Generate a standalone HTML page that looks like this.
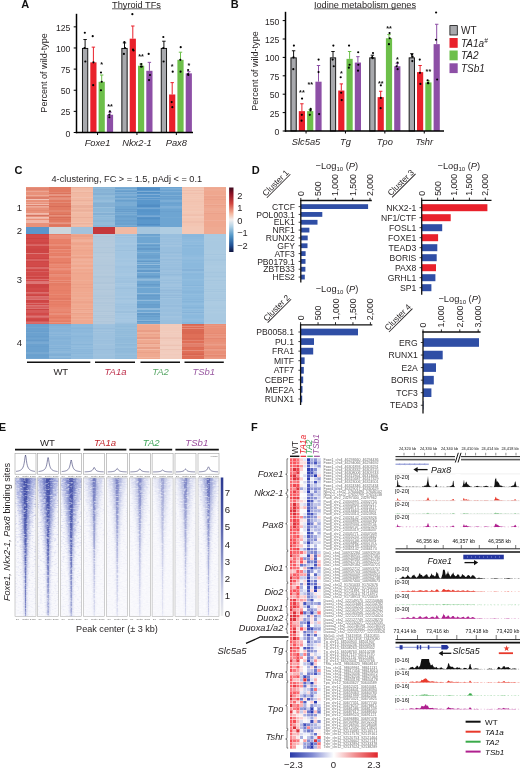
<!DOCTYPE html>
<html lang="en"><head><meta charset="utf-8"><title>Figure</title>
<style>
html,body{margin:0;padding:0;background:#fff}
svg{display:block;font-family:"Liberation Sans",Arial,Helvetica,sans-serif}
</style></head><body>
<svg width="520" height="769" viewBox="0 0 520 769">
<rect width="520" height="769" fill="#fff"/>
<text x="21.2" y="8.1" font-size="11" text-anchor="start" fill="#111" font-weight="bold">A</text>
<text x="136.5" y="7.8" font-size="9.2" text-anchor="middle" fill="#231f20">Thyroid TFs</text>
<line x1="112" y1="8.8" x2="161" y2="8.8" stroke="#231f20" stroke-width="0.7"/>
<rect x="82.45" y="48.43" width="5.3" height="84.07" fill="#a8a9ad" stroke="#111" stroke-width="0.95"/>
<line x1="85.1" y1="47.98" x2="85.1" y2="39.53" stroke="#111" stroke-width="1"/>
<line x1="83.4" y1="39.53" x2="86.8" y2="39.53" stroke="#111" stroke-width="1"/>
<circle cx="84.82" cy="32.77" r="1.08" fill="#000"/>
<circle cx="84.54" cy="47.98" r="1.08" fill="#000"/>
<circle cx="85.34" cy="61.5" r="1.08" fill="#000"/>
<rect x="90.3" y="62.35" width="6.2" height="70.15" fill="#e9212b"/>
<line x1="93.4" y1="62.35" x2="93.4" y2="47.13" stroke="#e9212b" stroke-width="1"/>
<line x1="91.7" y1="47.13" x2="95.1" y2="47.13" stroke="#e9212b" stroke-width="1"/>
<circle cx="92.72" cy="36.15" r="1.08" fill="#000"/>
<circle cx="93.46" cy="62.35" r="1.08" fill="#000"/>
<circle cx="93.19" cy="85.17" r="1.08" fill="#000"/>
<rect x="98.6" y="81.79" width="6.2" height="50.71" fill="#6dbf4a"/>
<line x1="101.7" y1="81.79" x2="101.7" y2="75.03" stroke="#6dbf4a" stroke-width="1"/>
<line x1="100" y1="75.03" x2="103.4" y2="75.03" stroke="#6dbf4a" stroke-width="1"/>
<circle cx="100.99" cy="72.49" r="1.08" fill="#000"/>
<circle cx="101.71" cy="81.79" r="1.08" fill="#000"/>
<circle cx="100.96" cy="90.24" r="1.08" fill="#000"/>
<text x="101.7" y="67.2" font-size="7.2" text-anchor="middle" fill="#111" font-weight="bold">*</text>
<rect x="106.9" y="114.75" width="6.2" height="17.75" fill="#8d4fa6"/>
<line x1="110" y1="114.75" x2="110" y2="112.22" stroke="#8d4fa6" stroke-width="1"/>
<line x1="108.3" y1="112.22" x2="111.7" y2="112.22" stroke="#8d4fa6" stroke-width="1"/>
<circle cx="109.89" cy="111.37" r="1.08" fill="#000"/>
<circle cx="109.31" cy="114.75" r="1.08" fill="#000"/>
<circle cx="109.35" cy="117.29" r="1.08" fill="#000"/>
<text x="110" y="108.7" font-size="7.2" text-anchor="middle" fill="#111" font-weight="bold">**</text>
<rect x="121.85" y="48.43" width="5.3" height="84.07" fill="#a8a9ad" stroke="#111" stroke-width="0.95"/>
<line x1="124.5" y1="47.98" x2="124.5" y2="42.91" stroke="#111" stroke-width="1"/>
<line x1="122.8" y1="42.91" x2="126.2" y2="42.91" stroke="#111" stroke-width="1"/>
<circle cx="124.38" cy="42.06" r="1.08" fill="#000"/>
<circle cx="125.02" cy="47.98" r="1.08" fill="#000"/>
<circle cx="123.9" cy="53.9" r="1.08" fill="#000"/>
<rect x="129.7" y="38.68" width="6.2" height="93.82" fill="#e9212b"/>
<line x1="132.8" y1="38.68" x2="132.8" y2="26" stroke="#e9212b" stroke-width="1"/>
<line x1="131.1" y1="26" x2="134.5" y2="26" stroke="#e9212b" stroke-width="1"/>
<circle cx="132.36" cy="14.17" r="1.08" fill="#000"/>
<circle cx="133" cy="49.67" r="1.08" fill="#000"/>
<circle cx="133.52" cy="50.52" r="1.08" fill="#000"/>
<rect x="138" y="65.73" width="6.2" height="66.77" fill="#6dbf4a"/>
<line x1="141.1" y1="65.73" x2="141.1" y2="64.04" stroke="#6dbf4a" stroke-width="1"/>
<line x1="139.4" y1="64.04" x2="142.8" y2="64.04" stroke="#6dbf4a" stroke-width="1"/>
<circle cx="141.22" cy="64.04" r="1.08" fill="#000"/>
<circle cx="140.93" cy="66.57" r="1.08" fill="#000"/>
<circle cx="141.86" cy="66.57" r="1.08" fill="#000"/>
<text x="141.1" y="58.7" font-size="7.2" text-anchor="middle" fill="#111" font-weight="bold">**</text>
<rect x="146.3" y="70.8" width="6.2" height="61.7" fill="#8d4fa6"/>
<line x1="149.4" y1="70.8" x2="149.4" y2="62.35" stroke="#8d4fa6" stroke-width="1"/>
<line x1="147.7" y1="62.35" x2="151.1" y2="62.35" stroke="#8d4fa6" stroke-width="1"/>
<circle cx="148.67" cy="53.9" r="1.08" fill="#000"/>
<circle cx="149.97" cy="75.03" r="1.08" fill="#000"/>
<circle cx="149.06" cy="80.1" r="1.08" fill="#000"/>
<rect x="161.25" y="48.43" width="5.3" height="84.07" fill="#a8a9ad" stroke="#111" stroke-width="0.95"/>
<line x1="163.9" y1="47.98" x2="163.9" y2="41.22" stroke="#111" stroke-width="1"/>
<line x1="162.2" y1="41.22" x2="165.6" y2="41.22" stroke="#111" stroke-width="1"/>
<circle cx="163.33" cy="36.99" r="1.08" fill="#000"/>
<circle cx="163.29" cy="47.98" r="1.08" fill="#000"/>
<circle cx="163.59" cy="61.5" r="1.08" fill="#000"/>
<rect x="169.1" y="94.47" width="6.2" height="38.03" fill="#e9212b"/>
<line x1="172.2" y1="94.47" x2="172.2" y2="82.63" stroke="#e9212b" stroke-width="1"/>
<line x1="170.5" y1="82.63" x2="173.9" y2="82.63" stroke="#e9212b" stroke-width="1"/>
<circle cx="172.71" cy="71.65" r="1.08" fill="#000"/>
<circle cx="171.69" cy="102.07" r="1.08" fill="#000"/>
<circle cx="172.33" cy="107.14" r="1.08" fill="#000"/>
<text x="172.2" y="69.2" font-size="7.2" text-anchor="middle" fill="#111" font-weight="bold">*</text>
<rect x="177.4" y="59.81" width="6.2" height="72.69" fill="#6dbf4a"/>
<line x1="180.5" y1="59.81" x2="180.5" y2="52.21" stroke="#6dbf4a" stroke-width="1"/>
<line x1="178.8" y1="52.21" x2="182.2" y2="52.21" stroke="#6dbf4a" stroke-width="1"/>
<circle cx="180.72" cy="47.13" r="1.08" fill="#000"/>
<circle cx="180.3" cy="59.81" r="1.08" fill="#000"/>
<circle cx="180.58" cy="71.65" r="1.08" fill="#000"/>
<rect x="185.7" y="73.34" width="6.2" height="59.16" fill="#8d4fa6"/>
<line x1="188.8" y1="73.34" x2="188.8" y2="71.65" stroke="#8d4fa6" stroke-width="1"/>
<line x1="187.1" y1="71.65" x2="190.5" y2="71.65" stroke="#8d4fa6" stroke-width="1"/>
<circle cx="188.1" cy="69.96" r="1.08" fill="#000"/>
<circle cx="188.1" cy="74.18" r="1.08" fill="#000"/>
<circle cx="188.33" cy="75.03" r="1.08" fill="#000"/>
<text x="188.8" y="67.7" font-size="7.2" text-anchor="middle" fill="#111" font-weight="bold">*</text>
<line x1="76.5" y1="13.8" x2="76.5" y2="133.2" stroke="#000" stroke-width="1.5"/>
<line x1="75.8" y1="132.5" x2="193" y2="132.5" stroke="#000" stroke-width="1.5"/>
<line x1="73.7" y1="132.5" x2="76.5" y2="132.5" stroke="#000" stroke-width="1"/>
<text x="70.4" y="136.5" font-size="8.7" text-anchor="end" fill="#231f20">0</text>
<line x1="73.7" y1="111.37" x2="76.5" y2="111.37" stroke="#000" stroke-width="1"/>
<text x="70.4" y="115.37" font-size="8.7" text-anchor="end" fill="#231f20">25</text>
<line x1="73.7" y1="90.24" x2="76.5" y2="90.24" stroke="#000" stroke-width="1"/>
<text x="70.4" y="94.24" font-size="8.7" text-anchor="end" fill="#231f20">50</text>
<line x1="73.7" y1="69.11" x2="76.5" y2="69.11" stroke="#000" stroke-width="1"/>
<text x="70.4" y="73.11" font-size="8.7" text-anchor="end" fill="#231f20">75</text>
<line x1="73.7" y1="47.98" x2="76.5" y2="47.98" stroke="#000" stroke-width="1"/>
<text x="70.4" y="51.98" font-size="8.7" text-anchor="end" fill="#231f20">100</text>
<line x1="73.7" y1="26.85" x2="76.5" y2="26.85" stroke="#000" stroke-width="1"/>
<text x="70.4" y="30.85" font-size="8.7" text-anchor="end" fill="#231f20">125</text>
<line x1="97.55" y1="132.5" x2="97.55" y2="135" stroke="#000" stroke-width="1"/>
<text x="97.55" y="145.6" font-size="9.3" text-anchor="middle" fill="#231f20" font-style="italic">Foxe1</text>
<line x1="136.95" y1="132.5" x2="136.95" y2="135" stroke="#000" stroke-width="1"/>
<text x="136.95" y="145.6" font-size="9.3" text-anchor="middle" fill="#231f20" font-style="italic">Nkx2-1</text>
<line x1="176.35" y1="132.5" x2="176.35" y2="135" stroke="#000" stroke-width="1"/>
<text x="176.35" y="145.6" font-size="9.3" text-anchor="middle" fill="#231f20" font-style="italic">Pax8</text>
<text x="47.2" y="72.9" font-size="9.05" text-anchor="middle" fill="#231f20" transform="rotate(-90 47.2 72.9)">Percent of wild-type</text>
<text x="230.8" y="8" font-size="11" text-anchor="start" fill="#111" font-weight="bold">B</text>
<text x="365" y="7.8" font-size="9.2" text-anchor="middle" fill="#231f20">Iodine metabolism genes</text>
<line x1="314" y1="8.8" x2="416" y2="8.8" stroke="#231f20" stroke-width="0.7"/>
<rect x="290.95" y="57.85" width="5.3" height="73.15" fill="#a8a9ad" stroke="#111" stroke-width="0.95"/>
<line x1="293.6" y1="57.4" x2="293.6" y2="50.78" stroke="#111" stroke-width="1"/>
<line x1="291.9" y1="50.78" x2="295.3" y2="50.78" stroke="#111" stroke-width="1"/>
<circle cx="293.89" cy="45.62" r="1.08" fill="#000"/>
<circle cx="293.48" cy="57.4" r="1.08" fill="#000"/>
<circle cx="293.3" cy="69.18" r="1.08" fill="#000"/>
<rect x="298.8" y="111.13" width="6.2" height="19.87" fill="#e9212b"/>
<line x1="301.9" y1="111.13" x2="301.9" y2="103.77" stroke="#e9212b" stroke-width="1"/>
<line x1="300.2" y1="103.77" x2="303.6" y2="103.77" stroke="#e9212b" stroke-width="1"/>
<circle cx="302.04" cy="98.62" r="1.08" fill="#000"/>
<circle cx="301.83" cy="114.81" r="1.08" fill="#000"/>
<circle cx="301.58" cy="120.7" r="1.08" fill="#000"/>
<text x="301.9" y="94.7" font-size="7.2" text-anchor="middle" fill="#111" font-weight="bold">**</text>
<rect x="307.1" y="111.13" width="6.2" height="19.87" fill="#6dbf4a"/>
<line x1="310.2" y1="111.13" x2="310.2" y2="109.66" stroke="#6dbf4a" stroke-width="1"/>
<line x1="308.5" y1="109.66" x2="311.9" y2="109.66" stroke="#6dbf4a" stroke-width="1"/>
<circle cx="310.67" cy="108.92" r="1.08" fill="#000"/>
<circle cx="310.52" cy="110.39" r="1.08" fill="#000"/>
<circle cx="309.79" cy="114.81" r="1.08" fill="#000"/>
<text x="310.2" y="87.2" font-size="7.2" text-anchor="middle" fill="#111" font-weight="bold">**</text>
<rect x="315.4" y="81.69" width="6.2" height="49.31" fill="#8d4fa6"/>
<line x1="318.5" y1="81.69" x2="318.5" y2="65.5" stroke="#8d4fa6" stroke-width="1"/>
<line x1="316.8" y1="65.5" x2="320.2" y2="65.5" stroke="#8d4fa6" stroke-width="1"/>
<circle cx="318.62" cy="59.61" r="1.08" fill="#000"/>
<circle cx="318.54" cy="72.12" r="1.08" fill="#000"/>
<circle cx="319.1" cy="114.07" r="1.08" fill="#000"/>
<rect x="330.35" y="57.85" width="5.3" height="73.15" fill="#a8a9ad" stroke="#111" stroke-width="0.95"/>
<line x1="333" y1="57.4" x2="333" y2="51.51" stroke="#111" stroke-width="1"/>
<line x1="331.3" y1="51.51" x2="334.7" y2="51.51" stroke="#111" stroke-width="1"/>
<circle cx="333.37" cy="45.62" r="1.08" fill="#000"/>
<circle cx="332.66" cy="59.61" r="1.08" fill="#000"/>
<circle cx="333.77" cy="66.23" r="1.08" fill="#000"/>
<rect x="338.2" y="90.52" width="6.2" height="40.48" fill="#e9212b"/>
<line x1="341.3" y1="90.52" x2="341.3" y2="83.9" stroke="#e9212b" stroke-width="1"/>
<line x1="339.6" y1="83.9" x2="343" y2="83.9" stroke="#e9212b" stroke-width="1"/>
<circle cx="340.69" cy="77.27" r="1.08" fill="#000"/>
<circle cx="341.17" cy="92.73" r="1.08" fill="#000"/>
<circle cx="341.71" cy="100.09" r="1.08" fill="#000"/>
<text x="341.3" y="75.7" font-size="7.2" text-anchor="middle" fill="#111" font-weight="bold">*</text>
<rect x="346.5" y="58.87" width="6.2" height="72.13" fill="#6dbf4a"/>
<line x1="349.6" y1="58.87" x2="349.6" y2="51.51" stroke="#6dbf4a" stroke-width="1"/>
<line x1="347.9" y1="51.51" x2="351.3" y2="51.51" stroke="#6dbf4a" stroke-width="1"/>
<circle cx="349.04" cy="45.62" r="1.08" fill="#000"/>
<circle cx="349.58" cy="64.76" r="1.08" fill="#000"/>
<circle cx="348.86" cy="67.7" r="1.08" fill="#000"/>
<rect x="354.8" y="62.55" width="6.2" height="68.45" fill="#8d4fa6"/>
<line x1="357.9" y1="62.55" x2="357.9" y2="56.66" stroke="#8d4fa6" stroke-width="1"/>
<line x1="356.2" y1="56.66" x2="359.6" y2="56.66" stroke="#8d4fa6" stroke-width="1"/>
<circle cx="358.17" cy="52.25" r="1.08" fill="#000"/>
<circle cx="358.32" cy="64.76" r="1.08" fill="#000"/>
<circle cx="358.02" cy="70.65" r="1.08" fill="#000"/>
<rect x="369.75" y="57.85" width="5.3" height="73.15" fill="#a8a9ad" stroke="#111" stroke-width="0.95"/>
<line x1="372.4" y1="57.4" x2="372.4" y2="55.19" stroke="#111" stroke-width="1"/>
<line x1="370.7" y1="55.19" x2="374.1" y2="55.19" stroke="#111" stroke-width="1"/>
<circle cx="373" cy="52.98" r="1.08" fill="#000"/>
<circle cx="372.1" cy="57.4" r="1.08" fill="#000"/>
<circle cx="372.71" cy="58.14" r="1.08" fill="#000"/>
<rect x="377.6" y="97.14" width="6.2" height="33.86" fill="#e9212b"/>
<line x1="380.7" y1="97.14" x2="380.7" y2="91.26" stroke="#e9212b" stroke-width="1"/>
<line x1="379" y1="91.26" x2="382.4" y2="91.26" stroke="#e9212b" stroke-width="1"/>
<circle cx="380.85" cy="85.37" r="1.08" fill="#000"/>
<circle cx="380.83" cy="97.88" r="1.08" fill="#000"/>
<circle cx="380.63" cy="108.18" r="1.08" fill="#000"/>
<text x="380.7" y="86.2" font-size="7.2" text-anchor="middle" fill="#111" font-weight="bold">**</text>
<rect x="385.9" y="38.26" width="6.2" height="92.74" fill="#6dbf4a"/>
<line x1="389" y1="38.26" x2="389" y2="34.58" stroke="#6dbf4a" stroke-width="1"/>
<line x1="387.3" y1="34.58" x2="390.7" y2="34.58" stroke="#6dbf4a" stroke-width="1"/>
<circle cx="389.54" cy="33.11" r="1.08" fill="#000"/>
<circle cx="389.71" cy="38.26" r="1.08" fill="#000"/>
<circle cx="388.96" cy="44.15" r="1.08" fill="#000"/>
<text x="389" y="31.2" font-size="7.2" text-anchor="middle" fill="#111" font-weight="bold">**</text>
<rect x="394.2" y="66.23" width="6.2" height="64.77" fill="#8d4fa6"/>
<line x1="397.3" y1="66.23" x2="397.3" y2="63.29" stroke="#8d4fa6" stroke-width="1"/>
<line x1="395.6" y1="63.29" x2="399" y2="63.29" stroke="#8d4fa6" stroke-width="1"/>
<circle cx="397.56" cy="62.55" r="1.08" fill="#000"/>
<circle cx="396.6" cy="66.23" r="1.08" fill="#000"/>
<circle cx="397.62" cy="69.18" r="1.08" fill="#000"/>
<text x="397.3" y="61.7" font-size="7.2" text-anchor="middle" fill="#111" font-weight="bold">*</text>
<rect x="409.15" y="57.85" width="5.3" height="73.15" fill="#a8a9ad" stroke="#111" stroke-width="0.95"/>
<line x1="411.8" y1="57.4" x2="411.8" y2="53.72" stroke="#111" stroke-width="1"/>
<line x1="410.1" y1="53.72" x2="413.5" y2="53.72" stroke="#111" stroke-width="1"/>
<circle cx="412.04" cy="54.46" r="1.08" fill="#000"/>
<circle cx="412.59" cy="56.66" r="1.08" fill="#000"/>
<circle cx="412.32" cy="61.08" r="1.08" fill="#000"/>
<rect x="417" y="72.12" width="6.2" height="58.88" fill="#e9212b"/>
<line x1="420.1" y1="72.12" x2="420.1" y2="65.5" stroke="#e9212b" stroke-width="1"/>
<line x1="418.4" y1="65.5" x2="421.8" y2="65.5" stroke="#e9212b" stroke-width="1"/>
<circle cx="419.76" cy="59.61" r="1.08" fill="#000"/>
<circle cx="419.92" cy="72.86" r="1.08" fill="#000"/>
<circle cx="420.37" cy="83.9" r="1.08" fill="#000"/>
<rect x="425.3" y="82.42" width="6.2" height="48.58" fill="#6dbf4a"/>
<line x1="428.4" y1="82.42" x2="428.4" y2="80.95" stroke="#6dbf4a" stroke-width="1"/>
<line x1="426.7" y1="80.95" x2="430.1" y2="80.95" stroke="#6dbf4a" stroke-width="1"/>
<circle cx="427.64" cy="80.22" r="1.08" fill="#000"/>
<circle cx="428.34" cy="83.16" r="1.08" fill="#000"/>
<circle cx="427.87" cy="83.16" r="1.08" fill="#000"/>
<text x="428.4" y="73.7" font-size="7.2" text-anchor="middle" fill="#111" font-weight="bold">**</text>
<rect x="433.6" y="44.15" width="6.2" height="86.85" fill="#8d4fa6"/>
<line x1="436.7" y1="44.15" x2="436.7" y2="24.28" stroke="#8d4fa6" stroke-width="1"/>
<line x1="435" y1="24.28" x2="438.4" y2="24.28" stroke="#8d4fa6" stroke-width="1"/>
<circle cx="436.09" cy="12.5" r="1.08" fill="#000"/>
<circle cx="435.99" cy="39.74" r="1.08" fill="#000"/>
<circle cx="437.13" cy="79.48" r="1.08" fill="#000"/>
<line x1="285.5" y1="11.8" x2="285.5" y2="131.7" stroke="#000" stroke-width="1.5"/>
<line x1="284.8" y1="131" x2="444" y2="131" stroke="#000" stroke-width="1.5"/>
<line x1="282.7" y1="131" x2="285.5" y2="131" stroke="#000" stroke-width="1"/>
<text x="279.4" y="135" font-size="8.7" text-anchor="end" fill="#231f20">0</text>
<line x1="282.7" y1="112.6" x2="285.5" y2="112.6" stroke="#000" stroke-width="1"/>
<text x="279.4" y="116.6" font-size="8.7" text-anchor="end" fill="#231f20">25</text>
<line x1="282.7" y1="94.2" x2="285.5" y2="94.2" stroke="#000" stroke-width="1"/>
<text x="279.4" y="98.2" font-size="8.7" text-anchor="end" fill="#231f20">50</text>
<line x1="282.7" y1="75.8" x2="285.5" y2="75.8" stroke="#000" stroke-width="1"/>
<text x="279.4" y="79.8" font-size="8.7" text-anchor="end" fill="#231f20">75</text>
<line x1="282.7" y1="57.4" x2="285.5" y2="57.4" stroke="#000" stroke-width="1"/>
<text x="279.4" y="61.4" font-size="8.7" text-anchor="end" fill="#231f20">100</text>
<line x1="282.7" y1="39" x2="285.5" y2="39" stroke="#000" stroke-width="1"/>
<text x="279.4" y="43" font-size="8.7" text-anchor="end" fill="#231f20">125</text>
<line x1="282.7" y1="20.6" x2="285.5" y2="20.6" stroke="#000" stroke-width="1"/>
<text x="279.4" y="24.6" font-size="8.7" text-anchor="end" fill="#231f20">150</text>
<line x1="306.05" y1="131" x2="306.05" y2="133.5" stroke="#000" stroke-width="1"/>
<text x="306.05" y="145.4" font-size="9.3" text-anchor="middle" fill="#231f20" font-style="italic">Slc5a5</text>
<line x1="345.45" y1="131" x2="345.45" y2="133.5" stroke="#000" stroke-width="1"/>
<text x="345.45" y="145.4" font-size="9.3" text-anchor="middle" fill="#231f20" font-style="italic">Tg</text>
<line x1="384.85" y1="131" x2="384.85" y2="133.5" stroke="#000" stroke-width="1"/>
<text x="384.85" y="145.4" font-size="9.3" text-anchor="middle" fill="#231f20" font-style="italic">Tpo</text>
<line x1="424.25" y1="131" x2="424.25" y2="133.5" stroke="#000" stroke-width="1"/>
<text x="424.25" y="145.4" font-size="9.3" text-anchor="middle" fill="#231f20" font-style="italic">Tshr</text>
<text x="257.8" y="71" font-size="9.05" text-anchor="middle" fill="#231f20" transform="rotate(-90 257.8 71)">Percent of wild-type</text>
<rect x="449.9" y="25.6" width="7.4" height="9.4" fill="#a8a9ad" stroke="#111" stroke-width="0.8"/>
<text x="461" y="33.8" font-size="10" text-anchor="start" fill="#231f20">WT</text>
<rect x="449.5" y="38" width="8.2" height="9.8" fill="#e9212b"/>
<text x="461" y="46.6" font-size="10" font-style="italic" fill="#231f20">TA1a<tspan font-size="6.5" dy="-3.5">#</tspan></text>
<rect x="449.5" y="50.5" width="8.2" height="9.8" fill="#6dbf4a"/>
<text x="461" y="59.1" font-size="10" text-anchor="start" fill="#231f20" font-style="italic">TA2</text>
<rect x="449.5" y="63.3" width="8.2" height="9.8" fill="#8d4fa6"/>
<text x="461" y="71.9" font-size="10" text-anchor="start" fill="#231f20" font-style="italic">TSb1</text>
<text x="14.5" y="174.2" font-size="11" text-anchor="start" fill="#111" font-weight="bold">C</text>
<text x="126.8" y="182" font-size="9.2" text-anchor="middle" fill="#231f20">4-clustering, FC &gt; = 1.5, pAdj &lt; = 0.1</text>
<g shape-rendering="crispEdges">
<rect x="26.3" y="187" width="22.25" height="39.8" fill="#e8917a"/>
<rect x="26.3" y="188.4" width="22.2" height="1.4" fill="#a01414" opacity="0.09"/>
<rect x="26.3" y="191.2" width="22.2" height="1" fill="#fff" opacity="0.18"/>
<rect x="26.3" y="195.4" width="22.2" height="0.8" fill="#fff" opacity="0.23"/>
<rect x="26.3" y="197" width="22.2" height="1" fill="#a01414" opacity="0.15"/>
<rect x="26.3" y="198" width="22.2" height="1" fill="#a01414" opacity="0.14"/>
<rect x="26.3" y="199" width="22.2" height="1" fill="#fff" opacity="0.46"/>
<rect x="26.3" y="201.8" width="22.2" height="1" fill="#fff" opacity="0.19"/>
<rect x="26.3" y="203.6" width="22.2" height="1.4" fill="#fff" opacity="0.38"/>
<rect x="26.3" y="205" width="22.2" height="1" fill="#a01414" opacity="0.14"/>
<rect x="26.3" y="206" width="22.2" height="1.4" fill="#fff" opacity="0.22"/>
<rect x="26.3" y="207.4" width="22.2" height="1" fill="#fff" opacity="0.15"/>
<rect x="26.3" y="209.8" width="22.2" height="0.8" fill="#a01414" opacity="0.06"/>
<rect x="26.3" y="213" width="22.2" height="1" fill="#fff" opacity="0.39"/>
<rect x="26.3" y="214" width="22.2" height="1" fill="#fff" opacity="0.28"/>
<rect x="26.3" y="215" width="22.2" height="1" fill="#a01414" opacity="0.24"/>
<rect x="26.3" y="217" width="22.2" height="0.8" fill="#fff" opacity="0.43"/>
<rect x="26.3" y="217.8" width="22.2" height="0.8" fill="#fff" opacity="0.3"/>
<rect x="26.3" y="220.4" width="22.2" height="1.4" fill="#fff" opacity="0.34"/>
<rect x="26.3" y="221.8" width="22.2" height="1" fill="#fff" opacity="0.36"/>
<rect x="48.5" y="187" width="22.25" height="39.8" fill="#e17a62"/>
<rect x="48.5" y="192.4" width="22.2" height="0.8" fill="#fff" opacity="0.09"/>
<rect x="48.5" y="193.2" width="22.2" height="1" fill="#a01414" opacity="0.06"/>
<rect x="48.5" y="194.2" width="22.2" height="1.4" fill="#fff" opacity="0.21"/>
<rect x="48.5" y="195.6" width="22.2" height="0.8" fill="#fff" opacity="0.2"/>
<rect x="48.5" y="196.4" width="22.2" height="0.8" fill="#a01414" opacity="0.05"/>
<rect x="48.5" y="197.2" width="22.2" height="0.8" fill="#fff" opacity="0.12"/>
<rect x="48.5" y="198" width="22.2" height="0.8" fill="#fff" opacity="0.18"/>
<rect x="48.5" y="198.8" width="22.2" height="1" fill="#fff" opacity="0.16"/>
<rect x="48.5" y="201.8" width="22.2" height="0.8" fill="#fff" opacity="0.13"/>
<rect x="48.5" y="202.6" width="22.2" height="0.8" fill="#a01414" opacity="0.08"/>
<rect x="48.5" y="203.4" width="22.2" height="1" fill="#a01414" opacity="0.04"/>
<rect x="48.5" y="206.4" width="22.2" height="1" fill="#a01414" opacity="0.12"/>
<rect x="48.5" y="210.4" width="22.2" height="1.4" fill="#fff" opacity="0.09"/>
<rect x="48.5" y="213.6" width="22.2" height="1" fill="#a01414" opacity="0.09"/>
<rect x="48.5" y="214.6" width="22.2" height="1.4" fill="#fff" opacity="0.17"/>
<rect x="48.5" y="216" width="22.2" height="0.8" fill="#fff" opacity="0.08"/>
<rect x="48.5" y="216.8" width="22.2" height="0.8" fill="#a01414" opacity="0.12"/>
<rect x="48.5" y="218.6" width="22.2" height="1" fill="#a01414" opacity="0.05"/>
<rect x="48.5" y="221.6" width="22.2" height="1.4" fill="#fff" opacity="0.15"/>
<rect x="48.5" y="223" width="22.2" height="1" fill="#fff" opacity="0.22"/>
<rect x="48.5" y="225" width="22.2" height="1.4" fill="#a01414" opacity="0.05"/>
<rect x="70.7" y="187" width="22.25" height="39.8" fill="#f1b9a3"/>
<rect x="70.7" y="187" width="22.2" height="1" fill="#a01414" opacity="0.06"/>
<rect x="70.7" y="189.8" width="22.2" height="0.8" fill="#fff" opacity="0.06"/>
<rect x="70.7" y="190.6" width="22.2" height="1.4" fill="#fff" opacity="0.1"/>
<rect x="70.7" y="192" width="22.2" height="1.4" fill="#a01414" opacity="0.03"/>
<rect x="70.7" y="197" width="22.2" height="1.4" fill="#fff" opacity="0.11"/>
<rect x="70.7" y="200.2" width="22.2" height="0.8" fill="#a01414" opacity="0.05"/>
<rect x="70.7" y="202" width="22.2" height="1" fill="#fff" opacity="0.06"/>
<rect x="70.7" y="203.8" width="22.2" height="0.8" fill="#fff" opacity="0.07"/>
<rect x="70.7" y="204.6" width="22.2" height="1" fill="#a01414" opacity="0.06"/>
<rect x="70.7" y="205.6" width="22.2" height="0.8" fill="#a01414" opacity="0.03"/>
<rect x="70.7" y="206.4" width="22.2" height="1.4" fill="#a01414" opacity="0.06"/>
<rect x="70.7" y="209.2" width="22.2" height="1" fill="#a01414" opacity="0.03"/>
<rect x="70.7" y="210.2" width="22.2" height="0.8" fill="#a01414" opacity="0.06"/>
<rect x="70.7" y="211" width="22.2" height="1" fill="#a01414" opacity="0.03"/>
<rect x="70.7" y="212" width="22.2" height="0.8" fill="#fff" opacity="0.08"/>
<rect x="70.7" y="216.6" width="22.2" height="0.8" fill="#fff" opacity="0.09"/>
<rect x="70.7" y="217.4" width="22.2" height="1" fill="#a01414" opacity="0.06"/>
<rect x="70.7" y="222" width="22.2" height="1.4" fill="#fff" opacity="0.1"/>
<rect x="70.7" y="223.4" width="22.2" height="1" fill="#a01414" opacity="0.04"/>
<rect x="70.7" y="225.4" width="22.2" height="1" fill="#fff" opacity="0.09"/>
<rect x="92.9" y="187" width="22.25" height="39.8" fill="#8bb7d8"/>
<rect x="92.9" y="188" width="22.2" height="1" fill="#fff" opacity="0.04"/>
<rect x="92.9" y="189" width="22.2" height="1.4" fill="#0d3f86" opacity="0.04"/>
<rect x="92.9" y="190.4" width="22.2" height="1.4" fill="#0d3f86" opacity="0.02"/>
<rect x="92.9" y="193.4" width="22.2" height="1.4" fill="#0d3f86" opacity="0.05"/>
<rect x="92.9" y="194.8" width="22.2" height="1" fill="#fff" opacity="0.06"/>
<rect x="92.9" y="195.8" width="22.2" height="1.4" fill="#fff" opacity="0.07"/>
<rect x="92.9" y="199" width="22.2" height="0.8" fill="#fff" opacity="0.04"/>
<rect x="92.9" y="199.8" width="22.2" height="1" fill="#fff" opacity="0.08"/>
<rect x="92.9" y="200.8" width="22.2" height="0.8" fill="#fff" opacity="0.1"/>
<rect x="92.9" y="202.6" width="22.2" height="1.4" fill="#0d3f86" opacity="0.05"/>
<rect x="92.9" y="204" width="22.2" height="1" fill="#0d3f86" opacity="0.04"/>
<rect x="92.9" y="205" width="22.2" height="1" fill="#0d3f86" opacity="0.04"/>
<rect x="92.9" y="206" width="22.2" height="1" fill="#0d3f86" opacity="0.05"/>
<rect x="92.9" y="207" width="22.2" height="1" fill="#fff" opacity="0.11"/>
<rect x="92.9" y="212" width="22.2" height="1" fill="#fff" opacity="0.11"/>
<rect x="92.9" y="213" width="22.2" height="1" fill="#0d3f86" opacity="0.05"/>
<rect x="92.9" y="214" width="22.2" height="0.8" fill="#0d3f86" opacity="0.05"/>
<rect x="92.9" y="214.8" width="22.2" height="1" fill="#fff" opacity="0.09"/>
<rect x="92.9" y="216.8" width="22.2" height="1.4" fill="#fff" opacity="0.08"/>
<rect x="92.9" y="218.2" width="22.2" height="1.4" fill="#fff" opacity="0.05"/>
<rect x="92.9" y="222.4" width="22.2" height="1.4" fill="#fff" opacity="0.07"/>
<rect x="92.9" y="223.8" width="22.2" height="1.4" fill="#fff" opacity="0.08"/>
<rect x="115.1" y="187" width="22.25" height="39.8" fill="#6fa5d1"/>
<rect x="115.1" y="187" width="22.2" height="1" fill="#fff" opacity="0.09"/>
<rect x="115.1" y="189" width="22.2" height="0.8" fill="#fff" opacity="0.15"/>
<rect x="115.1" y="191.2" width="22.2" height="1" fill="#0d3f86" opacity="0.07"/>
<rect x="115.1" y="192.2" width="22.2" height="1" fill="#fff" opacity="0.13"/>
<rect x="115.1" y="194.2" width="22.2" height="1.4" fill="#fff" opacity="0.11"/>
<rect x="115.1" y="196.6" width="22.2" height="1" fill="#0d3f86" opacity="0.02"/>
<rect x="115.1" y="197.6" width="22.2" height="1" fill="#fff" opacity="0.15"/>
<rect x="115.1" y="198.6" width="22.2" height="0.8" fill="#0d3f86" opacity="0.06"/>
<rect x="115.1" y="199.4" width="22.2" height="1" fill="#fff" opacity="0.07"/>
<rect x="115.1" y="200.4" width="22.2" height="0.8" fill="#0d3f86" opacity="0.06"/>
<rect x="115.1" y="202" width="22.2" height="0.8" fill="#fff" opacity="0.08"/>
<rect x="115.1" y="202.8" width="22.2" height="1.4" fill="#fff" opacity="0.07"/>
<rect x="115.1" y="204.2" width="22.2" height="1.4" fill="#fff" opacity="0.08"/>
<rect x="115.1" y="208.8" width="22.2" height="0.8" fill="#0d3f86" opacity="0.08"/>
<rect x="115.1" y="211" width="22.2" height="1" fill="#0d3f86" opacity="0.07"/>
<rect x="115.1" y="212" width="22.2" height="0.8" fill="#fff" opacity="0.08"/>
<rect x="115.1" y="214.2" width="22.2" height="1" fill="#fff" opacity="0.08"/>
<rect x="115.1" y="216.2" width="22.2" height="1" fill="#0d3f86" opacity="0.06"/>
<rect x="115.1" y="217.2" width="22.2" height="1" fill="#0d3f86" opacity="0.02"/>
<rect x="115.1" y="220" width="22.2" height="1" fill="#0d3f86" opacity="0.05"/>
<rect x="115.1" y="221" width="22.2" height="1.4" fill="#0d3f86" opacity="0.02"/>
<rect x="115.1" y="223.2" width="22.2" height="1.4" fill="#0d3f86" opacity="0.03"/>
<rect x="115.1" y="224.6" width="22.2" height="0.8" fill="#fff" opacity="0.06"/>
<rect x="115.1" y="225.4" width="22.2" height="0.8" fill="#fff" opacity="0.09"/>
<rect x="137.3" y="187" width="22.25" height="39.8" fill="#5a97cc"/>
<rect x="137.3" y="188.4" width="22.2" height="1.4" fill="#0d3f86" opacity="0.1"/>
<rect x="137.3" y="190.8" width="22.2" height="1" fill="#fff" opacity="0.21"/>
<rect x="137.3" y="191.8" width="22.2" height="1" fill="#0d3f86" opacity="0.09"/>
<rect x="137.3" y="193.8" width="22.2" height="1" fill="#fff" opacity="0.22"/>
<rect x="137.3" y="196.6" width="22.2" height="0.8" fill="#fff" opacity="0.17"/>
<rect x="137.3" y="197.4" width="22.2" height="0.8" fill="#fff" opacity="0.19"/>
<rect x="137.3" y="199.2" width="22.2" height="1" fill="#fff" opacity="0.12"/>
<rect x="137.3" y="203.8" width="22.2" height="1" fill="#0d3f86" opacity="0.06"/>
<rect x="137.3" y="204.8" width="22.2" height="1" fill="#0d3f86" opacity="0.11"/>
<rect x="137.3" y="205.8" width="22.2" height="1" fill="#0d3f86" opacity="0.1"/>
<rect x="137.3" y="206.8" width="22.2" height="1" fill="#fff" opacity="0.08"/>
<rect x="137.3" y="207.8" width="22.2" height="1" fill="#fff" opacity="0.16"/>
<rect x="137.3" y="210.2" width="22.2" height="1.4" fill="#0d3f86" opacity="0.03"/>
<rect x="137.3" y="214.8" width="22.2" height="1" fill="#fff" opacity="0.13"/>
<rect x="137.3" y="215.8" width="22.2" height="1" fill="#fff" opacity="0.18"/>
<rect x="137.3" y="216.8" width="22.2" height="1" fill="#0d3f86" opacity="0.05"/>
<rect x="137.3" y="217.8" width="22.2" height="1" fill="#0d3f86" opacity="0.09"/>
<rect x="137.3" y="218.8" width="22.2" height="1" fill="#0d3f86" opacity="0.03"/>
<rect x="137.3" y="224.2" width="22.2" height="1" fill="#0d3f86" opacity="0.1"/>
<rect x="137.3" y="226.2" width="22.2" height="0.6" fill="#fff" opacity="0.16"/>
<rect x="159.5" y="187" width="22.25" height="39.8" fill="#6ea5d2"/>
<rect x="159.5" y="187.8" width="22.2" height="1.4" fill="#fff" opacity="0.11"/>
<rect x="159.5" y="189.2" width="22.2" height="0.8" fill="#fff" opacity="0.05"/>
<rect x="159.5" y="190" width="22.2" height="1" fill="#0d3f86" opacity="0.02"/>
<rect x="159.5" y="191" width="22.2" height="1.4" fill="#fff" opacity="0.11"/>
<rect x="159.5" y="193.4" width="22.2" height="1.4" fill="#0d3f86" opacity="0.03"/>
<rect x="159.5" y="194.8" width="22.2" height="1" fill="#fff" opacity="0.1"/>
<rect x="159.5" y="195.8" width="22.2" height="0.8" fill="#0d3f86" opacity="0.05"/>
<rect x="159.5" y="198.2" width="22.2" height="0.8" fill="#0d3f86" opacity="0.05"/>
<rect x="159.5" y="200.4" width="22.2" height="1" fill="#fff" opacity="0.1"/>
<rect x="159.5" y="201.4" width="22.2" height="1" fill="#fff" opacity="0.09"/>
<rect x="159.5" y="203.4" width="22.2" height="0.8" fill="#0d3f86" opacity="0.03"/>
<rect x="159.5" y="206.2" width="22.2" height="1.4" fill="#fff" opacity="0.11"/>
<rect x="159.5" y="207.6" width="22.2" height="1" fill="#fff" opacity="0.06"/>
<rect x="159.5" y="211" width="22.2" height="1" fill="#0d3f86" opacity="0.04"/>
<rect x="159.5" y="216.8" width="22.2" height="0.8" fill="#fff" opacity="0.04"/>
<rect x="181.7" y="187" width="22.25" height="39.8" fill="#f3c5b2"/>
<rect x="181.7" y="187" width="22.2" height="1" fill="#a01414" opacity="0.01"/>
<rect x="181.7" y="189" width="22.2" height="1" fill="#fff" opacity="0.06"/>
<rect x="181.7" y="190" width="22.2" height="1" fill="#a01414" opacity="0.04"/>
<rect x="181.7" y="191" width="22.2" height="1" fill="#fff" opacity="0.06"/>
<rect x="181.7" y="192.8" width="22.2" height="1.4" fill="#a01414" opacity="0.03"/>
<rect x="181.7" y="194.2" width="22.2" height="1" fill="#fff" opacity="0.04"/>
<rect x="181.7" y="196" width="22.2" height="1.4" fill="#fff" opacity="0.05"/>
<rect x="181.7" y="198.4" width="22.2" height="1" fill="#fff" opacity="0.06"/>
<rect x="181.7" y="200.8" width="22.2" height="0.8" fill="#a01414" opacity="0.01"/>
<rect x="181.7" y="204.6" width="22.2" height="1.4" fill="#fff" opacity="0.05"/>
<rect x="181.7" y="207.8" width="22.2" height="1" fill="#fff" opacity="0.05"/>
<rect x="181.7" y="211.2" width="22.2" height="0.8" fill="#fff" opacity="0.07"/>
<rect x="181.7" y="212" width="22.2" height="1" fill="#fff" opacity="0.05"/>
<rect x="181.7" y="213" width="22.2" height="1" fill="#fff" opacity="0.03"/>
<rect x="181.7" y="214" width="22.2" height="0.8" fill="#a01414" opacity="0.02"/>
<rect x="181.7" y="214.8" width="22.2" height="1" fill="#a01414" opacity="0.03"/>
<rect x="181.7" y="215.8" width="22.2" height="0.8" fill="#fff" opacity="0.08"/>
<rect x="181.7" y="216.6" width="22.2" height="1.4" fill="#fff" opacity="0.08"/>
<rect x="181.7" y="221.4" width="22.2" height="1.4" fill="#a01414" opacity="0.03"/>
<rect x="181.7" y="226.2" width="22.2" height="0.6" fill="#fff" opacity="0.04"/>
<rect x="203.9" y="187" width="22.25" height="39.8" fill="#efa78f"/>
<rect x="203.9" y="187" width="22.2" height="1.4" fill="#fff" opacity="0.06"/>
<rect x="203.9" y="189.4" width="22.2" height="1" fill="#fff" opacity="0.05"/>
<rect x="203.9" y="190.4" width="22.2" height="1" fill="#fff" opacity="0.04"/>
<rect x="203.9" y="195.2" width="22.2" height="1" fill="#fff" opacity="0.08"/>
<rect x="203.9" y="196.2" width="22.2" height="1" fill="#a01414" opacity="0.02"/>
<rect x="203.9" y="197.2" width="22.2" height="0.8" fill="#a01414" opacity="0.02"/>
<rect x="203.9" y="198.8" width="22.2" height="1" fill="#a01414" opacity="0.04"/>
<rect x="203.9" y="201.6" width="22.2" height="0.8" fill="#a01414" opacity="0.02"/>
<rect x="203.9" y="204.4" width="22.2" height="0.8" fill="#fff" opacity="0.08"/>
<rect x="203.9" y="205.2" width="22.2" height="1" fill="#a01414" opacity="0.04"/>
<rect x="203.9" y="207.6" width="22.2" height="0.8" fill="#fff" opacity="0.03"/>
<rect x="203.9" y="208.4" width="22.2" height="1.4" fill="#fff" opacity="0.05"/>
<rect x="203.9" y="209.8" width="22.2" height="1" fill="#fff" opacity="0.05"/>
<rect x="203.9" y="211.6" width="22.2" height="1" fill="#fff" opacity="0.04"/>
<rect x="203.9" y="212.6" width="22.2" height="1" fill="#a01414" opacity="0.04"/>
<rect x="203.9" y="220" width="22.2" height="1" fill="#fff" opacity="0.09"/>
<rect x="26.3" y="226.8" width="22.25" height="7.5" fill="#5b96cb"/>
<rect x="48.5" y="226.8" width="22.25" height="7.5" fill="#ccd6dd"/>
<rect x="70.7" y="226.8" width="22.25" height="7.5" fill="#a3c2dc"/>
<rect x="92.9" y="226.8" width="22.25" height="7.5" fill="#c5383b"/>
<rect x="115.1" y="226.8" width="22.25" height="7.5" fill="#f1b9a3"/>
<rect x="137.3" y="226.8" width="22.25" height="7.5" fill="#a6c6de"/>
<rect x="159.5" y="226.8" width="22.25" height="7.5" fill="#b0cde2"/>
<rect x="181.7" y="226.8" width="22.25" height="7.5" fill="#f3c8b6"/>
<rect x="203.9" y="226.8" width="22.25" height="7.5" fill="#efaa92"/>
<rect x="26.3" y="234.3" width="22.25" height="89.5" fill="#d24a49"/>
<rect x="26.3" y="234.3" width="22.2" height="0.8" fill="#a01414" opacity="0.06"/>
<rect x="26.3" y="237.9" width="22.2" height="1" fill="#a01414" opacity="0.12"/>
<rect x="26.3" y="242.1" width="22.2" height="1" fill="#a01414" opacity="0.09"/>
<rect x="26.3" y="243.1" width="22.2" height="0.8" fill="#a01414" opacity="0.04"/>
<rect x="26.3" y="243.9" width="22.2" height="1.4" fill="#fff" opacity="0.13"/>
<rect x="26.3" y="245.3" width="22.2" height="1" fill="#fff" opacity="0.16"/>
<rect x="26.3" y="246.3" width="22.2" height="1.4" fill="#a01414" opacity="0.05"/>
<rect x="26.3" y="247.7" width="22.2" height="1" fill="#a01414" opacity="0.06"/>
<rect x="26.3" y="248.7" width="22.2" height="1.4" fill="#a01414" opacity="0.11"/>
<rect x="26.3" y="250.1" width="22.2" height="1" fill="#a01414" opacity="0.1"/>
<rect x="26.3" y="251.1" width="22.2" height="0.8" fill="#a01414" opacity="0.07"/>
<rect x="26.3" y="251.9" width="22.2" height="1.4" fill="#a01414" opacity="0.1"/>
<rect x="26.3" y="253.3" width="22.2" height="1" fill="#fff" opacity="0.25"/>
<rect x="26.3" y="258.1" width="22.2" height="1" fill="#a01414" opacity="0.11"/>
<rect x="26.3" y="259.1" width="22.2" height="1.4" fill="#fff" opacity="0.13"/>
<rect x="26.3" y="260.5" width="22.2" height="1" fill="#a01414" opacity="0.08"/>
<rect x="26.3" y="266.3" width="22.2" height="1" fill="#a01414" opacity="0.08"/>
<rect x="26.3" y="267.3" width="22.2" height="0.8" fill="#fff" opacity="0.17"/>
<rect x="26.3" y="268.1" width="22.2" height="0.8" fill="#fff" opacity="0.17"/>
<rect x="26.3" y="270.3" width="22.2" height="0.8" fill="#a01414" opacity="0.05"/>
<rect x="26.3" y="271.1" width="22.2" height="1" fill="#fff" opacity="0.11"/>
<rect x="26.3" y="273.9" width="22.2" height="1.4" fill="#a01414" opacity="0.04"/>
<rect x="26.3" y="276.1" width="22.2" height="1" fill="#fff" opacity="0.09"/>
<rect x="26.3" y="277.1" width="22.2" height="1" fill="#a01414" opacity="0.1"/>
<rect x="26.3" y="279.1" width="22.2" height="1" fill="#fff" opacity="0.2"/>
<rect x="26.3" y="281.1" width="22.2" height="1" fill="#fff" opacity="0.23"/>
<rect x="26.3" y="282.1" width="22.2" height="1.4" fill="#fff" opacity="0.25"/>
<rect x="26.3" y="284.3" width="22.2" height="1" fill="#a01414" opacity="0.09"/>
<rect x="26.3" y="285.3" width="22.2" height="1.4" fill="#a01414" opacity="0.11"/>
<rect x="26.3" y="286.7" width="22.2" height="0.8" fill="#a01414" opacity="0.09"/>
<rect x="26.3" y="288.5" width="22.2" height="0.8" fill="#fff" opacity="0.14"/>
<rect x="26.3" y="290.3" width="22.2" height="1.4" fill="#a01414" opacity="0.05"/>
<rect x="26.3" y="291.7" width="22.2" height="1" fill="#fff" opacity="0.2"/>
<rect x="26.3" y="292.7" width="22.2" height="1.4" fill="#fff" opacity="0.14"/>
<rect x="26.3" y="295.1" width="22.2" height="0.8" fill="#a01414" opacity="0.09"/>
<rect x="26.3" y="295.9" width="22.2" height="1" fill="#fff" opacity="0.21"/>
<rect x="26.3" y="296.9" width="22.2" height="0.8" fill="#fff" opacity="0.17"/>
<rect x="26.3" y="297.7" width="22.2" height="0.8" fill="#fff" opacity="0.15"/>
<rect x="26.3" y="299.3" width="22.2" height="1" fill="#fff" opacity="0.23"/>
<rect x="26.3" y="300.3" width="22.2" height="1.4" fill="#a01414" opacity="0.07"/>
<rect x="26.3" y="302.7" width="22.2" height="1" fill="#fff" opacity="0.19"/>
<rect x="26.3" y="304.5" width="22.2" height="1" fill="#fff" opacity="0.23"/>
<rect x="26.3" y="305.5" width="22.2" height="1.4" fill="#fff" opacity="0.15"/>
<rect x="26.3" y="306.9" width="22.2" height="1" fill="#fff" opacity="0.11"/>
<rect x="26.3" y="307.9" width="22.2" height="1" fill="#fff" opacity="0.21"/>
<rect x="26.3" y="308.9" width="22.2" height="1.4" fill="#a01414" opacity="0.1"/>
<rect x="26.3" y="310.3" width="22.2" height="1.4" fill="#fff" opacity="0.09"/>
<rect x="26.3" y="311.7" width="22.2" height="1" fill="#fff" opacity="0.08"/>
<rect x="26.3" y="315.1" width="22.2" height="1" fill="#fff" opacity="0.11"/>
<rect x="26.3" y="316.1" width="22.2" height="1" fill="#fff" opacity="0.23"/>
<rect x="26.3" y="317.1" width="22.2" height="0.8" fill="#fff" opacity="0.15"/>
<rect x="26.3" y="318.7" width="22.2" height="1.4" fill="#a01414" opacity="0.08"/>
<rect x="26.3" y="320.1" width="22.2" height="0.8" fill="#a01414" opacity="0.08"/>
<rect x="26.3" y="320.9" width="22.2" height="1" fill="#fff" opacity="0.09"/>
<rect x="26.3" y="321.9" width="22.2" height="1" fill="#fff" opacity="0.2"/>
<rect x="26.3" y="322.9" width="22.2" height="0.9" fill="#fff" opacity="0.15"/>
<rect x="48.5" y="234.3" width="22.25" height="89.5" fill="#e88069"/>
<rect x="48.5" y="235.3" width="22.2" height="1.4" fill="#fff" opacity="0.13"/>
<rect x="48.5" y="236.7" width="22.2" height="1" fill="#fff" opacity="0.11"/>
<rect x="48.5" y="237.7" width="22.2" height="1" fill="#fff" opacity="0.11"/>
<rect x="48.5" y="243.3" width="22.2" height="1" fill="#a01414" opacity="0.02"/>
<rect x="48.5" y="244.3" width="22.2" height="1.4" fill="#fff" opacity="0.09"/>
<rect x="48.5" y="245.7" width="22.2" height="1" fill="#a01414" opacity="0.03"/>
<rect x="48.5" y="246.7" width="22.2" height="1.4" fill="#a01414" opacity="0.04"/>
<rect x="48.5" y="248.1" width="22.2" height="1" fill="#a01414" opacity="0.07"/>
<rect x="48.5" y="249.1" width="22.2" height="1" fill="#fff" opacity="0.13"/>
<rect x="48.5" y="251.9" width="22.2" height="0.8" fill="#fff" opacity="0.09"/>
<rect x="48.5" y="252.7" width="22.2" height="0.8" fill="#a01414" opacity="0.03"/>
<rect x="48.5" y="254.5" width="22.2" height="0.8" fill="#fff" opacity="0.13"/>
<rect x="48.5" y="255.3" width="22.2" height="1" fill="#a01414" opacity="0.03"/>
<rect x="48.5" y="256.3" width="22.2" height="1.4" fill="#fff" opacity="0.13"/>
<rect x="48.5" y="261.7" width="22.2" height="0.8" fill="#a01414" opacity="0.07"/>
<rect x="48.5" y="263.9" width="22.2" height="1.4" fill="#fff" opacity="0.1"/>
<rect x="48.5" y="265.3" width="22.2" height="1" fill="#fff" opacity="0.05"/>
<rect x="48.5" y="266.3" width="22.2" height="1" fill="#fff" opacity="0.07"/>
<rect x="48.5" y="268.1" width="22.2" height="1.4" fill="#fff" opacity="0.13"/>
<rect x="48.5" y="270.3" width="22.2" height="1" fill="#fff" opacity="0.05"/>
<rect x="48.5" y="273.3" width="22.2" height="1" fill="#a01414" opacity="0.04"/>
<rect x="48.5" y="274.3" width="22.2" height="1" fill="#fff" opacity="0.12"/>
<rect x="48.5" y="275.3" width="22.2" height="1.4" fill="#fff" opacity="0.08"/>
<rect x="48.5" y="279.5" width="22.2" height="1" fill="#fff" opacity="0.12"/>
<rect x="48.5" y="280.5" width="22.2" height="1.4" fill="#a01414" opacity="0.04"/>
<rect x="48.5" y="281.9" width="22.2" height="1.4" fill="#fff" opacity="0.1"/>
<rect x="48.5" y="283.3" width="22.2" height="1.4" fill="#a01414" opacity="0.04"/>
<rect x="48.5" y="284.7" width="22.2" height="1" fill="#a01414" opacity="0.03"/>
<rect x="48.5" y="290.1" width="22.2" height="1" fill="#a01414" opacity="0.03"/>
<rect x="48.5" y="293.5" width="22.2" height="1" fill="#fff" opacity="0.07"/>
<rect x="48.5" y="294.5" width="22.2" height="1.4" fill="#a01414" opacity="0.03"/>
<rect x="48.5" y="297.7" width="22.2" height="1" fill="#a01414" opacity="0.07"/>
<rect x="48.5" y="298.7" width="22.2" height="0.8" fill="#a01414" opacity="0.06"/>
<rect x="48.5" y="299.5" width="22.2" height="1.4" fill="#fff" opacity="0.09"/>
<rect x="48.5" y="300.9" width="22.2" height="1" fill="#a01414" opacity="0.04"/>
<rect x="48.5" y="304.3" width="22.2" height="1" fill="#a01414" opacity="0.03"/>
<rect x="48.5" y="307.3" width="22.2" height="1.4" fill="#fff" opacity="0.05"/>
<rect x="48.5" y="308.7" width="22.2" height="1" fill="#fff" opacity="0.08"/>
<rect x="48.5" y="309.7" width="22.2" height="0.8" fill="#fff" opacity="0.07"/>
<rect x="48.5" y="310.5" width="22.2" height="0.8" fill="#fff" opacity="0.12"/>
<rect x="48.5" y="311.3" width="22.2" height="0.8" fill="#fff" opacity="0.06"/>
<rect x="48.5" y="313.1" width="22.2" height="1.4" fill="#fff" opacity="0.12"/>
<rect x="48.5" y="316.9" width="22.2" height="1" fill="#a01414" opacity="0.06"/>
<rect x="48.5" y="319.3" width="22.2" height="0.8" fill="#fff" opacity="0.06"/>
<rect x="48.5" y="320.9" width="22.2" height="1" fill="#a01414" opacity="0.03"/>
<rect x="48.5" y="321.9" width="22.2" height="1.4" fill="#fff" opacity="0.14"/>
<rect x="70.7" y="234.3" width="22.25" height="89.5" fill="#f0a88f"/>
<rect x="70.7" y="235.3" width="22.2" height="1.4" fill="#a01414" opacity="0.05"/>
<rect x="70.7" y="237.5" width="22.2" height="1.4" fill="#a01414" opacity="0.02"/>
<rect x="70.7" y="238.9" width="22.2" height="0.8" fill="#fff" opacity="0.06"/>
<rect x="70.7" y="239.7" width="22.2" height="1" fill="#fff" opacity="0.11"/>
<rect x="70.7" y="240.7" width="22.2" height="1.4" fill="#fff" opacity="0.1"/>
<rect x="70.7" y="243.1" width="22.2" height="1" fill="#a01414" opacity="0.02"/>
<rect x="70.7" y="244.1" width="22.2" height="1" fill="#a01414" opacity="0.02"/>
<rect x="70.7" y="245.1" width="22.2" height="0.8" fill="#fff" opacity="0.05"/>
<rect x="70.7" y="245.9" width="22.2" height="0.8" fill="#fff" opacity="0.07"/>
<rect x="70.7" y="247.7" width="22.2" height="1" fill="#fff" opacity="0.04"/>
<rect x="70.7" y="249.5" width="22.2" height="1" fill="#a01414" opacity="0.02"/>
<rect x="70.7" y="254.7" width="22.2" height="1" fill="#fff" opacity="0.09"/>
<rect x="70.7" y="257.1" width="22.2" height="0.8" fill="#a01414" opacity="0.05"/>
<rect x="70.7" y="257.9" width="22.2" height="1.4" fill="#fff" opacity="0.04"/>
<rect x="70.7" y="259.3" width="22.2" height="1.4" fill="#fff" opacity="0.1"/>
<rect x="70.7" y="260.7" width="22.2" height="1" fill="#fff" opacity="0.04"/>
<rect x="70.7" y="261.7" width="22.2" height="0.8" fill="#fff" opacity="0.06"/>
<rect x="70.7" y="263.3" width="22.2" height="1" fill="#fff" opacity="0.11"/>
<rect x="70.7" y="264.3" width="22.2" height="1" fill="#fff" opacity="0.08"/>
<rect x="70.7" y="267.1" width="22.2" height="1.4" fill="#fff" opacity="0.11"/>
<rect x="70.7" y="269.5" width="22.2" height="0.8" fill="#a01414" opacity="0.02"/>
<rect x="70.7" y="271.1" width="22.2" height="1" fill="#fff" opacity="0.05"/>
<rect x="70.7" y="272.9" width="22.2" height="1" fill="#a01414" opacity="0.02"/>
<rect x="70.7" y="279.5" width="22.2" height="1" fill="#fff" opacity="0.06"/>
<rect x="70.7" y="281.5" width="22.2" height="0.8" fill="#a01414" opacity="0.02"/>
<rect x="70.7" y="283.7" width="22.2" height="0.8" fill="#a01414" opacity="0.04"/>
<rect x="70.7" y="286.5" width="22.2" height="1.4" fill="#a01414" opacity="0.04"/>
<rect x="70.7" y="291.9" width="22.2" height="1.4" fill="#fff" opacity="0.05"/>
<rect x="70.7" y="294.3" width="22.2" height="1" fill="#fff" opacity="0.04"/>
<rect x="70.7" y="297.3" width="22.2" height="1.4" fill="#fff" opacity="0.06"/>
<rect x="70.7" y="299.7" width="22.2" height="1.4" fill="#fff" opacity="0.04"/>
<rect x="70.7" y="301.1" width="22.2" height="0.8" fill="#a01414" opacity="0.02"/>
<rect x="70.7" y="301.9" width="22.2" height="0.8" fill="#a01414" opacity="0.03"/>
<rect x="70.7" y="303.5" width="22.2" height="1.4" fill="#fff" opacity="0.05"/>
<rect x="70.7" y="307.7" width="22.2" height="1" fill="#fff" opacity="0.07"/>
<rect x="70.7" y="308.7" width="22.2" height="1" fill="#a01414" opacity="0.04"/>
<rect x="70.7" y="309.7" width="22.2" height="1" fill="#fff" opacity="0.08"/>
<rect x="70.7" y="310.7" width="22.2" height="1" fill="#fff" opacity="0.04"/>
<rect x="70.7" y="311.7" width="22.2" height="0.8" fill="#fff" opacity="0.1"/>
<rect x="70.7" y="313.3" width="22.2" height="0.8" fill="#a01414" opacity="0.04"/>
<rect x="70.7" y="315.9" width="22.2" height="1" fill="#fff" opacity="0.07"/>
<rect x="70.7" y="316.9" width="22.2" height="1" fill="#a01414" opacity="0.02"/>
<rect x="70.7" y="318.9" width="22.2" height="1.4" fill="#fff" opacity="0.08"/>
<rect x="92.9" y="234.3" width="22.25" height="89.5" fill="#b3c9dc"/>
<rect x="92.9" y="234.3" width="22.2" height="1" fill="#fff" opacity="0.03"/>
<rect x="92.9" y="235.3" width="22.2" height="1" fill="#fff" opacity="0.04"/>
<rect x="92.9" y="236.3" width="22.2" height="0.8" fill="#0d3f86" opacity="0.02"/>
<rect x="92.9" y="239.5" width="22.2" height="0.8" fill="#fff" opacity="0.03"/>
<rect x="92.9" y="241.3" width="22.2" height="0.8" fill="#fff" opacity="0.03"/>
<rect x="92.9" y="242.9" width="22.2" height="0.8" fill="#fff" opacity="0.02"/>
<rect x="92.9" y="243.7" width="22.2" height="1" fill="#fff" opacity="0.03"/>
<rect x="92.9" y="244.7" width="22.2" height="1" fill="#fff" opacity="0.03"/>
<rect x="92.9" y="245.7" width="22.2" height="1.4" fill="#fff" opacity="0.03"/>
<rect x="92.9" y="247.1" width="22.2" height="0.8" fill="#0d3f86" opacity="0.01"/>
<rect x="92.9" y="247.9" width="22.2" height="1" fill="#fff" opacity="0.02"/>
<rect x="92.9" y="248.9" width="22.2" height="0.8" fill="#fff" opacity="0.02"/>
<rect x="92.9" y="250.5" width="22.2" height="1.4" fill="#fff" opacity="0.02"/>
<rect x="92.9" y="251.9" width="22.2" height="0.8" fill="#0d3f86" opacity="0.02"/>
<rect x="92.9" y="252.7" width="22.2" height="0.8" fill="#fff" opacity="0.02"/>
<rect x="92.9" y="254.3" width="22.2" height="1.4" fill="#fff" opacity="0.04"/>
<rect x="92.9" y="256.7" width="22.2" height="0.8" fill="#fff" opacity="0.04"/>
<rect x="92.9" y="257.5" width="22.2" height="1" fill="#fff" opacity="0.04"/>
<rect x="92.9" y="258.5" width="22.2" height="1.4" fill="#fff" opacity="0.03"/>
<rect x="92.9" y="259.9" width="22.2" height="0.8" fill="#fff" opacity="0.02"/>
<rect x="92.9" y="260.7" width="22.2" height="1.4" fill="#fff" opacity="0.02"/>
<rect x="92.9" y="262.9" width="22.2" height="0.8" fill="#fff" opacity="0.02"/>
<rect x="92.9" y="265.1" width="22.2" height="1" fill="#0d3f86" opacity="0.01"/>
<rect x="92.9" y="270.1" width="22.2" height="0.8" fill="#fff" opacity="0.03"/>
<rect x="92.9" y="270.9" width="22.2" height="1" fill="#fff" opacity="0.02"/>
<rect x="92.9" y="274.3" width="22.2" height="1" fill="#fff" opacity="0.04"/>
<rect x="92.9" y="275.3" width="22.2" height="0.8" fill="#fff" opacity="0.02"/>
<rect x="92.9" y="276.1" width="22.2" height="0.8" fill="#0d3f86" opacity="0.02"/>
<rect x="92.9" y="276.9" width="22.2" height="1" fill="#0d3f86" opacity="0.01"/>
<rect x="92.9" y="282.3" width="22.2" height="1.4" fill="#0d3f86" opacity="0.02"/>
<rect x="92.9" y="283.7" width="22.2" height="0.8" fill="#fff" opacity="0.04"/>
<rect x="92.9" y="284.5" width="22.2" height="1" fill="#fff" opacity="0.03"/>
<rect x="92.9" y="285.5" width="22.2" height="0.8" fill="#0d3f86" opacity="0.02"/>
<rect x="92.9" y="288.9" width="22.2" height="1.4" fill="#0d3f86" opacity="0.02"/>
<rect x="92.9" y="290.3" width="22.2" height="1" fill="#fff" opacity="0.02"/>
<rect x="92.9" y="291.3" width="22.2" height="0.8" fill="#fff" opacity="0.03"/>
<rect x="92.9" y="294.5" width="22.2" height="1.4" fill="#0d3f86" opacity="0.01"/>
<rect x="92.9" y="295.9" width="22.2" height="1.4" fill="#0d3f86" opacity="0.01"/>
<rect x="92.9" y="297.3" width="22.2" height="1" fill="#fff" opacity="0.02"/>
<rect x="92.9" y="298.3" width="22.2" height="1" fill="#0d3f86" opacity="0.02"/>
<rect x="92.9" y="300.7" width="22.2" height="1.4" fill="#fff" opacity="0.03"/>
<rect x="92.9" y="302.1" width="22.2" height="1.4" fill="#0d3f86" opacity="0.01"/>
<rect x="92.9" y="303.5" width="22.2" height="1" fill="#fff" opacity="0.02"/>
<rect x="92.9" y="305.3" width="22.2" height="1" fill="#0d3f86" opacity="0.01"/>
<rect x="92.9" y="308.5" width="22.2" height="1.4" fill="#fff" opacity="0.02"/>
<rect x="92.9" y="310.7" width="22.2" height="1" fill="#0d3f86" opacity="0.02"/>
<rect x="92.9" y="311.7" width="22.2" height="1.4" fill="#fff" opacity="0.05"/>
<rect x="92.9" y="314.1" width="22.2" height="0.8" fill="#fff" opacity="0.05"/>
<rect x="92.9" y="314.9" width="22.2" height="1" fill="#0d3f86" opacity="0.02"/>
<rect x="92.9" y="316.9" width="22.2" height="1" fill="#0d3f86" opacity="0.02"/>
<rect x="92.9" y="317.9" width="22.2" height="1" fill="#fff" opacity="0.02"/>
<rect x="92.9" y="319.9" width="22.2" height="1" fill="#fff" opacity="0.03"/>
<rect x="92.9" y="320.9" width="22.2" height="1" fill="#0d3f86" opacity="0.02"/>
<rect x="115.1" y="234.3" width="22.25" height="89.5" fill="#a2c5e1"/>
<rect x="115.1" y="235.3" width="22.2" height="1" fill="#0d3f86" opacity="0.03"/>
<rect x="115.1" y="236.3" width="22.2" height="1" fill="#fff" opacity="0.05"/>
<rect x="115.1" y="237.3" width="22.2" height="1" fill="#0d3f86" opacity="0.02"/>
<rect x="115.1" y="242.9" width="22.2" height="0.8" fill="#fff" opacity="0.06"/>
<rect x="115.1" y="243.7" width="22.2" height="0.8" fill="#fff" opacity="0.04"/>
<rect x="115.1" y="244.5" width="22.2" height="1" fill="#0d3f86" opacity="0.01"/>
<rect x="115.1" y="245.5" width="22.2" height="0.8" fill="#fff" opacity="0.06"/>
<rect x="115.1" y="246.3" width="22.2" height="0.8" fill="#0d3f86" opacity="0.01"/>
<rect x="115.1" y="249.1" width="22.2" height="0.8" fill="#fff" opacity="0.02"/>
<rect x="115.1" y="249.9" width="22.2" height="1.4" fill="#0d3f86" opacity="0.03"/>
<rect x="115.1" y="251.3" width="22.2" height="0.8" fill="#fff" opacity="0.03"/>
<rect x="115.1" y="257.7" width="22.2" height="0.8" fill="#fff" opacity="0.03"/>
<rect x="115.1" y="258.5" width="22.2" height="0.8" fill="#fff" opacity="0.03"/>
<rect x="115.1" y="259.3" width="22.2" height="0.8" fill="#fff" opacity="0.05"/>
<rect x="115.1" y="261.5" width="22.2" height="1.4" fill="#fff" opacity="0.04"/>
<rect x="115.1" y="262.9" width="22.2" height="1" fill="#fff" opacity="0.04"/>
<rect x="115.1" y="263.9" width="22.2" height="1" fill="#fff" opacity="0.05"/>
<rect x="115.1" y="264.9" width="22.2" height="1.4" fill="#fff" opacity="0.03"/>
<rect x="115.1" y="266.3" width="22.2" height="1.4" fill="#0d3f86" opacity="0.01"/>
<rect x="115.1" y="269.7" width="22.2" height="0.8" fill="#fff" opacity="0.03"/>
<rect x="115.1" y="272.5" width="22.2" height="1" fill="#fff" opacity="0.05"/>
<rect x="115.1" y="273.5" width="22.2" height="1" fill="#fff" opacity="0.04"/>
<rect x="115.1" y="274.5" width="22.2" height="1" fill="#fff" opacity="0.06"/>
<rect x="115.1" y="278.3" width="22.2" height="1" fill="#0d3f86" opacity="0.02"/>
<rect x="115.1" y="280.3" width="22.2" height="0.8" fill="#0d3f86" opacity="0.01"/>
<rect x="115.1" y="281.1" width="22.2" height="1.4" fill="#0d3f86" opacity="0.02"/>
<rect x="115.1" y="282.5" width="22.2" height="1" fill="#fff" opacity="0.06"/>
<rect x="115.1" y="284.5" width="22.2" height="1" fill="#fff" opacity="0.06"/>
<rect x="115.1" y="286.5" width="22.2" height="1" fill="#0d3f86" opacity="0.01"/>
<rect x="115.1" y="287.5" width="22.2" height="1.4" fill="#0d3f86" opacity="0.03"/>
<rect x="115.1" y="291.7" width="22.2" height="0.8" fill="#fff" opacity="0.03"/>
<rect x="115.1" y="295.7" width="22.2" height="0.8" fill="#fff" opacity="0.05"/>
<rect x="115.1" y="296.5" width="22.2" height="1" fill="#fff" opacity="0.05"/>
<rect x="115.1" y="297.5" width="22.2" height="1" fill="#0d3f86" opacity="0.02"/>
<rect x="115.1" y="299.5" width="22.2" height="1.4" fill="#fff" opacity="0.06"/>
<rect x="115.1" y="300.9" width="22.2" height="0.8" fill="#fff" opacity="0.04"/>
<rect x="115.1" y="301.7" width="22.2" height="1" fill="#fff" opacity="0.05"/>
<rect x="115.1" y="303.7" width="22.2" height="0.8" fill="#0d3f86" opacity="0.02"/>
<rect x="115.1" y="304.5" width="22.2" height="0.8" fill="#fff" opacity="0.02"/>
<rect x="115.1" y="306.3" width="22.2" height="1" fill="#0d3f86" opacity="0.02"/>
<rect x="115.1" y="307.3" width="22.2" height="1.4" fill="#0d3f86" opacity="0.01"/>
<rect x="115.1" y="309.7" width="22.2" height="1.4" fill="#fff" opacity="0.03"/>
<rect x="115.1" y="311.1" width="22.2" height="1.4" fill="#0d3f86" opacity="0.03"/>
<rect x="115.1" y="312.5" width="22.2" height="1" fill="#fff" opacity="0.06"/>
<rect x="115.1" y="314.5" width="22.2" height="1" fill="#fff" opacity="0.03"/>
<rect x="115.1" y="315.5" width="22.2" height="1" fill="#fff" opacity="0.05"/>
<rect x="115.1" y="316.5" width="22.2" height="1" fill="#fff" opacity="0.05"/>
<rect x="115.1" y="318.9" width="22.2" height="1.4" fill="#fff" opacity="0.06"/>
<rect x="115.1" y="320.3" width="22.2" height="1.4" fill="#fff" opacity="0.05"/>
<rect x="115.1" y="322.5" width="22.2" height="0.8" fill="#fff" opacity="0.02"/>
<rect x="115.1" y="323.3" width="22.2" height="0.5" fill="#0d3f86" opacity="0.03"/>
<rect x="137.3" y="234.3" width="22.25" height="89.5" fill="#6fa6d2"/>
<rect x="137.3" y="234.3" width="22.2" height="1" fill="#0d3f86" opacity="0.04"/>
<rect x="137.3" y="236.3" width="22.2" height="0.8" fill="#fff" opacity="0.13"/>
<rect x="137.3" y="242.5" width="22.2" height="1" fill="#fff" opacity="0.21"/>
<rect x="137.3" y="245.1" width="22.2" height="1" fill="#0d3f86" opacity="0.1"/>
<rect x="137.3" y="248.3" width="22.2" height="1" fill="#0d3f86" opacity="0.12"/>
<rect x="137.3" y="249.3" width="22.2" height="1" fill="#0d3f86" opacity="0.11"/>
<rect x="137.3" y="252.3" width="22.2" height="0.8" fill="#fff" opacity="0.15"/>
<rect x="137.3" y="255.3" width="22.2" height="1.4" fill="#0d3f86" opacity="0.04"/>
<rect x="137.3" y="256.7" width="22.2" height="1" fill="#0d3f86" opacity="0.05"/>
<rect x="137.3" y="258.5" width="22.2" height="1.4" fill="#fff" opacity="0.11"/>
<rect x="137.3" y="260.9" width="22.2" height="0.8" fill="#0d3f86" opacity="0.12"/>
<rect x="137.3" y="261.7" width="22.2" height="1" fill="#fff" opacity="0.13"/>
<rect x="137.3" y="264.1" width="22.2" height="1" fill="#fff" opacity="0.25"/>
<rect x="137.3" y="265.1" width="22.2" height="0.8" fill="#0d3f86" opacity="0.08"/>
<rect x="137.3" y="267.3" width="22.2" height="1" fill="#0d3f86" opacity="0.07"/>
<rect x="137.3" y="268.3" width="22.2" height="1.4" fill="#fff" opacity="0.09"/>
<rect x="137.3" y="269.7" width="22.2" height="1" fill="#0d3f86" opacity="0.11"/>
<rect x="137.3" y="270.7" width="22.2" height="1.4" fill="#0d3f86" opacity="0.11"/>
<rect x="137.3" y="272.1" width="22.2" height="0.8" fill="#fff" opacity="0.2"/>
<rect x="137.3" y="275.3" width="22.2" height="0.8" fill="#0d3f86" opacity="0.04"/>
<rect x="137.3" y="276.1" width="22.2" height="1" fill="#0d3f86" opacity="0.11"/>
<rect x="137.3" y="277.1" width="22.2" height="1" fill="#0d3f86" opacity="0.04"/>
<rect x="137.3" y="278.1" width="22.2" height="0.8" fill="#fff" opacity="0.1"/>
<rect x="137.3" y="278.9" width="22.2" height="1.4" fill="#fff" opacity="0.24"/>
<rect x="137.3" y="280.3" width="22.2" height="0.8" fill="#fff" opacity="0.19"/>
<rect x="137.3" y="283.5" width="22.2" height="1" fill="#0d3f86" opacity="0.1"/>
<rect x="137.3" y="284.5" width="22.2" height="1.4" fill="#0d3f86" opacity="0.04"/>
<rect x="137.3" y="286.7" width="22.2" height="1.4" fill="#fff" opacity="0.15"/>
<rect x="137.3" y="292.9" width="22.2" height="0.8" fill="#fff" opacity="0.23"/>
<rect x="137.3" y="295.1" width="22.2" height="1" fill="#0d3f86" opacity="0.1"/>
<rect x="137.3" y="296.1" width="22.2" height="1.4" fill="#0d3f86" opacity="0.05"/>
<rect x="137.3" y="297.5" width="22.2" height="1.4" fill="#0d3f86" opacity="0.07"/>
<rect x="137.3" y="299.9" width="22.2" height="0.8" fill="#fff" opacity="0.23"/>
<rect x="137.3" y="304.3" width="22.2" height="1" fill="#0d3f86" opacity="0.09"/>
<rect x="137.3" y="305.3" width="22.2" height="1.4" fill="#0d3f86" opacity="0.05"/>
<rect x="137.3" y="306.7" width="22.2" height="0.8" fill="#0d3f86" opacity="0.06"/>
<rect x="137.3" y="307.5" width="22.2" height="1.4" fill="#fff" opacity="0.21"/>
<rect x="137.3" y="308.9" width="22.2" height="1" fill="#fff" opacity="0.23"/>
<rect x="137.3" y="311.9" width="22.2" height="1.4" fill="#fff" opacity="0.22"/>
<rect x="137.3" y="313.3" width="22.2" height="1.4" fill="#0d3f86" opacity="0.1"/>
<rect x="137.3" y="315.7" width="22.2" height="1.4" fill="#0d3f86" opacity="0.09"/>
<rect x="137.3" y="320.1" width="22.2" height="0.8" fill="#fff" opacity="0.17"/>
<rect x="137.3" y="320.9" width="22.2" height="1.4" fill="#0d3f86" opacity="0.11"/>
<rect x="159.5" y="234.3" width="22.25" height="89.5" fill="#99bfde"/>
<rect x="159.5" y="237.5" width="22.2" height="1.4" fill="#fff" opacity="0.05"/>
<rect x="159.5" y="239.7" width="22.2" height="1" fill="#fff" opacity="0.03"/>
<rect x="159.5" y="241.7" width="22.2" height="1" fill="#fff" opacity="0.04"/>
<rect x="159.5" y="242.7" width="22.2" height="0.8" fill="#fff" opacity="0.05"/>
<rect x="159.5" y="244.5" width="22.2" height="1" fill="#fff" opacity="0.08"/>
<rect x="159.5" y="246.3" width="22.2" height="1" fill="#fff" opacity="0.06"/>
<rect x="159.5" y="252.3" width="22.2" height="1" fill="#0d3f86" opacity="0.03"/>
<rect x="159.5" y="254.3" width="22.2" height="1" fill="#fff" opacity="0.06"/>
<rect x="159.5" y="257.3" width="22.2" height="1.4" fill="#fff" opacity="0.06"/>
<rect x="159.5" y="258.7" width="22.2" height="1" fill="#0d3f86" opacity="0.02"/>
<rect x="159.5" y="260.7" width="22.2" height="1" fill="#fff" opacity="0.05"/>
<rect x="159.5" y="263.3" width="22.2" height="0.8" fill="#fff" opacity="0.04"/>
<rect x="159.5" y="265.5" width="22.2" height="1.4" fill="#fff" opacity="0.03"/>
<rect x="159.5" y="268.7" width="22.2" height="1" fill="#0d3f86" opacity="0.02"/>
<rect x="159.5" y="269.7" width="22.2" height="0.8" fill="#fff" opacity="0.04"/>
<rect x="159.5" y="270.5" width="22.2" height="1" fill="#fff" opacity="0.05"/>
<rect x="159.5" y="272.9" width="22.2" height="1" fill="#fff" opacity="0.03"/>
<rect x="159.5" y="273.9" width="22.2" height="1" fill="#0d3f86" opacity="0.03"/>
<rect x="159.5" y="276.3" width="22.2" height="1" fill="#fff" opacity="0.05"/>
<rect x="159.5" y="277.3" width="22.2" height="1.4" fill="#fff" opacity="0.08"/>
<rect x="159.5" y="278.7" width="22.2" height="1" fill="#fff" opacity="0.05"/>
<rect x="159.5" y="280.5" width="22.2" height="1" fill="#fff" opacity="0.08"/>
<rect x="159.5" y="282.9" width="22.2" height="1.4" fill="#fff" opacity="0.04"/>
<rect x="159.5" y="284.3" width="22.2" height="1" fill="#fff" opacity="0.08"/>
<rect x="159.5" y="285.3" width="22.2" height="1.4" fill="#fff" opacity="0.07"/>
<rect x="159.5" y="287.7" width="22.2" height="0.8" fill="#fff" opacity="0.07"/>
<rect x="159.5" y="289.9" width="22.2" height="0.8" fill="#0d3f86" opacity="0.04"/>
<rect x="159.5" y="291.5" width="22.2" height="1" fill="#0d3f86" opacity="0.02"/>
<rect x="159.5" y="292.5" width="22.2" height="1.4" fill="#fff" opacity="0.05"/>
<rect x="159.5" y="294.9" width="22.2" height="0.8" fill="#0d3f86" opacity="0.04"/>
<rect x="159.5" y="295.7" width="22.2" height="0.8" fill="#fff" opacity="0.03"/>
<rect x="159.5" y="297.3" width="22.2" height="1" fill="#0d3f86" opacity="0.03"/>
<rect x="159.5" y="298.3" width="22.2" height="1" fill="#fff" opacity="0.07"/>
<rect x="159.5" y="303.5" width="22.2" height="1" fill="#fff" opacity="0.03"/>
<rect x="159.5" y="305.3" width="22.2" height="1" fill="#0d3f86" opacity="0.02"/>
<rect x="159.5" y="306.3" width="22.2" height="1" fill="#0d3f86" opacity="0.01"/>
<rect x="159.5" y="307.3" width="22.2" height="1" fill="#fff" opacity="0.03"/>
<rect x="159.5" y="308.3" width="22.2" height="1" fill="#fff" opacity="0.04"/>
<rect x="159.5" y="311.5" width="22.2" height="1" fill="#fff" opacity="0.05"/>
<rect x="159.5" y="312.5" width="22.2" height="1.4" fill="#fff" opacity="0.03"/>
<rect x="159.5" y="315.9" width="22.2" height="1.4" fill="#fff" opacity="0.08"/>
<rect x="159.5" y="317.3" width="22.2" height="1" fill="#fff" opacity="0.06"/>
<rect x="159.5" y="318.3" width="22.2" height="1" fill="#fff" opacity="0.03"/>
<rect x="159.5" y="319.3" width="22.2" height="0.8" fill="#fff" opacity="0.04"/>
<rect x="159.5" y="322.5" width="22.2" height="0.8" fill="#fff" opacity="0.04"/>
<rect x="181.7" y="234.3" width="22.25" height="89.5" fill="#8bb9dd"/>
<rect x="181.7" y="235.3" width="22.2" height="1.4" fill="#0d3f86" opacity="0.01"/>
<rect x="181.7" y="238.5" width="22.2" height="1" fill="#fff" opacity="0.03"/>
<rect x="181.7" y="239.5" width="22.2" height="1" fill="#fff" opacity="0.03"/>
<rect x="181.7" y="240.5" width="22.2" height="1.4" fill="#fff" opacity="0.07"/>
<rect x="181.7" y="241.9" width="22.2" height="0.8" fill="#fff" opacity="0.03"/>
<rect x="181.7" y="242.7" width="22.2" height="0.8" fill="#fff" opacity="0.03"/>
<rect x="181.7" y="243.5" width="22.2" height="1.4" fill="#fff" opacity="0.06"/>
<rect x="181.7" y="244.9" width="22.2" height="1" fill="#0d3f86" opacity="0.02"/>
<rect x="181.7" y="246.7" width="22.2" height="0.8" fill="#fff" opacity="0.04"/>
<rect x="181.7" y="255.3" width="22.2" height="1" fill="#fff" opacity="0.03"/>
<rect x="181.7" y="256.3" width="22.2" height="0.8" fill="#fff" opacity="0.04"/>
<rect x="181.7" y="257.1" width="22.2" height="1.4" fill="#fff" opacity="0.07"/>
<rect x="181.7" y="258.5" width="22.2" height="0.8" fill="#fff" opacity="0.06"/>
<rect x="181.7" y="259.3" width="22.2" height="1" fill="#fff" opacity="0.05"/>
<rect x="181.7" y="261.3" width="22.2" height="0.8" fill="#fff" opacity="0.04"/>
<rect x="181.7" y="262.1" width="22.2" height="1" fill="#fff" opacity="0.03"/>
<rect x="181.7" y="267.9" width="22.2" height="1.4" fill="#fff" opacity="0.04"/>
<rect x="181.7" y="269.3" width="22.2" height="1.4" fill="#0d3f86" opacity="0.04"/>
<rect x="181.7" y="270.7" width="22.2" height="1" fill="#fff" opacity="0.06"/>
<rect x="181.7" y="271.7" width="22.2" height="1.4" fill="#fff" opacity="0.07"/>
<rect x="181.7" y="274.1" width="22.2" height="0.8" fill="#0d3f86" opacity="0.01"/>
<rect x="181.7" y="279.1" width="22.2" height="0.8" fill="#fff" opacity="0.06"/>
<rect x="181.7" y="279.9" width="22.2" height="0.8" fill="#fff" opacity="0.03"/>
<rect x="181.7" y="284.7" width="22.2" height="1" fill="#0d3f86" opacity="0.03"/>
<rect x="181.7" y="285.7" width="22.2" height="1.4" fill="#fff" opacity="0.07"/>
<rect x="181.7" y="288.5" width="22.2" height="1" fill="#fff" opacity="0.03"/>
<rect x="181.7" y="290.5" width="22.2" height="1" fill="#0d3f86" opacity="0.02"/>
<rect x="181.7" y="291.5" width="22.2" height="1" fill="#0d3f86" opacity="0.02"/>
<rect x="181.7" y="293.9" width="22.2" height="1" fill="#fff" opacity="0.06"/>
<rect x="181.7" y="295.7" width="22.2" height="1" fill="#fff" opacity="0.03"/>
<rect x="181.7" y="299.1" width="22.2" height="1" fill="#0d3f86" opacity="0.02"/>
<rect x="181.7" y="300.1" width="22.2" height="0.8" fill="#fff" opacity="0.03"/>
<rect x="181.7" y="300.9" width="22.2" height="1" fill="#0d3f86" opacity="0.03"/>
<rect x="181.7" y="302.7" width="22.2" height="1" fill="#fff" opacity="0.06"/>
<rect x="181.7" y="303.7" width="22.2" height="0.8" fill="#fff" opacity="0.06"/>
<rect x="181.7" y="306.7" width="22.2" height="1" fill="#0d3f86" opacity="0.03"/>
<rect x="181.7" y="308.7" width="22.2" height="1" fill="#fff" opacity="0.08"/>
<rect x="181.7" y="310.7" width="22.2" height="0.8" fill="#fff" opacity="0.05"/>
<rect x="181.7" y="311.5" width="22.2" height="1" fill="#0d3f86" opacity="0.04"/>
<rect x="181.7" y="313.3" width="22.2" height="1" fill="#fff" opacity="0.08"/>
<rect x="181.7" y="314.3" width="22.2" height="1" fill="#fff" opacity="0.04"/>
<rect x="181.7" y="318.3" width="22.2" height="1" fill="#fff" opacity="0.03"/>
<rect x="181.7" y="319.3" width="22.2" height="1" fill="#fff" opacity="0.07"/>
<rect x="181.7" y="320.3" width="22.2" height="1.4" fill="#fff" opacity="0.03"/>
<rect x="181.7" y="321.7" width="22.2" height="1" fill="#0d3f86" opacity="0.03"/>
<rect x="181.7" y="322.7" width="22.2" height="1.1" fill="#0d3f86" opacity="0.02"/>
<rect x="203.9" y="234.3" width="22.25" height="89.5" fill="#a9c9e1"/>
<rect x="203.9" y="236.5" width="22.2" height="1" fill="#fff" opacity="0.02"/>
<rect x="203.9" y="239.9" width="22.2" height="0.8" fill="#fff" opacity="0.02"/>
<rect x="203.9" y="243.5" width="22.2" height="0.8" fill="#0d3f86" opacity="0.01"/>
<rect x="203.9" y="249.5" width="22.2" height="0.8" fill="#fff" opacity="0.04"/>
<rect x="203.9" y="250.3" width="22.2" height="1.4" fill="#fff" opacity="0.02"/>
<rect x="203.9" y="251.7" width="22.2" height="0.8" fill="#fff" opacity="0.03"/>
<rect x="203.9" y="252.5" width="22.2" height="1" fill="#fff" opacity="0.03"/>
<rect x="203.9" y="253.5" width="22.2" height="1" fill="#0d3f86" opacity="0.02"/>
<rect x="203.9" y="254.5" width="22.2" height="0.8" fill="#0d3f86" opacity="0.01"/>
<rect x="203.9" y="255.3" width="22.2" height="0.8" fill="#fff" opacity="0.04"/>
<rect x="203.9" y="258.9" width="22.2" height="0.8" fill="#0d3f86" opacity="0.02"/>
<rect x="203.9" y="259.7" width="22.2" height="1" fill="#0d3f86" opacity="0.02"/>
<rect x="203.9" y="260.7" width="22.2" height="1.4" fill="#fff" opacity="0.02"/>
<rect x="203.9" y="263.1" width="22.2" height="1" fill="#fff" opacity="0.02"/>
<rect x="203.9" y="265.1" width="22.2" height="1" fill="#fff" opacity="0.03"/>
<rect x="203.9" y="266.1" width="22.2" height="1.4" fill="#fff" opacity="0.04"/>
<rect x="203.9" y="267.5" width="22.2" height="0.8" fill="#0d3f86" opacity="0.02"/>
<rect x="203.9" y="268.3" width="22.2" height="1" fill="#fff" opacity="0.02"/>
<rect x="203.9" y="269.3" width="22.2" height="1.4" fill="#fff" opacity="0.03"/>
<rect x="203.9" y="271.7" width="22.2" height="1.4" fill="#0d3f86" opacity="0.02"/>
<rect x="203.9" y="275.9" width="22.2" height="1.4" fill="#0d3f86" opacity="0.02"/>
<rect x="203.9" y="278.3" width="22.2" height="1" fill="#fff" opacity="0.04"/>
<rect x="203.9" y="279.3" width="22.2" height="0.8" fill="#fff" opacity="0.03"/>
<rect x="203.9" y="280.1" width="22.2" height="1" fill="#0d3f86" opacity="0.02"/>
<rect x="203.9" y="281.1" width="22.2" height="1" fill="#fff" opacity="0.03"/>
<rect x="203.9" y="284.1" width="22.2" height="1" fill="#fff" opacity="0.03"/>
<rect x="203.9" y="288.3" width="22.2" height="0.8" fill="#fff" opacity="0.02"/>
<rect x="203.9" y="289.1" width="22.2" height="1" fill="#0d3f86" opacity="0.02"/>
<rect x="203.9" y="290.1" width="22.2" height="1" fill="#fff" opacity="0.02"/>
<rect x="203.9" y="291.1" width="22.2" height="1" fill="#0d3f86" opacity="0.02"/>
<rect x="203.9" y="292.1" width="22.2" height="1" fill="#fff" opacity="0.04"/>
<rect x="203.9" y="293.1" width="22.2" height="1" fill="#fff" opacity="0.02"/>
<rect x="203.9" y="297.7" width="22.2" height="0.8" fill="#0d3f86" opacity="0.01"/>
<rect x="203.9" y="298.5" width="22.2" height="1" fill="#fff" opacity="0.03"/>
<rect x="203.9" y="299.5" width="22.2" height="1" fill="#0d3f86" opacity="0.02"/>
<rect x="203.9" y="300.5" width="22.2" height="0.8" fill="#fff" opacity="0.02"/>
<rect x="203.9" y="301.3" width="22.2" height="1.4" fill="#fff" opacity="0.04"/>
<rect x="203.9" y="302.7" width="22.2" height="1.4" fill="#fff" opacity="0.04"/>
<rect x="203.9" y="304.1" width="22.2" height="1" fill="#fff" opacity="0.04"/>
<rect x="203.9" y="305.1" width="22.2" height="1" fill="#fff" opacity="0.03"/>
<rect x="203.9" y="306.1" width="22.2" height="1" fill="#fff" opacity="0.02"/>
<rect x="203.9" y="308.5" width="22.2" height="0.8" fill="#fff" opacity="0.02"/>
<rect x="203.9" y="309.3" width="22.2" height="1" fill="#fff" opacity="0.04"/>
<rect x="203.9" y="311.1" width="22.2" height="0.8" fill="#fff" opacity="0.03"/>
<rect x="203.9" y="311.9" width="22.2" height="0.8" fill="#fff" opacity="0.04"/>
<rect x="203.9" y="312.7" width="22.2" height="1.4" fill="#fff" opacity="0.02"/>
<rect x="203.9" y="319.5" width="22.2" height="1" fill="#0d3f86" opacity="0.01"/>
<rect x="203.9" y="320.5" width="22.2" height="1" fill="#0d3f86" opacity="0.01"/>
<rect x="203.9" y="322.5" width="22.2" height="1.3" fill="#fff" opacity="0.04"/>
<rect x="26.3" y="323.8" width="22.25" height="35.5" fill="#6ba1cf"/>
<rect x="26.3" y="327" width="22.2" height="0.8" fill="#fff" opacity="0.05"/>
<rect x="26.3" y="330.8" width="22.2" height="1" fill="#0d3f86" opacity="0.02"/>
<rect x="26.3" y="331.8" width="22.2" height="1" fill="#fff" opacity="0.06"/>
<rect x="26.3" y="335.6" width="22.2" height="1" fill="#0d3f86" opacity="0.03"/>
<rect x="26.3" y="337.6" width="22.2" height="1" fill="#fff" opacity="0.04"/>
<rect x="26.3" y="340.4" width="22.2" height="0.8" fill="#0d3f86" opacity="0.04"/>
<rect x="26.3" y="341.2" width="22.2" height="1" fill="#fff" opacity="0.05"/>
<rect x="26.3" y="342.2" width="22.2" height="1.4" fill="#fff" opacity="0.09"/>
<rect x="26.3" y="345.6" width="22.2" height="1" fill="#0d3f86" opacity="0.02"/>
<rect x="26.3" y="351.6" width="22.2" height="0.8" fill="#fff" opacity="0.08"/>
<rect x="26.3" y="352.4" width="22.2" height="1.4" fill="#fff" opacity="0.08"/>
<rect x="26.3" y="354.8" width="22.2" height="1.4" fill="#0d3f86" opacity="0.01"/>
<rect x="26.3" y="357.6" width="22.2" height="1.4" fill="#fff" opacity="0.06"/>
<rect x="48.5" y="323.8" width="22.25" height="35.5" fill="#85b3d9"/>
<rect x="48.5" y="323.8" width="22.2" height="0.8" fill="#0d3f86" opacity="0.04"/>
<rect x="48.5" y="324.6" width="22.2" height="1" fill="#0d3f86" opacity="0.03"/>
<rect x="48.5" y="328.4" width="22.2" height="1" fill="#fff" opacity="0.03"/>
<rect x="48.5" y="332.4" width="22.2" height="1.4" fill="#fff" opacity="0.06"/>
<rect x="48.5" y="334.8" width="22.2" height="1" fill="#fff" opacity="0.07"/>
<rect x="48.5" y="338.2" width="22.2" height="1" fill="#0d3f86" opacity="0.02"/>
<rect x="48.5" y="340" width="22.2" height="1" fill="#fff" opacity="0.04"/>
<rect x="48.5" y="344.8" width="22.2" height="1.4" fill="#fff" opacity="0.06"/>
<rect x="48.5" y="347.2" width="22.2" height="1" fill="#fff" opacity="0.04"/>
<rect x="48.5" y="348.2" width="22.2" height="1" fill="#0d3f86" opacity="0.03"/>
<rect x="48.5" y="349.2" width="22.2" height="1" fill="#fff" opacity="0.04"/>
<rect x="48.5" y="351.2" width="22.2" height="1.4" fill="#fff" opacity="0.07"/>
<rect x="48.5" y="354.4" width="22.2" height="1.4" fill="#0d3f86" opacity="0.03"/>
<rect x="48.5" y="355.8" width="22.2" height="1" fill="#fff" opacity="0.07"/>
<rect x="48.5" y="356.8" width="22.2" height="0.8" fill="#fff" opacity="0.04"/>
<rect x="48.5" y="357.6" width="22.2" height="1.4" fill="#0d3f86" opacity="0.04"/>
<rect x="70.7" y="323.8" width="22.25" height="35.5" fill="#8db9dc"/>
<rect x="70.7" y="325.8" width="22.2" height="1" fill="#fff" opacity="0.02"/>
<rect x="70.7" y="326.8" width="22.2" height="0.8" fill="#0d3f86" opacity="0.01"/>
<rect x="70.7" y="328.4" width="22.2" height="1" fill="#0d3f86" opacity="0.03"/>
<rect x="70.7" y="330.8" width="22.2" height="1.4" fill="#0d3f86" opacity="0.01"/>
<rect x="70.7" y="333" width="22.2" height="0.8" fill="#fff" opacity="0.04"/>
<rect x="70.7" y="333.8" width="22.2" height="1" fill="#fff" opacity="0.03"/>
<rect x="70.7" y="335.8" width="22.2" height="1" fill="#0d3f86" opacity="0.02"/>
<rect x="70.7" y="338.6" width="22.2" height="1.4" fill="#fff" opacity="0.02"/>
<rect x="70.7" y="341" width="22.2" height="1" fill="#fff" opacity="0.02"/>
<rect x="70.7" y="342" width="22.2" height="0.8" fill="#fff" opacity="0.04"/>
<rect x="70.7" y="342.8" width="22.2" height="1" fill="#fff" opacity="0.04"/>
<rect x="70.7" y="343.8" width="22.2" height="1.4" fill="#0d3f86" opacity="0.03"/>
<rect x="70.7" y="345.2" width="22.2" height="0.8" fill="#fff" opacity="0.03"/>
<rect x="70.7" y="346" width="22.2" height="1" fill="#fff" opacity="0.06"/>
<rect x="70.7" y="347.8" width="22.2" height="1.4" fill="#fff" opacity="0.06"/>
<rect x="70.7" y="349.2" width="22.2" height="0.8" fill="#0d3f86" opacity="0.01"/>
<rect x="70.7" y="351" width="22.2" height="1" fill="#0d3f86" opacity="0.01"/>
<rect x="70.7" y="352" width="22.2" height="1" fill="#fff" opacity="0.02"/>
<rect x="70.7" y="353" width="22.2" height="1.4" fill="#0d3f86" opacity="0.02"/>
<rect x="70.7" y="354.4" width="22.2" height="0.8" fill="#fff" opacity="0.05"/>
<rect x="70.7" y="355.2" width="22.2" height="0.8" fill="#fff" opacity="0.03"/>
<rect x="70.7" y="357.4" width="22.2" height="1.4" fill="#fff" opacity="0.04"/>
<rect x="70.7" y="358.8" width="22.2" height="0.5" fill="#0d3f86" opacity="0.02"/>
<rect x="92.9" y="323.8" width="22.25" height="35.5" fill="#9dc1de"/>
<rect x="92.9" y="323.8" width="22.2" height="1" fill="#fff" opacity="0.03"/>
<rect x="92.9" y="327.6" width="22.2" height="1" fill="#0d3f86" opacity="0.03"/>
<rect x="92.9" y="329.6" width="22.2" height="1" fill="#fff" opacity="0.06"/>
<rect x="92.9" y="330.6" width="22.2" height="1.4" fill="#0d3f86" opacity="0.01"/>
<rect x="92.9" y="332" width="22.2" height="1" fill="#fff" opacity="0.05"/>
<rect x="92.9" y="334" width="22.2" height="1.4" fill="#fff" opacity="0.02"/>
<rect x="92.9" y="338.8" width="22.2" height="1" fill="#fff" opacity="0.04"/>
<rect x="92.9" y="339.8" width="22.2" height="1.4" fill="#0d3f86" opacity="0.01"/>
<rect x="92.9" y="343.6" width="22.2" height="1" fill="#fff" opacity="0.06"/>
<rect x="92.9" y="345.6" width="22.2" height="0.8" fill="#0d3f86" opacity="0.03"/>
<rect x="92.9" y="348.6" width="22.2" height="1.4" fill="#0d3f86" opacity="0.03"/>
<rect x="92.9" y="353.6" width="22.2" height="1" fill="#fff" opacity="0.04"/>
<rect x="92.9" y="354.6" width="22.2" height="1" fill="#fff" opacity="0.02"/>
<rect x="92.9" y="358" width="22.2" height="0.8" fill="#fff" opacity="0.02"/>
<rect x="115.1" y="323.8" width="22.25" height="35.5" fill="#91bbdb"/>
<rect x="115.1" y="323.8" width="22.2" height="1" fill="#fff" opacity="0.04"/>
<rect x="115.1" y="324.8" width="22.2" height="1" fill="#fff" opacity="0.04"/>
<rect x="115.1" y="326.6" width="22.2" height="1.4" fill="#fff" opacity="0.05"/>
<rect x="115.1" y="328" width="22.2" height="1" fill="#fff" opacity="0.06"/>
<rect x="115.1" y="330" width="22.2" height="1" fill="#fff" opacity="0.05"/>
<rect x="115.1" y="332" width="22.2" height="1" fill="#fff" opacity="0.02"/>
<rect x="115.1" y="333" width="22.2" height="0.8" fill="#fff" opacity="0.02"/>
<rect x="115.1" y="333.8" width="22.2" height="1" fill="#fff" opacity="0.05"/>
<rect x="115.1" y="335.8" width="22.2" height="1.4" fill="#fff" opacity="0.06"/>
<rect x="115.1" y="339.2" width="22.2" height="1" fill="#0d3f86" opacity="0.01"/>
<rect x="115.1" y="342.6" width="22.2" height="1" fill="#fff" opacity="0.06"/>
<rect x="115.1" y="343.6" width="22.2" height="1" fill="#0d3f86" opacity="0.02"/>
<rect x="115.1" y="345.6" width="22.2" height="1" fill="#fff" opacity="0.03"/>
<rect x="115.1" y="347.4" width="22.2" height="1" fill="#fff" opacity="0.06"/>
<rect x="115.1" y="348.4" width="22.2" height="1.4" fill="#0d3f86" opacity="0.01"/>
<rect x="115.1" y="350.8" width="22.2" height="1" fill="#0d3f86" opacity="0.01"/>
<rect x="115.1" y="352.8" width="22.2" height="1.4" fill="#fff" opacity="0.04"/>
<rect x="115.1" y="354.2" width="22.2" height="1" fill="#fff" opacity="0.06"/>
<rect x="115.1" y="356.2" width="22.2" height="1" fill="#fff" opacity="0.04"/>
<rect x="115.1" y="357.2" width="22.2" height="1" fill="#fff" opacity="0.04"/>
<rect x="137.3" y="323.8" width="22.25" height="35.5" fill="#efa990"/>
<rect x="137.3" y="323.8" width="22.2" height="1.4" fill="#fff" opacity="0.1"/>
<rect x="137.3" y="330" width="22.2" height="1" fill="#a01414" opacity="0.07"/>
<rect x="137.3" y="331" width="22.2" height="1.4" fill="#a01414" opacity="0.08"/>
<rect x="137.3" y="332.4" width="22.2" height="1.4" fill="#fff" opacity="0.08"/>
<rect x="137.3" y="333.8" width="22.2" height="1" fill="#a01414" opacity="0.04"/>
<rect x="137.3" y="336.6" width="22.2" height="1.4" fill="#a01414" opacity="0.09"/>
<rect x="137.3" y="338" width="22.2" height="1.4" fill="#a01414" opacity="0.09"/>
<rect x="137.3" y="339.4" width="22.2" height="1" fill="#fff" opacity="0.16"/>
<rect x="137.3" y="342.6" width="22.2" height="1.4" fill="#a01414" opacity="0.07"/>
<rect x="137.3" y="344" width="22.2" height="1" fill="#fff" opacity="0.14"/>
<rect x="137.3" y="345" width="22.2" height="1" fill="#fff" opacity="0.08"/>
<rect x="137.3" y="346" width="22.2" height="1" fill="#fff" opacity="0.11"/>
<rect x="137.3" y="347" width="22.2" height="1" fill="#a01414" opacity="0.07"/>
<rect x="137.3" y="348" width="22.2" height="1" fill="#a01414" opacity="0.06"/>
<rect x="137.3" y="349" width="22.2" height="1" fill="#fff" opacity="0.19"/>
<rect x="137.3" y="352.4" width="22.2" height="1" fill="#a01414" opacity="0.05"/>
<rect x="137.3" y="357.2" width="22.2" height="0.8" fill="#fff" opacity="0.13"/>
<rect x="159.5" y="323.8" width="22.25" height="35.5" fill="#f1cabb"/>
<rect x="159.5" y="326.4" width="22.2" height="1" fill="#fff" opacity="0.04"/>
<rect x="159.5" y="330.6" width="22.2" height="1" fill="#fff" opacity="0.06"/>
<rect x="159.5" y="333" width="22.2" height="1.4" fill="#fff" opacity="0.07"/>
<rect x="159.5" y="334.4" width="22.2" height="1.4" fill="#fff" opacity="0.03"/>
<rect x="159.5" y="335.8" width="22.2" height="1" fill="#fff" opacity="0.05"/>
<rect x="159.5" y="336.8" width="22.2" height="0.8" fill="#a01414" opacity="0.03"/>
<rect x="159.5" y="337.6" width="22.2" height="0.8" fill="#a01414" opacity="0.02"/>
<rect x="159.5" y="338.4" width="22.2" height="1" fill="#a01414" opacity="0.04"/>
<rect x="159.5" y="339.4" width="22.2" height="0.8" fill="#fff" opacity="0.03"/>
<rect x="159.5" y="341.2" width="22.2" height="1.4" fill="#fff" opacity="0.07"/>
<rect x="159.5" y="342.6" width="22.2" height="1" fill="#fff" opacity="0.06"/>
<rect x="159.5" y="345" width="22.2" height="1" fill="#a01414" opacity="0.04"/>
<rect x="159.5" y="346" width="22.2" height="0.8" fill="#fff" opacity="0.06"/>
<rect x="159.5" y="346.8" width="22.2" height="1" fill="#fff" opacity="0.08"/>
<rect x="159.5" y="347.8" width="22.2" height="1.4" fill="#fff" opacity="0.08"/>
<rect x="159.5" y="349.2" width="22.2" height="1" fill="#a01414" opacity="0.04"/>
<rect x="159.5" y="350.2" width="22.2" height="1.4" fill="#fff" opacity="0.04"/>
<rect x="159.5" y="351.6" width="22.2" height="1.4" fill="#fff" opacity="0.07"/>
<rect x="159.5" y="353" width="22.2" height="1" fill="#fff" opacity="0.07"/>
<rect x="159.5" y="355" width="22.2" height="0.8" fill="#fff" opacity="0.05"/>
<rect x="159.5" y="355.8" width="22.2" height="1.4" fill="#fff" opacity="0.06"/>
<rect x="159.5" y="357.2" width="22.2" height="1.4" fill="#fff" opacity="0.04"/>
<rect x="159.5" y="358.6" width="22.2" height="0.7" fill="#fff" opacity="0.06"/>
<rect x="181.7" y="323.8" width="22.25" height="35.5" fill="#df6f58"/>
<rect x="181.7" y="323.8" width="22.2" height="0.8" fill="#a01414" opacity="0.09"/>
<rect x="181.7" y="325.6" width="22.2" height="1" fill="#fff" opacity="0.18"/>
<rect x="181.7" y="326.6" width="22.2" height="1" fill="#a01414" opacity="0.03"/>
<rect x="181.7" y="327.6" width="22.2" height="1" fill="#fff" opacity="0.19"/>
<rect x="181.7" y="328.6" width="22.2" height="1.4" fill="#a01414" opacity="0.08"/>
<rect x="181.7" y="330" width="22.2" height="1" fill="#a01414" opacity="0.05"/>
<rect x="181.7" y="331" width="22.2" height="1.4" fill="#a01414" opacity="0.08"/>
<rect x="181.7" y="332.4" width="22.2" height="1.4" fill="#a01414" opacity="0.07"/>
<rect x="181.7" y="337.6" width="22.2" height="1" fill="#a01414" opacity="0.06"/>
<rect x="181.7" y="338.6" width="22.2" height="1" fill="#a01414" opacity="0.03"/>
<rect x="181.7" y="339.6" width="22.2" height="1" fill="#fff" opacity="0.14"/>
<rect x="181.7" y="342.8" width="22.2" height="1.4" fill="#fff" opacity="0.17"/>
<rect x="181.7" y="344.2" width="22.2" height="1" fill="#fff" opacity="0.11"/>
<rect x="181.7" y="345.2" width="22.2" height="1.4" fill="#fff" opacity="0.11"/>
<rect x="181.7" y="346.6" width="22.2" height="1.4" fill="#a01414" opacity="0.03"/>
<rect x="181.7" y="349.8" width="22.2" height="1" fill="#fff" opacity="0.21"/>
<rect x="181.7" y="352.6" width="22.2" height="1" fill="#a01414" opacity="0.05"/>
<rect x="181.7" y="353.6" width="22.2" height="1" fill="#a01414" opacity="0.11"/>
<rect x="181.7" y="354.6" width="22.2" height="1.4" fill="#fff" opacity="0.08"/>
<rect x="181.7" y="356" width="22.2" height="1" fill="#a01414" opacity="0.03"/>
<rect x="181.7" y="358.8" width="22.2" height="0.5" fill="#fff" opacity="0.19"/>
<rect x="203.9" y="323.8" width="22.25" height="35.5" fill="#e98f77"/>
<rect x="203.9" y="324.8" width="22.2" height="1" fill="#fff" opacity="0.08"/>
<rect x="203.9" y="326.8" width="22.2" height="1.4" fill="#fff" opacity="0.05"/>
<rect x="203.9" y="332.8" width="22.2" height="1" fill="#a01414" opacity="0.03"/>
<rect x="203.9" y="333.8" width="22.2" height="1" fill="#fff" opacity="0.08"/>
<rect x="203.9" y="335.6" width="22.2" height="1" fill="#fff" opacity="0.06"/>
<rect x="203.9" y="336.6" width="22.2" height="1" fill="#fff" opacity="0.08"/>
<rect x="203.9" y="337.6" width="22.2" height="0.8" fill="#a01414" opacity="0.03"/>
<rect x="203.9" y="338.4" width="22.2" height="1" fill="#a01414" opacity="0.06"/>
<rect x="203.9" y="342.2" width="22.2" height="1.4" fill="#fff" opacity="0.04"/>
<rect x="203.9" y="343.6" width="22.2" height="1" fill="#fff" opacity="0.13"/>
<rect x="203.9" y="344.6" width="22.2" height="1.4" fill="#fff" opacity="0.08"/>
<rect x="203.9" y="347.8" width="22.2" height="1" fill="#a01414" opacity="0.04"/>
<rect x="203.9" y="348.8" width="22.2" height="1.4" fill="#fff" opacity="0.12"/>
<rect x="203.9" y="350.2" width="22.2" height="1" fill="#fff" opacity="0.09"/>
<rect x="203.9" y="354.2" width="22.2" height="1" fill="#fff" opacity="0.08"/>
<rect x="203.9" y="355.2" width="22.2" height="0.8" fill="#a01414" opacity="0.05"/>
<rect x="203.9" y="357" width="22.2" height="1.4" fill="#fff" opacity="0.08"/>
<rect x="203.9" y="358.4" width="22.2" height="0.9" fill="#fff" opacity="0.1"/>
</g>
<text x="19.5" y="210.9" font-size="9.5" text-anchor="middle" fill="#231f20">1</text>
<text x="19.5" y="234.4" font-size="9.5" text-anchor="middle" fill="#231f20">2</text>
<text x="19.5" y="282.9" font-size="9.5" text-anchor="middle" fill="#231f20">3</text>
<text x="19.5" y="345.9" font-size="9.5" text-anchor="middle" fill="#231f20">4</text>
<defs><linearGradient id="cbC" x1="0" y1="0" x2="0" y2="1"><stop offset="0" stop-color="#3d0a1e"/><stop offset="0.1" stop-color="#8e1226"/><stop offset="0.25" stop-color="#d1463f"/><stop offset="0.4" stop-color="#f4b49a"/><stop offset="0.5" stop-color="#f3efee"/><stop offset="0.6" stop-color="#b5d3e6"/><stop offset="0.75" stop-color="#4f95c7"/><stop offset="0.9" stop-color="#1f4f93"/><stop offset="1" stop-color="#10143f"/></linearGradient></defs>
<rect x="229.1" y="187.5" width="4.4" height="64.5" fill="url(#cbC)"/>
<text x="237.2" y="198.8" font-size="9.3" text-anchor="start" fill="#231f20">2</text>
<text x="237.2" y="211" font-size="9.3" text-anchor="start" fill="#231f20">1</text>
<text x="237.2" y="223.7" font-size="9.3" text-anchor="start" fill="#231f20">0</text>
<text x="237.2" y="236.4" font-size="9.3" text-anchor="start" fill="#231f20">−1</text>
<text x="237.2" y="248.6" font-size="9.3" text-anchor="start" fill="#231f20">−2</text>
<line x1="27" y1="362.2" x2="90.3" y2="362.2" stroke="#111" stroke-width="1.6"/>
<line x1="95" y1="362.2" x2="135" y2="362.2" stroke="#111" stroke-width="1.6"/>
<line x1="140.5" y1="362.2" x2="180" y2="362.2" stroke="#111" stroke-width="1.6"/>
<line x1="184.5" y1="362.2" x2="223.8" y2="362.2" stroke="#111" stroke-width="1.6"/>
<text x="60.8" y="375.2" font-size="9.5" text-anchor="middle" fill="#231f20">WT</text>
<text x="115.5" y="375.2" font-size="9.5" text-anchor="middle" fill="#be2f4b" font-style="italic">TA1a</text>
<text x="160.5" y="375.2" font-size="9.5" text-anchor="middle" fill="#5aa868" font-style="italic">TA2</text>
<text x="203.8" y="375.2" font-size="9.5" text-anchor="middle" fill="#9a5aa2" font-style="italic">TSb1</text>
<text x="251.8" y="174" font-size="11" text-anchor="start" fill="#111" font-weight="bold">D</text>
<rect x="300.8" y="204.2" width="67.3" height="4.8" fill="#2f4ea5"/>
<line x1="298.6" y1="206.6" x2="300.8" y2="206.6" stroke="#111" stroke-width="0.8"/>
<text x="294.9" y="209.8" font-size="8.6" text-anchor="end" fill="#231f20">CTCF</text>
<rect x="300.8" y="212.03" width="21.5" height="4.8" fill="#2f4ea5"/>
<line x1="298.6" y1="214.43" x2="300.8" y2="214.43" stroke="#111" stroke-width="0.8"/>
<text x="294.9" y="217.63" font-size="8.6" text-anchor="end" fill="#231f20">POL003.1</text>
<rect x="300.8" y="219.86" width="16.7" height="4.8" fill="#2f4ea5"/>
<line x1="298.6" y1="222.26" x2="300.8" y2="222.26" stroke="#111" stroke-width="0.8"/>
<text x="294.9" y="225.46" font-size="8.6" text-anchor="end" fill="#231f20">ELK1</text>
<rect x="300.8" y="227.69" width="8.6" height="4.8" fill="#2f4ea5"/>
<line x1="298.6" y1="230.09" x2="300.8" y2="230.09" stroke="#111" stroke-width="0.8"/>
<text x="294.9" y="233.29" font-size="8.6" text-anchor="end" fill="#231f20">NRF1</text>
<rect x="300.8" y="235.52" width="6.9" height="4.8" fill="#2f4ea5"/>
<line x1="298.6" y1="237.92" x2="300.8" y2="237.92" stroke="#111" stroke-width="0.8"/>
<text x="294.9" y="241.12" font-size="8.6" text-anchor="end" fill="#231f20">RUNX2</text>
<rect x="300.8" y="243.35" width="6.7" height="4.8" fill="#2f4ea5"/>
<line x1="298.6" y1="245.75" x2="300.8" y2="245.75" stroke="#111" stroke-width="0.8"/>
<text x="294.9" y="248.95" font-size="8.6" text-anchor="end" fill="#231f20">GFY</text>
<rect x="300.8" y="251.18" width="4.8" height="4.8" fill="#2f4ea5"/>
<line x1="298.6" y1="253.58" x2="300.8" y2="253.58" stroke="#111" stroke-width="0.8"/>
<text x="294.9" y="256.78" font-size="8.6" text-anchor="end" fill="#231f20">ATF3</text>
<rect x="300.8" y="259.01" width="4.7" height="4.8" fill="#2f4ea5"/>
<line x1="298.6" y1="261.41" x2="300.8" y2="261.41" stroke="#111" stroke-width="0.8"/>
<text x="294.9" y="264.61" font-size="8.6" text-anchor="end" fill="#231f20">PB0179.1</text>
<rect x="300.8" y="266.84" width="4.6" height="4.8" fill="#2f4ea5"/>
<line x1="298.6" y1="269.24" x2="300.8" y2="269.24" stroke="#111" stroke-width="0.8"/>
<text x="294.9" y="272.44" font-size="8.6" text-anchor="end" fill="#231f20">ZBTB33</text>
<rect x="300.8" y="274.67" width="4" height="4.8" fill="#2f4ea5"/>
<line x1="298.6" y1="277.07" x2="300.8" y2="277.07" stroke="#111" stroke-width="0.8"/>
<text x="294.9" y="280.27" font-size="8.6" text-anchor="end" fill="#231f20">HES2</text>
<line x1="300.8" y1="199.9" x2="300.8" y2="282.5" stroke="#111" stroke-width="1.3"/>
<line x1="300.2" y1="200.5" x2="371.8" y2="200.5" stroke="#111" stroke-width="1.3"/>
<line x1="300.8" y1="197.9" x2="300.8" y2="200.5" stroke="#111" stroke-width="0.9"/>
<text x="303.9" y="195.9" font-size="8.7" text-anchor="start" fill="#231f20" transform="rotate(-90 303.9 195.9)">0</text>
<line x1="318.1" y1="197.9" x2="318.1" y2="200.5" stroke="#111" stroke-width="0.9"/>
<text x="321.2" y="195.9" font-size="8.7" text-anchor="start" fill="#231f20" transform="rotate(-90 321.2 195.9)">500</text>
<line x1="335.4" y1="197.9" x2="335.4" y2="200.5" stroke="#111" stroke-width="0.9"/>
<text x="338.5" y="195.9" font-size="8.7" text-anchor="start" fill="#231f20" transform="rotate(-90 338.5 195.9)">1,000</text>
<line x1="352.7" y1="197.9" x2="352.7" y2="200.5" stroke="#111" stroke-width="0.9"/>
<text x="355.8" y="195.9" font-size="8.7" text-anchor="start" fill="#231f20" transform="rotate(-90 355.8 195.9)">1,500</text>
<line x1="370" y1="197.9" x2="370" y2="200.5" stroke="#111" stroke-width="0.9"/>
<text x="373.1" y="195.9" font-size="8.7" text-anchor="start" fill="#231f20" transform="rotate(-90 373.1 195.9)">2,000</text>
<text x="336.8" y="169.2" font-size="9.3" text-anchor="middle" fill="#231f20">−Log<tspan font-size="6" dy="2">10</tspan><tspan dy="-2"> (</tspan><tspan font-style="italic">P</tspan>)</text>
<text x="275.5" y="185.9" font-size="8.3" text-anchor="middle" fill="#231f20" text-decoration="underline" transform="rotate(-45 275.5 182.9)">Cluster 1</text>
<rect x="421.7" y="204.2" width="65.7" height="7" fill="#e9212b"/>
<line x1="419.5" y1="207.7" x2="421.7" y2="207.7" stroke="#111" stroke-width="0.8"/>
<text x="416.3" y="210.9" font-size="8.6" text-anchor="end" fill="#231f20">NKX2-1</text>
<rect x="421.7" y="214.2" width="29" height="7" fill="#e9212b"/>
<line x1="419.5" y1="217.7" x2="421.7" y2="217.7" stroke="#111" stroke-width="0.8"/>
<text x="416.3" y="220.9" font-size="8.6" text-anchor="end" fill="#231f20">NF1/CTF</text>
<rect x="421.7" y="224.2" width="20.5" height="7" fill="#2f4ea5"/>
<line x1="419.5" y1="227.7" x2="421.7" y2="227.7" stroke="#111" stroke-width="0.8"/>
<text x="416.3" y="230.9" font-size="8.6" text-anchor="end" fill="#231f20">FOSL1</text>
<rect x="421.7" y="234.2" width="16.4" height="7" fill="#e9212b"/>
<line x1="419.5" y1="237.7" x2="421.7" y2="237.7" stroke="#111" stroke-width="0.8"/>
<text x="416.3" y="240.9" font-size="8.6" text-anchor="end" fill="#231f20">FOXE1</text>
<rect x="421.7" y="244.2" width="15.6" height="7" fill="#2f4ea5"/>
<line x1="419.5" y1="247.7" x2="421.7" y2="247.7" stroke="#111" stroke-width="0.8"/>
<text x="416.3" y="250.9" font-size="8.6" text-anchor="end" fill="#231f20">TEAD3</text>
<rect x="421.7" y="254.2" width="15" height="7" fill="#2f4ea5"/>
<line x1="419.5" y1="257.7" x2="421.7" y2="257.7" stroke="#111" stroke-width="0.8"/>
<text x="416.3" y="260.9" font-size="8.6" text-anchor="end" fill="#231f20">BORIS</text>
<rect x="421.7" y="264.2" width="14.3" height="7" fill="#e9212b"/>
<line x1="419.5" y1="267.7" x2="421.7" y2="267.7" stroke="#111" stroke-width="0.8"/>
<text x="416.3" y="270.9" font-size="8.6" text-anchor="end" fill="#231f20">PAX8</text>
<rect x="421.7" y="274.2" width="13.7" height="7" fill="#2f4ea5"/>
<line x1="419.5" y1="277.7" x2="421.7" y2="277.7" stroke="#111" stroke-width="0.8"/>
<text x="416.3" y="280.9" font-size="8.6" text-anchor="end" fill="#231f20">GRHL1</text>
<rect x="421.7" y="284.2" width="9.7" height="7" fill="#2f4ea5"/>
<line x1="419.5" y1="287.7" x2="421.7" y2="287.7" stroke="#111" stroke-width="0.8"/>
<text x="416.3" y="290.9" font-size="8.6" text-anchor="end" fill="#231f20">SP1</text>
<line x1="421.7" y1="199.7" x2="421.7" y2="294.8" stroke="#111" stroke-width="1.3"/>
<line x1="421.1" y1="200.3" x2="491.5" y2="200.3" stroke="#111" stroke-width="1.3"/>
<line x1="421.7" y1="197.7" x2="421.7" y2="200.3" stroke="#111" stroke-width="0.9"/>
<text x="424.8" y="195.7" font-size="8.7" text-anchor="start" fill="#231f20" transform="rotate(-90 424.8 195.7)">0</text>
<line x1="437.6" y1="197.7" x2="437.6" y2="200.3" stroke="#111" stroke-width="0.9"/>
<text x="440.7" y="195.7" font-size="8.7" text-anchor="start" fill="#231f20" transform="rotate(-90 440.7 195.7)">500</text>
<line x1="453.5" y1="197.7" x2="453.5" y2="200.3" stroke="#111" stroke-width="0.9"/>
<text x="456.6" y="195.7" font-size="8.7" text-anchor="start" fill="#231f20" transform="rotate(-90 456.6 195.7)">1,000</text>
<line x1="469.4" y1="197.7" x2="469.4" y2="200.3" stroke="#111" stroke-width="0.9"/>
<text x="472.5" y="195.7" font-size="8.7" text-anchor="start" fill="#231f20" transform="rotate(-90 472.5 195.7)">1,500</text>
<line x1="485.3" y1="197.7" x2="485.3" y2="200.3" stroke="#111" stroke-width="0.9"/>
<text x="488.4" y="195.7" font-size="8.7" text-anchor="start" fill="#231f20" transform="rotate(-90 488.4 195.7)">2,000</text>
<text x="458.8" y="168.6" font-size="9.3" text-anchor="middle" fill="#231f20">−Log<tspan font-size="6" dy="2">10</tspan><tspan dy="-2"> (</tspan><tspan font-style="italic">P</tspan>)</text>
<text x="400.7" y="185.5" font-size="8.3" text-anchor="middle" fill="#231f20" text-decoration="underline" transform="rotate(-45 400.7 182.5)">Cluster 3</text>
<rect x="300.6" y="328.65" width="57.4" height="6.7" fill="#2f4ea5"/>
<line x1="298.4" y1="332" x2="300.6" y2="332" stroke="#111" stroke-width="0.8"/>
<text x="294" y="335.2" font-size="8.6" text-anchor="end" fill="#231f20">PB0058.1</text>
<rect x="300.6" y="338.22" width="13.4" height="6.7" fill="#2f4ea5"/>
<line x1="298.4" y1="341.57" x2="300.6" y2="341.57" stroke="#111" stroke-width="0.8"/>
<text x="294" y="344.77" font-size="8.6" text-anchor="end" fill="#231f20">PU.1</text>
<rect x="300.6" y="347.79" width="12.6" height="6.7" fill="#2f4ea5"/>
<line x1="298.4" y1="351.14" x2="300.6" y2="351.14" stroke="#111" stroke-width="0.8"/>
<text x="294" y="354.34" font-size="8.6" text-anchor="end" fill="#231f20">FRA1</text>
<rect x="300.6" y="357.36" width="4" height="6.7" fill="#2f4ea5"/>
<line x1="298.4" y1="360.71" x2="300.6" y2="360.71" stroke="#111" stroke-width="0.8"/>
<text x="294" y="363.91" font-size="8.6" text-anchor="end" fill="#231f20">MITF</text>
<rect x="300.6" y="366.93" width="3.2" height="6.7" fill="#2f4ea5"/>
<line x1="298.4" y1="370.28" x2="300.6" y2="370.28" stroke="#111" stroke-width="0.8"/>
<text x="294" y="373.48" font-size="8.6" text-anchor="end" fill="#231f20">ATF7</text>
<rect x="300.6" y="376.5" width="2.6" height="6.7" fill="#2f4ea5"/>
<line x1="298.4" y1="379.85" x2="300.6" y2="379.85" stroke="#111" stroke-width="0.8"/>
<text x="294" y="383.05" font-size="8.6" text-anchor="end" fill="#231f20">CEBPE</text>
<rect x="300.6" y="386.07" width="1.9" height="6.7" fill="#2f4ea5"/>
<line x1="298.4" y1="389.42" x2="300.6" y2="389.42" stroke="#111" stroke-width="0.8"/>
<text x="294" y="392.62" font-size="8.6" text-anchor="end" fill="#231f20">MEF2A</text>
<rect x="300.6" y="395.64" width="1.6" height="6.7" fill="#2f4ea5"/>
<line x1="298.4" y1="398.99" x2="300.6" y2="398.99" stroke="#111" stroke-width="0.8"/>
<text x="294" y="402.19" font-size="8.6" text-anchor="end" fill="#231f20">RUNX1</text>
<line x1="300.6" y1="324.2" x2="300.6" y2="405" stroke="#111" stroke-width="1.3"/>
<line x1="300" y1="324.8" x2="372.3" y2="324.8" stroke="#111" stroke-width="1.3"/>
<line x1="300.6" y1="322.2" x2="300.6" y2="324.8" stroke="#111" stroke-width="0.9"/>
<text x="303.7" y="320.2" font-size="8.7" text-anchor="start" fill="#231f20" transform="rotate(-90 303.7 320.2)">0</text>
<line x1="318.05" y1="322.2" x2="318.05" y2="324.8" stroke="#111" stroke-width="0.9"/>
<text x="321.15" y="320.2" font-size="8.7" text-anchor="start" fill="#231f20" transform="rotate(-90 321.15 320.2)">500</text>
<line x1="335.5" y1="322.2" x2="335.5" y2="324.8" stroke="#111" stroke-width="0.9"/>
<text x="338.6" y="320.2" font-size="8.7" text-anchor="start" fill="#231f20" transform="rotate(-90 338.6 320.2)">1,000</text>
<line x1="352.95" y1="322.2" x2="352.95" y2="324.8" stroke="#111" stroke-width="0.9"/>
<text x="356.05" y="320.2" font-size="8.7" text-anchor="start" fill="#231f20" transform="rotate(-90 356.05 320.2)">1,500</text>
<line x1="370.4" y1="322.2" x2="370.4" y2="324.8" stroke="#111" stroke-width="0.9"/>
<text x="373.5" y="320.2" font-size="8.7" text-anchor="start" fill="#231f20" transform="rotate(-90 373.5 320.2)">2,000</text>
<text x="337" y="292.1" font-size="9.3" text-anchor="middle" fill="#231f20">−Log<tspan font-size="6" dy="2">10</tspan><tspan dy="-2"> (</tspan><tspan font-style="italic">P</tspan>)</text>
<text x="276.3" y="310.8" font-size="8.3" text-anchor="middle" fill="#231f20" text-decoration="underline" transform="rotate(-45 276.3 307.8)">Cluster 2</text>
<rect x="423" y="338.2" width="56" height="8.6" fill="#2f4ea5"/>
<line x1="420.8" y1="342.5" x2="423" y2="342.5" stroke="#111" stroke-width="0.8"/>
<text x="417.7" y="345.7" font-size="8.6" text-anchor="end" fill="#231f20">ERG</text>
<rect x="423" y="350.75" width="19.7" height="8.6" fill="#2f4ea5"/>
<line x1="420.8" y1="355.05" x2="423" y2="355.05" stroke="#111" stroke-width="0.8"/>
<text x="417.7" y="358.25" font-size="8.6" text-anchor="end" fill="#231f20">RUNX1</text>
<rect x="423" y="363.3" width="13" height="8.6" fill="#2f4ea5"/>
<line x1="420.8" y1="367.6" x2="423" y2="367.6" stroke="#111" stroke-width="0.8"/>
<text x="417.7" y="370.8" font-size="8.6" text-anchor="end" fill="#231f20">E2A</text>
<rect x="423" y="375.85" width="10.8" height="8.6" fill="#2f4ea5"/>
<line x1="420.8" y1="380.15" x2="423" y2="380.15" stroke="#111" stroke-width="0.8"/>
<text x="417.7" y="383.35" font-size="8.6" text-anchor="end" fill="#231f20">BORIS</text>
<rect x="423" y="388.4" width="8.4" height="8.6" fill="#2f4ea5"/>
<line x1="420.8" y1="392.7" x2="423" y2="392.7" stroke="#111" stroke-width="0.8"/>
<text x="417.7" y="395.9" font-size="8.6" text-anchor="end" fill="#231f20">TCF3</text>
<rect x="423" y="400.95" width="0.5" height="8.6" fill="#2f4ea5"/>
<line x1="420.8" y1="405.25" x2="423" y2="405.25" stroke="#111" stroke-width="0.8"/>
<text x="417.7" y="408.45" font-size="8.6" text-anchor="end" fill="#231f20">TEAD3</text>
<line x1="423" y1="331.4" x2="423" y2="413.5" stroke="#111" stroke-width="1.3"/>
<line x1="422.4" y1="332" x2="480.6" y2="332" stroke="#111" stroke-width="1.3"/>
<line x1="423" y1="329.4" x2="423" y2="332" stroke="#111" stroke-width="0.9"/>
<text x="426.1" y="327.4" font-size="8.7" text-anchor="start" fill="#231f20" transform="rotate(-90 426.1 327.4)">0</text>
<line x1="441.4" y1="329.4" x2="441.4" y2="332" stroke="#111" stroke-width="0.9"/>
<text x="444.5" y="327.4" font-size="8.7" text-anchor="start" fill="#231f20" transform="rotate(-90 444.5 327.4)">1,000</text>
<line x1="459.8" y1="329.4" x2="459.8" y2="332" stroke="#111" stroke-width="0.9"/>
<text x="462.9" y="327.4" font-size="8.7" text-anchor="start" fill="#231f20" transform="rotate(-90 462.9 327.4)">2,000</text>
<line x1="478.2" y1="329.4" x2="478.2" y2="332" stroke="#111" stroke-width="0.9"/>
<text x="481.3" y="327.4" font-size="8.7" text-anchor="start" fill="#231f20" transform="rotate(-90 481.3 327.4)">3,000</text>
<text x="459.7" y="301.5" font-size="9.3" text-anchor="middle" fill="#231f20">−Log<tspan font-size="6" dy="2">10</tspan><tspan dy="-2"> (</tspan><tspan font-style="italic">P</tspan>)</text>
<text x="397.6" y="320.2" font-size="8.3" text-anchor="middle" fill="#231f20" text-decoration="underline" transform="rotate(-45 397.6 317.2)">Cluster 4</text>
<text x="-1.3" y="430.8" font-size="11" text-anchor="start" fill="#111" font-weight="bold">E</text>
<line x1="15" y1="449.6" x2="80.3" y2="449.6" stroke="#111" stroke-width="1.7"/>
<line x1="83.7" y1="449.6" x2="126.4" y2="449.6" stroke="#111" stroke-width="1.7"/>
<line x1="129.3" y1="449.6" x2="172.2" y2="449.6" stroke="#111" stroke-width="1.7"/>
<line x1="175.4" y1="449.6" x2="218.8" y2="449.6" stroke="#111" stroke-width="1.7"/>
<text x="47.5" y="446.4" font-size="9.6" text-anchor="middle" fill="#231f20">WT</text>
<text x="105" y="446.4" font-size="9.6" text-anchor="middle" fill="#c1272d" font-style="italic">TA1a</text>
<text x="151.2" y="446.4" font-size="9.6" text-anchor="middle" fill="#3fa55a" font-style="italic">TA2</text>
<text x="196.8" y="446.4" font-size="9.6" text-anchor="middle" fill="#9b4f9e" font-style="italic">TSb1</text>
<defs><filter id="bl1" x="-30%" y="-5%" width="160%" height="110%"><feGaussianBlur stdDeviation="1.8 3"/></filter><filter id="bl2" x="-30%" y="-5%" width="160%" height="110%"><feGaussianBlur stdDeviation="1.0 2.5"/></filter><filter id="bl3" x="-60%" y="-5%" width="220%" height="110%"><feGaussianBlur stdDeviation="0.55 2"/></filter><filter id="nz" x="0" y="0" width="100%" height="100%"><feTurbulence type="fractalNoise" baseFrequency="0.35 0.9" numOctaves="2" seed="5" result="t"/><feColorMatrix in="t" type="matrix" values="0 0 0 0 0.33  0 0 0 0 0.36  0 0 0 0 0.70  0 0 0 2.8 -1.38"/></filter><filter id="nw" x="0" y="0" width="100%" height="100%"><feTurbulence type="fractalNoise" baseFrequency="0.3 0.85" numOctaves="2" seed="23" result="t"/><feColorMatrix in="t" type="matrix" values="0 0 0 0 1  0 0 0 0 1  0 0 0 0 1  0 0 0 3.2 -1.55"/></filter><linearGradient id="fadeE" x1="0" y1="0" x2="0" y2="1"><stop offset="0" stop-color="#fff" stop-opacity="1"/><stop offset="0.25" stop-color="#fff" stop-opacity="0.75"/><stop offset="0.6" stop-color="#fff" stop-opacity="0.4"/><stop offset="1" stop-color="#fff" stop-opacity="0.18"/></linearGradient><mask id="mE" maskContentUnits="objectBoundingBox"><rect width="1" height="1" fill="url(#fadeE)"/></mask><linearGradient id="gH" x1="0" y1="0" x2="0" y2="1"><stop offset="0" stop-color="#7f8bd0" stop-opacity="0.95"/><stop offset="0.3" stop-color="#8a95d4" stop-opacity="0.7"/><stop offset="0.7" stop-color="#97a0d8" stop-opacity="0.45"/><stop offset="1" stop-color="#a0a8dc" stop-opacity="0.3"/></linearGradient><linearGradient id="gM" x1="0" y1="0" x2="0" y2="1"><stop offset="0" stop-color="#4c59b0" stop-opacity="0.95"/><stop offset="0.4" stop-color="#5663b6" stop-opacity="0.8"/><stop offset="1" stop-color="#6a76c0" stop-opacity="0.55"/></linearGradient><linearGradient id="gC" x1="0" y1="0" x2="0" y2="1"><stop offset="0" stop-color="#404ca4" stop-opacity="0.95"/><stop offset="0.5" stop-color="#4a56ac" stop-opacity="0.88"/><stop offset="1" stop-color="#5b66b6" stop-opacity="0.72"/></linearGradient><linearGradient id="gH2" x1="0" y1="0" x2="0" y2="1"><stop offset="0" stop-color="#8f9ad6" stop-opacity="0.8"/><stop offset="0.25" stop-color="#97a1d9" stop-opacity="0.45"/><stop offset="0.6" stop-color="#a0a8dc" stop-opacity="0.15"/><stop offset="1" stop-color="#a0a8dc" stop-opacity="0.05"/></linearGradient><linearGradient id="gM2" x1="0" y1="0" x2="0" y2="1"><stop offset="0" stop-color="#5a67b8" stop-opacity="0.9"/><stop offset="0.35" stop-color="#6571bd" stop-opacity="0.55"/><stop offset="1" stop-color="#7a85c8" stop-opacity="0.18"/></linearGradient><linearGradient id="gC2" x1="0" y1="0" x2="0" y2="1"><stop offset="0" stop-color="#4853aa" stop-opacity="0.95"/><stop offset="0.4" stop-color="#5560b2" stop-opacity="0.7"/><stop offset="1" stop-color="#6a74bf" stop-opacity="0.4"/></linearGradient></defs>
<rect x="15" y="453.6" width="21" height="20.6" fill="#fff" stroke="#999" stroke-width="0.55"/>
<polyline points="16,471.4 16.48,471.34 16.95,471.27 17.43,471.19 17.9,471.1 18.38,470.99 18.85,470.86 19.32,470.71 19.8,470.52 20.27,470.3 20.75,470.02 21.23,469.68 21.7,469.25 22.18,468.7 22.65,467.98 23.12,467.01 23.6,465.66 24.07,463.69 24.55,460.79 25.02,457.1 25.5,455 25.98,457.1 26.45,460.79 26.92,463.69 27.4,465.66 27.88,467.01 28.35,467.98 28.83,468.7 29.3,469.25 29.77,469.68 30.25,470.02 30.73,470.3 31.2,470.52 31.67,470.71 32.15,470.86 32.62,470.99 33.1,471.1 33.58,471.19 34.05,471.27 34.52,471.34 35,471.4" fill="none" stroke="#35386e" stroke-width="0.6"/>
<text x="15.2" y="476.6" font-size="2.2" text-anchor="start" fill="#555">-3.0</text>
<text x="25.5" y="476.6" font-size="2.2" text-anchor="middle" fill="#555">Center</text>
<text x="35.8" y="476.6" font-size="2.2" text-anchor="end" fill="#555">3.0Kb</text>
<text x="15.2" y="619.6" font-size="2.2" text-anchor="start" fill="#555">-3.0</text>
<text x="25.5" y="619.6" font-size="2.2" text-anchor="middle" fill="#555">Center</text>
<text x="35.8" y="619.6" font-size="2.2" text-anchor="end" fill="#555">3.0Kb</text>
<clipPath id="cE0"><rect x="15" y="477.9" width="21" height="138.4"/></clipPath>
<g clip-path="url(#cE0)">
<rect x="15" y="477.9" width="21" height="138.4" fill="#f8f8fc"/>
<rect x="15" y="477.9" width="21" height="138.4" filter="url(#nz)" opacity="0.8" mask="url(#mE)"/>
<polygon points="14,473.9 15.48,484.07 16.85,494.24 18.09,504.41 19.22,514.59 20.23,524.76 21.12,534.93 21.9,545.1 22.56,555.27 23.11,565.44 23.56,575.61 23.89,585.79 24.13,595.96 24.26,606.13 24.3,616.3 26.7,616.3 26.74,606.13 26.87,595.96 27.11,585.79 27.44,575.61 27.89,565.44 28.44,555.27 29.1,545.1 29.88,534.93 30.77,524.76 31.78,514.59 32.91,504.41 34.15,494.24 35.52,484.07 37,473.9" fill="url(#gH)" opacity="0.72" filter="url(#bl1)"/>
<polygon points="19.9,473.9 20.68,484.07 21.38,494.24 22.01,504.41 22.56,514.59 23.04,524.76 23.45,534.93 23.79,545.1 24.07,555.27 24.29,565.44 24.46,575.61 24.58,585.79 24.66,595.96 24.69,606.13 24.7,616.3 26.3,616.3 26.31,606.13 26.34,595.96 26.42,585.79 26.54,575.61 26.71,565.44 26.93,555.27 27.21,545.1 27.55,534.93 27.96,524.76 28.44,514.59 28.99,504.41 29.62,494.24 30.32,484.07 31.1,473.9" fill="url(#gM)" opacity="0.75" filter="url(#bl2)"/>
<polygon points="23.3,473.9 23.53,484.07 23.75,494.24 23.95,504.41 24.13,514.59 24.3,524.76 24.44,534.93 24.57,545.1 24.69,555.27 24.78,565.44 24.86,575.61 24.92,585.79 24.97,595.96 24.99,606.13 25,616.3 26,616.3 26.01,606.13 26.03,595.96 26.08,585.79 26.14,575.61 26.22,565.44 26.31,555.27 26.43,545.1 26.56,534.93 26.7,524.76 26.87,514.59 27.05,504.41 27.25,494.24 27.47,484.07 27.7,473.9" fill="url(#gC)" opacity="0.95" filter="url(#bl3)"/>
<rect x="15" y="477.9" width="21" height="138.4" filter="url(#nw)" opacity="0.55"/>
</g>
<rect x="15" y="477.9" width="21" height="138.4" fill="none" stroke="#a0a0a0" stroke-width="0.5"/>
<rect x="37.6" y="453.6" width="21" height="20.6" fill="#fff" stroke="#999" stroke-width="0.55"/>
<polyline points="38.6,471.49 39.08,471.44 39.55,471.38 40.02,471.31 40.5,471.23 40.98,471.14 41.45,471.03 41.93,470.9 42.4,470.74 42.88,470.55 43.35,470.31 43.83,470.02 44.3,469.66 44.77,469.18 45.25,468.57 45.73,467.74 46.2,466.59 46.67,464.91 47.15,462.44 47.62,459.29 48.1,457.5 48.58,459.29 49.05,462.44 49.52,464.91 50,466.59 50.48,467.74 50.95,468.57 51.43,469.18 51.9,469.66 52.38,470.02 52.85,470.31 53.33,470.55 53.8,470.74 54.27,470.9 54.75,471.03 55.23,471.14 55.7,471.23 56.17,471.31 56.65,471.38 57.12,471.44 57.6,471.49" fill="none" stroke="#35386e" stroke-width="0.6"/>
<text x="37.8" y="476.6" font-size="2.2" text-anchor="start" fill="#555">-3.0</text>
<text x="48.1" y="476.6" font-size="2.2" text-anchor="middle" fill="#555">Center</text>
<text x="58.4" y="476.6" font-size="2.2" text-anchor="end" fill="#555">3.0Kb</text>
<text x="37.8" y="619.6" font-size="2.2" text-anchor="start" fill="#555">-3.0</text>
<text x="48.1" y="619.6" font-size="2.2" text-anchor="middle" fill="#555">Center</text>
<text x="58.4" y="619.6" font-size="2.2" text-anchor="end" fill="#555">3.0Kb</text>
<clipPath id="cE1"><rect x="37.6" y="477.9" width="21" height="138.4"/></clipPath>
<g clip-path="url(#cE1)">
<rect x="37.6" y="477.9" width="21" height="138.4" fill="#f8f8fc"/>
<rect x="37.6" y="477.9" width="21" height="138.4" filter="url(#nz)" opacity="0.76" mask="url(#mE)"/>
<polygon points="36.6,473.9 38.08,484.07 39.45,494.24 40.69,504.41 41.82,514.59 42.83,524.76 43.72,534.93 44.5,545.1 45.16,555.27 45.71,565.44 46.16,575.61 46.49,585.79 46.73,595.96 46.86,606.13 46.9,616.3 49.3,616.3 49.34,606.13 49.47,595.96 49.71,585.79 50.04,575.61 50.49,565.44 51.04,555.27 51.7,545.1 52.48,534.93 53.37,524.76 54.38,514.59 55.51,504.41 56.75,494.24 58.12,484.07 59.6,473.9" fill="url(#gH)" opacity="0.68" filter="url(#bl1)"/>
<polygon points="42.5,473.9 43.28,484.07 43.98,494.24 44.61,504.41 45.16,514.59 45.64,524.76 46.05,534.93 46.39,545.1 46.67,555.27 46.89,565.44 47.06,575.61 47.18,585.79 47.26,595.96 47.29,606.13 47.3,616.3 48.9,616.3 48.91,606.13 48.94,595.96 49.02,585.79 49.14,575.61 49.31,565.44 49.53,555.27 49.81,545.1 50.15,534.93 50.56,524.76 51.04,514.59 51.59,504.41 52.22,494.24 52.92,484.07 53.7,473.9" fill="url(#gM)" opacity="0.71" filter="url(#bl2)"/>
<polygon points="45.9,473.9 46.13,484.07 46.35,494.24 46.55,504.41 46.73,514.59 46.9,524.76 47.04,534.93 47.18,545.1 47.29,555.27 47.38,565.44 47.46,575.61 47.52,585.79 47.57,595.96 47.59,606.13 47.6,616.3 48.6,616.3 48.61,606.13 48.63,595.96 48.68,585.79 48.74,575.61 48.82,565.44 48.91,555.27 49.02,545.1 49.16,534.93 49.3,524.76 49.47,514.59 49.65,504.41 49.85,494.24 50.07,484.07 50.3,473.9" fill="url(#gC)" opacity="0.9" filter="url(#bl3)"/>
<rect x="37.6" y="477.9" width="21" height="138.4" filter="url(#nw)" opacity="0.55"/>
</g>
<rect x="37.6" y="477.9" width="21" height="138.4" fill="none" stroke="#a0a0a0" stroke-width="0.5"/>
<rect x="60.7" y="453.6" width="21" height="20.6" fill="#fff" stroke="#999" stroke-width="0.55"/>
<polyline points="61.7,471.58 62.18,471.53 62.65,471.48 63.12,471.43 63.6,471.36 64.08,471.29 64.55,471.2 65.03,471.09 65.5,470.96 65.98,470.8 66.45,470.61 66.92,470.36 67.4,470.06 67.88,469.67 68.35,469.16 68.83,468.48 69.3,467.52 69.78,466.14 70.25,464.09 70.73,461.48 71.2,460 71.67,461.48 72.15,464.09 72.62,466.14 73.1,467.52 73.58,468.48 74.05,469.16 74.53,469.67 75,470.06 75.48,470.36 75.95,470.61 76.42,470.8 76.9,470.96 77.38,471.09 77.85,471.2 78.33,471.29 78.8,471.36 79.28,471.43 79.75,471.48 80.22,471.53 80.7,471.58" fill="none" stroke="#35386e" stroke-width="0.6"/>
<text x="60.9" y="476.6" font-size="2.2" text-anchor="start" fill="#555">-3.0</text>
<text x="71.2" y="476.6" font-size="2.2" text-anchor="middle" fill="#555">Center</text>
<text x="81.5" y="476.6" font-size="2.2" text-anchor="end" fill="#555">3.0Kb</text>
<text x="60.9" y="619.6" font-size="2.2" text-anchor="start" fill="#555">-3.0</text>
<text x="71.2" y="619.6" font-size="2.2" text-anchor="middle" fill="#555">Center</text>
<text x="81.5" y="619.6" font-size="2.2" text-anchor="end" fill="#555">3.0Kb</text>
<clipPath id="cE2"><rect x="60.7" y="477.9" width="21" height="138.4"/></clipPath>
<g clip-path="url(#cE2)">
<rect x="60.7" y="477.9" width="21" height="138.4" fill="#f8f8fc"/>
<rect x="60.7" y="477.9" width="21" height="138.4" filter="url(#nz)" opacity="0.7" mask="url(#mE)"/>
<polygon points="59.7,473.9 61.18,484.07 62.55,494.24 63.79,504.41 64.92,514.59 65.93,524.76 66.82,534.93 67.6,545.1 68.26,555.27 68.81,565.44 69.26,575.61 69.59,585.79 69.83,595.96 69.96,606.13 70,616.3 72.4,616.3 72.44,606.13 72.57,595.96 72.81,585.79 73.14,575.61 73.59,565.44 74.14,555.27 74.8,545.1 75.58,534.93 76.47,524.76 77.48,514.59 78.61,504.41 79.85,494.24 81.22,484.07 82.7,473.9" fill="url(#gH)" opacity="0.63" filter="url(#bl1)"/>
<polygon points="65.6,473.9 66.38,484.07 67.08,494.24 67.71,504.41 68.26,514.59 68.74,524.76 69.15,534.93 69.49,545.1 69.77,555.27 69.99,565.44 70.16,575.61 70.28,585.79 70.36,595.96 70.39,606.13 70.4,616.3 72,616.3 72.01,606.13 72.04,595.96 72.12,585.79 72.24,575.61 72.41,565.44 72.63,555.27 72.91,545.1 73.25,534.93 73.66,524.76 74.14,514.59 74.69,504.41 75.32,494.24 76.02,484.07 76.8,473.9" fill="url(#gM)" opacity="0.66" filter="url(#bl2)"/>
<polygon points="69,473.9 69.23,484.07 69.45,494.24 69.65,504.41 69.83,514.59 70,524.76 70.14,534.93 70.28,545.1 70.39,555.27 70.48,565.44 70.56,575.61 70.62,585.79 70.67,595.96 70.69,606.13 70.7,616.3 71.7,616.3 71.71,606.13 71.73,595.96 71.78,585.79 71.84,575.61 71.92,565.44 72.01,555.27 72.12,545.1 72.26,534.93 72.4,524.76 72.57,514.59 72.75,504.41 72.95,494.24 73.17,484.07 73.4,473.9" fill="url(#gC)" opacity="0.84" filter="url(#bl3)"/>
<rect x="60.7" y="477.9" width="21" height="138.4" filter="url(#nw)" opacity="0.55"/>
</g>
<rect x="60.7" y="477.9" width="21" height="138.4" fill="none" stroke="#a0a0a0" stroke-width="0.5"/>
<rect x="83.7" y="453.6" width="21" height="20.6" fill="#fff" stroke="#999" stroke-width="0.55"/>
<polyline points="84.7,471.84 85.17,471.82 85.65,471.8 86.12,471.78 86.6,471.76 87.08,471.73 87.55,471.69 88.03,471.65 88.5,471.6 88.98,471.54 89.45,471.47 89.92,471.37 90.4,471.26 90.88,471.11 91.35,470.91 91.83,470.65 92.3,470.28 92.78,469.75 93.25,468.97 93.73,467.97 94.2,467.4 94.67,467.97 95.15,468.97 95.62,469.75 96.1,470.28 96.58,470.65 97.05,470.91 97.53,471.11 98,471.26 98.48,471.37 98.95,471.47 99.42,471.54 99.9,471.6 100.38,471.65 100.85,471.69 101.33,471.73 101.8,471.76 102.28,471.78 102.75,471.8 103.22,471.82 103.7,471.84" fill="none" stroke="#35386e" stroke-width="0.6"/>
<text x="83.9" y="476.6" font-size="2.2" text-anchor="start" fill="#555">-3.0</text>
<text x="94.2" y="476.6" font-size="2.2" text-anchor="middle" fill="#555">Center</text>
<text x="104.5" y="476.6" font-size="2.2" text-anchor="end" fill="#555">3.0Kb</text>
<text x="83.9" y="619.6" font-size="2.2" text-anchor="start" fill="#555">-3.0</text>
<text x="94.2" y="619.6" font-size="2.2" text-anchor="middle" fill="#555">Center</text>
<text x="104.5" y="619.6" font-size="2.2" text-anchor="end" fill="#555">3.0Kb</text>
<clipPath id="cE3"><rect x="83.7" y="477.9" width="21" height="138.4"/></clipPath>
<g clip-path="url(#cE3)">
<rect x="83.7" y="477.9" width="21" height="138.4" fill="#f8f8fc"/>
<rect x="83.7" y="477.9" width="21" height="138.4" filter="url(#nz)" opacity="0.28" mask="url(#mE)"/>
<polygon points="84.7,473.9 85.9,484.07 87,494.24 88,504.41 88.91,514.59 89.72,524.76 90.44,534.93 91.06,545.1 91.6,555.27 92.04,565.44 92.4,575.61 92.67,585.79 92.86,595.96 92.97,606.13 93,616.3 95.4,616.3 95.43,606.13 95.54,595.96 95.73,585.79 96,575.61 96.36,565.44 96.8,555.27 97.34,545.1 97.96,534.93 98.68,524.76 99.49,514.59 100.4,504.41 101.4,494.24 102.5,484.07 103.7,473.9" fill="url(#gH2)" opacity="0.45" filter="url(#bl1)"/>
<polygon points="89.6,473.9 90.22,484.07 90.78,494.24 91.27,504.41 91.71,514.59 92.08,524.76 92.41,534.93 92.68,545.1 92.9,555.27 93.08,565.44 93.21,575.61 93.31,585.79 93.36,595.96 93.39,606.13 93.4,616.3 95,616.3 95.01,606.13 95.04,595.96 95.09,585.79 95.19,575.61 95.32,565.44 95.5,555.27 95.72,545.1 95.99,534.93 96.32,524.76 96.69,514.59 97.13,504.41 97.62,494.24 98.18,484.07 98.8,473.9" fill="url(#gM2)" opacity="0.46" filter="url(#bl2)"/>
<polygon points="92.5,473.9 92.67,484.07 92.82,494.24 92.96,504.41 93.09,514.59 93.2,524.76 93.31,534.93 93.4,545.1 93.48,555.27 93.55,565.44 93.6,575.61 93.64,585.79 93.68,595.96 93.69,606.13 93.7,616.3 94.7,616.3 94.71,606.13 94.72,595.96 94.76,585.79 94.8,575.61 94.85,565.44 94.92,555.27 95,545.1 95.09,534.93 95.2,524.76 95.31,514.59 95.44,504.41 95.58,494.24 95.73,484.07 95.9,473.9" fill="url(#gC2)" opacity="0.59" filter="url(#bl3)"/>
<rect x="83.7" y="477.9" width="21" height="138.4" filter="url(#nw)" opacity="0.55"/>
</g>
<rect x="83.7" y="477.9" width="21" height="138.4" fill="none" stroke="#a0a0a0" stroke-width="0.5"/>
<rect x="106.7" y="453.6" width="21" height="20.6" fill="#fff" stroke="#999" stroke-width="0.55"/>
<polyline points="107.7,471.87 108.17,471.86 108.65,471.85 109.12,471.83 109.6,471.81 110.08,471.79 110.55,471.76 111.03,471.73 111.5,471.69 111.98,471.64 112.45,471.58 112.92,471.51 113.4,471.42 113.88,471.3 114.35,471.15 114.83,470.94 115.3,470.66 115.78,470.24 116.25,469.63 116.73,468.84 117.2,468.4 117.67,468.84 118.15,469.63 118.62,470.24 119.1,470.66 119.58,470.94 120.05,471.15 120.53,471.3 121,471.42 121.48,471.51 121.95,471.58 122.42,471.64 122.9,471.69 123.38,471.73 123.85,471.76 124.33,471.79 124.8,471.81 125.28,471.83 125.75,471.85 126.22,471.86 126.7,471.87" fill="none" stroke="#35386e" stroke-width="0.6"/>
<text x="106.9" y="476.6" font-size="2.2" text-anchor="start" fill="#555">-3.0</text>
<text x="117.2" y="476.6" font-size="2.2" text-anchor="middle" fill="#555">Center</text>
<text x="127.5" y="476.6" font-size="2.2" text-anchor="end" fill="#555">3.0Kb</text>
<text x="106.9" y="619.6" font-size="2.2" text-anchor="start" fill="#555">-3.0</text>
<text x="117.2" y="619.6" font-size="2.2" text-anchor="middle" fill="#555">Center</text>
<text x="127.5" y="619.6" font-size="2.2" text-anchor="end" fill="#555">3.0Kb</text>
<clipPath id="cE4"><rect x="106.7" y="477.9" width="21" height="138.4"/></clipPath>
<g clip-path="url(#cE4)">
<rect x="106.7" y="477.9" width="21" height="138.4" fill="#f8f8fc"/>
<rect x="106.7" y="477.9" width="21" height="138.4" filter="url(#nz)" opacity="0.25" mask="url(#mE)"/>
<polygon points="107.7,473.9 108.9,484.07 110,494.24 111,504.41 111.91,514.59 112.72,524.76 113.44,534.93 114.06,545.1 114.6,555.27 115.04,565.44 115.4,575.61 115.67,585.79 115.86,595.96 115.97,606.13 116,616.3 118.4,616.3 118.43,606.13 118.54,595.96 118.73,585.79 119,575.61 119.36,565.44 119.8,555.27 120.34,545.1 120.96,534.93 121.68,524.76 122.49,514.59 123.4,504.41 124.4,494.24 125.5,484.07 126.7,473.9" fill="url(#gH2)" opacity="0.4" filter="url(#bl1)"/>
<polygon points="112.6,473.9 113.22,484.07 113.78,494.24 114.27,504.41 114.71,514.59 115.08,524.76 115.41,534.93 115.68,545.1 115.9,555.27 116.08,565.44 116.21,575.61 116.31,585.79 116.36,595.96 116.39,606.13 116.4,616.3 118,616.3 118.01,606.13 118.04,595.96 118.09,585.79 118.19,575.61 118.32,565.44 118.5,555.27 118.72,545.1 118.99,534.93 119.32,524.76 119.69,514.59 120.13,504.41 120.62,494.24 121.18,484.07 121.8,473.9" fill="url(#gM2)" opacity="0.41" filter="url(#bl2)"/>
<polygon points="115.5,473.9 115.67,484.07 115.82,494.24 115.96,504.41 116.09,514.59 116.2,524.76 116.31,534.93 116.4,545.1 116.48,555.27 116.55,565.44 116.6,575.61 116.64,585.79 116.68,595.96 116.69,606.13 116.7,616.3 117.7,616.3 117.71,606.13 117.72,595.96 117.76,585.79 117.8,575.61 117.85,565.44 117.92,555.27 118,545.1 118.09,534.93 118.2,524.76 118.31,514.59 118.44,504.41 118.58,494.24 118.73,484.07 118.9,473.9" fill="url(#gC2)" opacity="0.52" filter="url(#bl3)"/>
<rect x="106.7" y="477.9" width="21" height="138.4" filter="url(#nw)" opacity="0.55"/>
</g>
<rect x="106.7" y="477.9" width="21" height="138.4" fill="none" stroke="#a0a0a0" stroke-width="0.5"/>
<rect x="129.3" y="453.6" width="21" height="20.6" fill="#fff" stroke="#999" stroke-width="0.55"/>
<polyline points="130.3,471.89 130.78,471.88 131.25,471.86 131.73,471.85 132.2,471.83 132.68,471.81 133.15,471.79 133.62,471.76 134.1,471.72 134.58,471.68 135.05,471.63 135.53,471.56 136,471.48 136.48,471.38 136.95,471.24 137.43,471.06 137.9,470.81 138.38,470.44 138.85,469.89 139.33,469.19 139.8,468.8 140.28,469.19 140.75,469.89 141.23,470.44 141.7,470.81 142.18,471.06 142.65,471.24 143.12,471.38 143.6,471.48 144.08,471.56 144.55,471.63 145.03,471.68 145.5,471.72 145.98,471.76 146.45,471.79 146.93,471.81 147.4,471.83 147.88,471.85 148.35,471.86 148.83,471.88 149.3,471.89" fill="none" stroke="#35386e" stroke-width="0.6"/>
<text x="129.5" y="476.6" font-size="2.2" text-anchor="start" fill="#555">-3.0</text>
<text x="139.8" y="476.6" font-size="2.2" text-anchor="middle" fill="#555">Center</text>
<text x="150.1" y="476.6" font-size="2.2" text-anchor="end" fill="#555">3.0Kb</text>
<text x="129.5" y="619.6" font-size="2.2" text-anchor="start" fill="#555">-3.0</text>
<text x="139.8" y="619.6" font-size="2.2" text-anchor="middle" fill="#555">Center</text>
<text x="150.1" y="619.6" font-size="2.2" text-anchor="end" fill="#555">3.0Kb</text>
<clipPath id="cE5"><rect x="129.3" y="477.9" width="21" height="138.4"/></clipPath>
<g clip-path="url(#cE5)">
<rect x="129.3" y="477.9" width="21" height="138.4" fill="#f8f8fc"/>
<rect x="129.3" y="477.9" width="21" height="138.4" filter="url(#nz)" opacity="0.23" mask="url(#mE)"/>
<polygon points="130.3,473.9 131.5,484.07 132.6,494.24 133.6,504.41 134.51,514.59 135.32,524.76 136.04,534.93 136.66,545.1 137.2,555.27 137.64,565.44 138,575.61 138.27,585.79 138.46,595.96 138.57,606.13 138.6,616.3 141,616.3 141.03,606.13 141.14,595.96 141.33,585.79 141.6,575.61 141.96,565.44 142.4,555.27 142.94,545.1 143.56,534.93 144.28,524.76 145.09,514.59 146,504.41 147,494.24 148.1,484.07 149.3,473.9" fill="url(#gH2)" opacity="0.36" filter="url(#bl1)"/>
<polygon points="135.2,473.9 135.82,484.07 136.38,494.24 136.87,504.41 137.31,514.59 137.68,524.76 138.01,534.93 138.28,545.1 138.5,555.27 138.68,565.44 138.81,575.61 138.91,585.79 138.96,595.96 138.99,606.13 139,616.3 140.6,616.3 140.61,606.13 140.64,595.96 140.69,585.79 140.79,575.61 140.92,565.44 141.1,555.27 141.32,545.1 141.59,534.93 141.92,524.76 142.29,514.59 142.73,504.41 143.22,494.24 143.78,484.07 144.4,473.9" fill="url(#gM2)" opacity="0.38" filter="url(#bl2)"/>
<polygon points="138.1,473.9 138.27,484.07 138.42,494.24 138.56,504.41 138.69,514.59 138.8,524.76 138.91,534.93 139,545.1 139.08,555.27 139.15,565.44 139.2,575.61 139.24,585.79 139.28,595.96 139.29,606.13 139.3,616.3 140.3,616.3 140.31,606.13 140.32,595.96 140.36,585.79 140.4,575.61 140.45,565.44 140.52,555.27 140.6,545.1 140.69,534.93 140.8,524.76 140.91,514.59 141.04,504.41 141.18,494.24 141.33,484.07 141.5,473.9" fill="url(#gC2)" opacity="0.47" filter="url(#bl3)"/>
<rect x="129.3" y="477.9" width="21" height="138.4" filter="url(#nw)" opacity="0.55"/>
</g>
<rect x="129.3" y="477.9" width="21" height="138.4" fill="none" stroke="#a0a0a0" stroke-width="0.5"/>
<rect x="152.1" y="453.6" width="21" height="20.6" fill="#fff" stroke="#999" stroke-width="0.55"/>
<polyline points="153.1,471.93 153.57,471.92 154.05,471.91 154.53,471.9 155,471.89 155.47,471.88 155.95,471.87 156.42,471.85 156.9,471.83 157.38,471.8 157.85,471.77 158.32,471.73 158.8,471.68 159.28,471.61 159.75,471.53 160.22,471.41 160.7,471.25 161.17,471.02 161.65,470.68 162.12,470.25 162.6,470 163.07,470.25 163.55,470.68 164.03,471.02 164.5,471.25 164.97,471.41 165.45,471.53 165.92,471.61 166.4,471.68 166.88,471.73 167.35,471.77 167.82,471.8 168.3,471.83 168.78,471.85 169.25,471.87 169.72,471.88 170.2,471.89 170.67,471.9 171.15,471.91 171.62,471.92 172.1,471.93" fill="none" stroke="#35386e" stroke-width="0.6"/>
<text x="152.3" y="476.6" font-size="2.2" text-anchor="start" fill="#555">-3.0</text>
<text x="162.6" y="476.6" font-size="2.2" text-anchor="middle" fill="#555">Center</text>
<text x="172.9" y="476.6" font-size="2.2" text-anchor="end" fill="#555">3.0Kb</text>
<text x="152.3" y="619.6" font-size="2.2" text-anchor="start" fill="#555">-3.0</text>
<text x="162.6" y="619.6" font-size="2.2" text-anchor="middle" fill="#555">Center</text>
<text x="172.9" y="619.6" font-size="2.2" text-anchor="end" fill="#555">3.0Kb</text>
<clipPath id="cE6"><rect x="152.1" y="477.9" width="21" height="138.4"/></clipPath>
<g clip-path="url(#cE6)">
<rect x="152.1" y="477.9" width="21" height="138.4" fill="#f8f8fc"/>
<rect x="152.1" y="477.9" width="21" height="138.4" filter="url(#nz)" opacity="0.15" mask="url(#mE)"/>
<polygon points="153.1,473.9 154.3,484.07 155.4,494.24 156.4,504.41 157.31,514.59 158.12,524.76 158.84,534.93 159.46,545.1 160,555.27 160.44,565.44 160.8,575.61 161.07,585.79 161.26,595.96 161.37,606.13 161.4,616.3 163.8,616.3 163.83,606.13 163.94,595.96 164.13,585.79 164.4,575.61 164.76,565.44 165.2,555.27 165.74,545.1 166.36,534.93 167.08,524.76 167.89,514.59 168.8,504.41 169.8,494.24 170.9,484.07 172.1,473.9" fill="url(#gH2)" opacity="0.24" filter="url(#bl1)"/>
<polygon points="158,473.9 158.62,484.07 159.18,494.24 159.67,504.41 160.11,514.59 160.48,524.76 160.81,534.93 161.08,545.1 161.3,555.27 161.48,565.44 161.61,575.61 161.71,585.79 161.76,595.96 161.79,606.13 161.8,616.3 163.4,616.3 163.41,606.13 163.44,595.96 163.49,585.79 163.59,575.61 163.72,565.44 163.9,555.27 164.12,545.1 164.39,534.93 164.72,524.76 165.09,514.59 165.53,504.41 166.02,494.24 166.58,484.07 167.2,473.9" fill="url(#gM2)" opacity="0.26" filter="url(#bl2)"/>
<polygon points="160.9,473.9 161.07,484.07 161.22,494.24 161.36,504.41 161.49,514.59 161.6,524.76 161.71,534.93 161.8,545.1 161.88,555.27 161.95,565.44 162,575.61 162.04,585.79 162.08,595.96 162.09,606.13 162.1,616.3 163.1,616.3 163.11,606.13 163.12,595.96 163.16,585.79 163.2,575.61 163.25,565.44 163.32,555.27 163.4,545.1 163.49,534.93 163.6,524.76 163.71,514.59 163.84,504.41 163.98,494.24 164.13,484.07 164.3,473.9" fill="url(#gC2)" opacity="0.32" filter="url(#bl3)"/>
<rect x="152.1" y="477.9" width="21" height="138.4" filter="url(#nw)" opacity="0.55"/>
</g>
<rect x="152.1" y="477.9" width="21" height="138.4" fill="none" stroke="#a0a0a0" stroke-width="0.5"/>
<rect x="175" y="453.6" width="21" height="20.6" fill="#fff" stroke="#999" stroke-width="0.55"/>
<polyline points="176,471.89 176.47,471.88 176.95,471.87 177.43,471.86 177.9,471.84 178.38,471.82 178.85,471.8 179.32,471.77 179.8,471.74 180.28,471.7 180.75,471.65 181.22,471.59 181.7,471.51 182.18,471.42 182.65,471.29 183.12,471.12 183.6,470.88 184.07,470.53 184.55,470.02 185.03,469.37 185.5,469 185.97,469.37 186.45,470.02 186.93,470.53 187.4,470.88 187.88,471.12 188.35,471.29 188.82,471.42 189.3,471.51 189.78,471.59 190.25,471.65 190.72,471.7 191.2,471.74 191.68,471.77 192.15,471.8 192.62,471.82 193.1,471.84 193.57,471.86 194.05,471.87 194.53,471.88 195,471.89" fill="none" stroke="#35386e" stroke-width="0.6"/>
<text x="175.2" y="476.6" font-size="2.2" text-anchor="start" fill="#555">-3.0</text>
<text x="185.5" y="476.6" font-size="2.2" text-anchor="middle" fill="#555">Center</text>
<text x="195.8" y="476.6" font-size="2.2" text-anchor="end" fill="#555">3.0Kb</text>
<text x="175.2" y="619.6" font-size="2.2" text-anchor="start" fill="#555">-3.0</text>
<text x="185.5" y="619.6" font-size="2.2" text-anchor="middle" fill="#555">Center</text>
<text x="195.8" y="619.6" font-size="2.2" text-anchor="end" fill="#555">3.0Kb</text>
<clipPath id="cE7"><rect x="175" y="477.9" width="21" height="138.4"/></clipPath>
<g clip-path="url(#cE7)">
<rect x="175" y="477.9" width="21" height="138.4" fill="#f8f8fc"/>
<rect x="175" y="477.9" width="21" height="138.4" filter="url(#nz)" opacity="0.23" mask="url(#mE)"/>
<polygon points="176,473.9 177.2,484.07 178.3,494.24 179.3,504.41 180.21,514.59 181.02,524.76 181.74,534.93 182.36,545.1 182.9,555.27 183.34,565.44 183.7,575.61 183.97,585.79 184.16,595.96 184.27,606.13 184.3,616.3 186.7,616.3 186.73,606.13 186.84,595.96 187.03,585.79 187.3,575.61 187.66,565.44 188.1,555.27 188.64,545.1 189.26,534.93 189.98,524.76 190.79,514.59 191.7,504.41 192.7,494.24 193.8,484.07 195,473.9" fill="url(#gH2)" opacity="0.37" filter="url(#bl1)"/>
<polygon points="180.9,473.9 181.52,484.07 182.08,494.24 182.57,504.41 183.01,514.59 183.38,524.76 183.71,534.93 183.98,545.1 184.2,555.27 184.38,565.44 184.51,575.61 184.61,585.79 184.66,595.96 184.69,606.13 184.7,616.3 186.3,616.3 186.31,606.13 186.34,595.96 186.39,585.79 186.49,575.61 186.62,565.44 186.8,555.27 187.02,545.1 187.29,534.93 187.62,524.76 187.99,514.59 188.43,504.41 188.92,494.24 189.48,484.07 190.1,473.9" fill="url(#gM2)" opacity="0.39" filter="url(#bl2)"/>
<polygon points="183.8,473.9 183.97,484.07 184.12,494.24 184.26,504.41 184.39,514.59 184.5,524.76 184.61,534.93 184.7,545.1 184.78,555.27 184.85,565.44 184.9,575.61 184.94,585.79 184.98,595.96 184.99,606.13 185,616.3 186,616.3 186.01,606.13 186.02,595.96 186.06,585.79 186.1,575.61 186.15,565.44 186.22,555.27 186.3,545.1 186.39,534.93 186.5,524.76 186.61,514.59 186.74,504.41 186.88,494.24 187.03,484.07 187.2,473.9" fill="url(#gC2)" opacity="0.49" filter="url(#bl3)"/>
<rect x="175" y="477.9" width="21" height="138.4" filter="url(#nw)" opacity="0.55"/>
</g>
<rect x="175" y="477.9" width="21" height="138.4" fill="none" stroke="#a0a0a0" stroke-width="0.5"/>
<rect x="198" y="453.6" width="21" height="20.6" fill="#fff" stroke="#999" stroke-width="0.55"/>
<polyline points="199,471.82 199.47,471.8 199.95,471.78 200.43,471.75 200.9,471.72 201.38,471.69 201.85,471.65 202.32,471.6 202.8,471.55 203.28,471.48 203.75,471.4 204.22,471.29 204.7,471.16 205.18,470.99 205.65,470.77 206.12,470.47 206.6,470.06 207.07,469.46 207.55,468.57 208.03,467.44 208.5,466.8 208.97,467.44 209.45,468.57 209.93,469.46 210.4,470.06 210.88,470.47 211.35,470.77 211.82,470.99 212.3,471.16 212.78,471.29 213.25,471.4 213.72,471.48 214.2,471.55 214.68,471.6 215.15,471.65 215.62,471.69 216.1,471.72 216.57,471.75 217.05,471.78 217.53,471.8 218,471.82" fill="none" stroke="#35386e" stroke-width="0.6"/>
<text x="198.2" y="476.6" font-size="2.2" text-anchor="start" fill="#555">-3.0</text>
<text x="208.5" y="476.6" font-size="2.2" text-anchor="middle" fill="#555">Center</text>
<text x="218.8" y="476.6" font-size="2.2" text-anchor="end" fill="#555">3.0Kb</text>
<text x="198.2" y="619.6" font-size="2.2" text-anchor="start" fill="#555">-3.0</text>
<text x="208.5" y="619.6" font-size="2.2" text-anchor="middle" fill="#555">Center</text>
<text x="218.8" y="619.6" font-size="2.2" text-anchor="end" fill="#555">3.0Kb</text>
<clipPath id="cE8"><rect x="198" y="477.9" width="21" height="138.4"/></clipPath>
<g clip-path="url(#cE8)">
<rect x="198" y="477.9" width="21" height="138.4" fill="#f8f8fc"/>
<rect x="198" y="477.9" width="21" height="138.4" filter="url(#nz)" opacity="0.32" mask="url(#mE)"/>
<polygon points="199,473.9 200.2,484.07 201.3,494.24 202.3,504.41 203.21,514.59 204.02,524.76 204.74,534.93 205.36,545.1 205.9,555.27 206.34,565.44 206.7,575.61 206.97,585.79 207.16,595.96 207.27,606.13 207.3,616.3 209.7,616.3 209.73,606.13 209.84,595.96 210.03,585.79 210.3,575.61 210.66,565.44 211.1,555.27 211.64,545.1 212.26,534.93 212.98,524.76 213.79,514.59 214.7,504.41 215.7,494.24 216.8,484.07 218,473.9" fill="url(#gH2)" opacity="0.52" filter="url(#bl1)"/>
<polygon points="203.9,473.9 204.52,484.07 205.08,494.24 205.57,504.41 206.01,514.59 206.38,524.76 206.71,534.93 206.98,545.1 207.2,555.27 207.38,565.44 207.51,575.61 207.61,585.79 207.66,595.96 207.69,606.13 207.7,616.3 209.3,616.3 209.31,606.13 209.34,595.96 209.39,585.79 209.49,575.61 209.62,565.44 209.8,555.27 210.02,545.1 210.29,534.93 210.62,524.76 210.99,514.59 211.43,504.41 211.92,494.24 212.48,484.07 213.1,473.9" fill="url(#gM2)" opacity="0.54" filter="url(#bl2)"/>
<polygon points="206.8,473.9 206.97,484.07 207.12,494.24 207.26,504.41 207.39,514.59 207.5,524.76 207.61,534.93 207.7,545.1 207.78,555.27 207.85,565.44 207.9,575.61 207.94,585.79 207.98,595.96 207.99,606.13 208,616.3 209,616.3 209.01,606.13 209.02,595.96 209.06,585.79 209.1,575.61 209.15,565.44 209.22,555.27 209.3,545.1 209.39,534.93 209.5,524.76 209.61,514.59 209.74,504.41 209.88,494.24 210.03,484.07 210.2,473.9" fill="url(#gC2)" opacity="0.68" filter="url(#bl3)"/>
<rect x="198" y="477.9" width="21" height="138.4" filter="url(#nw)" opacity="0.55"/>
</g>
<rect x="198" y="477.9" width="21" height="138.4" fill="none" stroke="#a0a0a0" stroke-width="0.5"/>
<text x="217.5" y="457.2" font-size="1.9" text-anchor="end" fill="#555">= 1.0Kbps</text>
<defs><linearGradient id="cbE" x1="0" y1="0" x2="0" y2="1"><stop offset="0" stop-color="#2b3990"/><stop offset="0.3" stop-color="#4a56a6"/><stop offset="0.6" stop-color="#8f97c9"/><stop offset="0.85" stop-color="#d5d8ea"/><stop offset="1" stop-color="#ececec"/></linearGradient></defs>
<rect x="220.7" y="477.5" width="2.6" height="138.4" fill="url(#cbE)"/>
<text x="227.4" y="616.6" font-size="9.6" text-anchor="middle" fill="#231f20">0</text>
<text x="227.4" y="599.35" font-size="9.6" text-anchor="middle" fill="#231f20">1</text>
<text x="227.4" y="582.1" font-size="9.6" text-anchor="middle" fill="#231f20">2</text>
<text x="227.4" y="564.85" font-size="9.6" text-anchor="middle" fill="#231f20">3</text>
<text x="227.4" y="547.6" font-size="9.6" text-anchor="middle" fill="#231f20">4</text>
<text x="227.4" y="530.35" font-size="9.6" text-anchor="middle" fill="#231f20">5</text>
<text x="227.4" y="513.1" font-size="9.6" text-anchor="middle" fill="#231f20">6</text>
<text x="227.4" y="495.85" font-size="9.6" text-anchor="middle" fill="#231f20">7</text>
<text x="117" y="632" font-size="9.1" text-anchor="middle" fill="#231f20">Peak center (± 3 kb)</text>
<text x="10" y="532" font-size="9.1" text-anchor="middle" fill="#231f20" transform="rotate(-90 10 532)"><tspan font-style="italic">Foxe1, Nkx2-1, Pax8</tspan> binding sites</text>
<text x="251" y="430.8" font-size="11" text-anchor="start" fill="#111" font-weight="bold">F</text>
<g shape-rendering="crispEdges" stroke="#fff" stroke-width="0.3">
<rect x="289.5" y="458.3" width="3.45" height="3.19" fill="#fa5c64"/>
<rect x="292.95" y="458.3" width="3.45" height="3.19" fill="#fa525b"/>
<rect x="296.4" y="458.3" width="3.45" height="3.19" fill="#fa7177"/>
<rect x="299.85" y="458.3" width="3.45" height="3.19" fill="#fad1d3"/>
<rect x="303.3" y="458.3" width="3.45" height="3.19" fill="#e4e6f5"/>
<rect x="306.75" y="458.3" width="3.45" height="3.19" fill="#2d3cb4"/>
<rect x="310.2" y="458.3" width="3.45" height="3.19" fill="#a3aade"/>
<rect x="313.65" y="458.3" width="3.45" height="3.19" fill="#8991d4"/>
<rect x="317.1" y="458.3" width="3.45" height="3.19" fill="#cbcfec"/>
<rect x="289.5" y="461.49" width="3.45" height="3.19" fill="#fa565e"/>
<rect x="292.95" y="461.49" width="3.45" height="3.19" fill="#fa545c"/>
<rect x="296.4" y="461.49" width="3.45" height="3.19" fill="#fa6e75"/>
<rect x="299.85" y="461.49" width="3.45" height="3.19" fill="#fadbdd"/>
<rect x="303.3" y="461.49" width="3.45" height="3.19" fill="#fadadc"/>
<rect x="306.75" y="461.49" width="3.45" height="3.19" fill="#3846b8"/>
<rect x="310.2" y="461.49" width="3.45" height="3.19" fill="#8d95d6"/>
<rect x="313.65" y="461.49" width="3.45" height="3.19" fill="#4b58be"/>
<rect x="317.1" y="461.49" width="3.45" height="3.19" fill="#acb2e1"/>
<rect x="289.5" y="464.68" width="3.45" height="3.19" fill="#fa6067"/>
<rect x="292.95" y="464.68" width="3.45" height="3.19" fill="#fa626a"/>
<rect x="296.4" y="464.68" width="3.45" height="3.19" fill="#f34851"/>
<rect x="299.85" y="464.68" width="3.45" height="3.19" fill="#fa989d"/>
<rect x="303.3" y="464.68" width="3.45" height="3.19" fill="#e0e2f4"/>
<rect x="306.75" y="464.68" width="3.45" height="3.19" fill="#5763c3"/>
<rect x="310.2" y="464.68" width="3.45" height="3.19" fill="#d8dbf1"/>
<rect x="313.65" y="464.68" width="3.45" height="3.19" fill="#cbcfec"/>
<rect x="317.1" y="464.68" width="3.45" height="3.19" fill="#989fda"/>
<rect x="289.5" y="467.87" width="3.45" height="3.19" fill="#fa7279"/>
<rect x="292.95" y="467.87" width="3.45" height="3.19" fill="#dc303a"/>
<rect x="296.4" y="467.87" width="3.45" height="3.19" fill="#ee434c"/>
<rect x="299.85" y="467.87" width="3.45" height="3.19" fill="#fad0d2"/>
<rect x="303.3" y="467.87" width="3.45" height="3.19" fill="#fafafd"/>
<rect x="306.75" y="467.87" width="3.45" height="3.19" fill="#2d3cb4"/>
<rect x="310.2" y="467.87" width="3.45" height="3.19" fill="#5662c2"/>
<rect x="313.65" y="467.87" width="3.45" height="3.19" fill="#818ad2"/>
<rect x="317.1" y="467.87" width="3.45" height="3.19" fill="#e9ebf7"/>
<rect x="289.5" y="471.06" width="3.45" height="3.19" fill="#fa6e75"/>
<rect x="292.95" y="471.06" width="3.45" height="3.19" fill="#fa7077"/>
<rect x="296.4" y="471.06" width="3.45" height="3.19" fill="#e53942"/>
<rect x="299.85" y="471.06" width="3.45" height="3.19" fill="#faf5f6"/>
<rect x="303.3" y="471.06" width="3.45" height="3.19" fill="#faf8f8"/>
<rect x="306.75" y="471.06" width="3.45" height="3.19" fill="#3745b7"/>
<rect x="310.2" y="471.06" width="3.45" height="3.19" fill="#4956be"/>
<rect x="313.65" y="471.06" width="3.45" height="3.19" fill="#b0b6e2"/>
<rect x="317.1" y="471.06" width="3.45" height="3.19" fill="#e9ebf7"/>
<rect x="289.5" y="474.25" width="3.45" height="3.19" fill="#f24750"/>
<rect x="292.95" y="474.25" width="3.45" height="3.19" fill="#dc303a"/>
<rect x="296.4" y="474.25" width="3.45" height="3.19" fill="#fa7d83"/>
<rect x="299.85" y="474.25" width="3.45" height="3.19" fill="#fbfcfd"/>
<rect x="303.3" y="474.25" width="3.45" height="3.19" fill="#d9dcf1"/>
<rect x="306.75" y="474.25" width="3.45" height="3.19" fill="#4a57be"/>
<rect x="310.2" y="474.25" width="3.45" height="3.19" fill="#7d86d0"/>
<rect x="313.65" y="474.25" width="3.45" height="3.19" fill="#2d3cb4"/>
<rect x="317.1" y="474.25" width="3.45" height="3.19" fill="#fad2d4"/>
<rect x="289.5" y="477.44" width="3.45" height="3.19" fill="#fa6a72"/>
<rect x="292.95" y="477.44" width="3.45" height="3.19" fill="#dc303a"/>
<rect x="296.4" y="477.44" width="3.45" height="3.19" fill="#ea3f48"/>
<rect x="299.85" y="477.44" width="3.45" height="3.19" fill="#fad3d6"/>
<rect x="303.3" y="477.44" width="3.45" height="3.19" fill="#f8f8fc"/>
<rect x="306.75" y="477.44" width="3.45" height="3.19" fill="#303fb5"/>
<rect x="310.2" y="477.44" width="3.45" height="3.19" fill="#eaecf7"/>
<rect x="313.65" y="477.44" width="3.45" height="3.19" fill="#c1c5e8"/>
<rect x="317.1" y="477.44" width="3.45" height="3.19" fill="#989fda"/>
<rect x="289.5" y="480.63" width="3.45" height="3.19" fill="#fa686f"/>
<rect x="292.95" y="480.63" width="3.45" height="3.19" fill="#fa7e84"/>
<rect x="296.4" y="480.63" width="3.45" height="3.19" fill="#fa6d74"/>
<rect x="299.85" y="480.63" width="3.45" height="3.19" fill="#fafcfc"/>
<rect x="303.3" y="480.63" width="3.45" height="3.19" fill="#d7daf0"/>
<rect x="306.75" y="480.63" width="3.45" height="3.19" fill="#6b76ca"/>
<rect x="310.2" y="480.63" width="3.45" height="3.19" fill="#cbcfec"/>
<rect x="313.65" y="480.63" width="3.45" height="3.19" fill="#4855bd"/>
<rect x="317.1" y="480.63" width="3.45" height="3.19" fill="#c4c8e9"/>
<rect x="289.5" y="483.82" width="3.45" height="3.19" fill="#fa666d"/>
<rect x="292.95" y="483.82" width="3.45" height="3.19" fill="#f0454e"/>
<rect x="296.4" y="483.82" width="3.45" height="3.19" fill="#f84d56"/>
<rect x="299.85" y="483.82" width="3.45" height="3.19" fill="#faefef"/>
<rect x="303.3" y="483.82" width="3.45" height="3.19" fill="#f4f5fb"/>
<rect x="306.75" y="483.82" width="3.45" height="3.19" fill="#515dc1"/>
<rect x="310.2" y="483.82" width="3.45" height="3.19" fill="#c3c7e9"/>
<rect x="313.65" y="483.82" width="3.45" height="3.19" fill="#c1c5e8"/>
<rect x="317.1" y="483.82" width="3.45" height="3.19" fill="#e0e2f4"/>
<rect x="289.5" y="487.01" width="3.45" height="3.19" fill="#fa7077"/>
<rect x="292.95" y="487.01" width="3.45" height="3.19" fill="#fa868c"/>
<rect x="296.4" y="487.01" width="3.45" height="3.19" fill="#dd313b"/>
<rect x="299.85" y="487.01" width="3.45" height="3.19" fill="#a1a8dd"/>
<rect x="303.3" y="487.01" width="3.45" height="3.19" fill="#d5d8f0"/>
<rect x="306.75" y="487.01" width="3.45" height="3.19" fill="#4f5bc0"/>
<rect x="310.2" y="487.01" width="3.45" height="3.19" fill="#9198d7"/>
<rect x="313.65" y="487.01" width="3.45" height="3.19" fill="#8891d4"/>
<rect x="317.1" y="487.01" width="3.45" height="3.19" fill="#969dd9"/>
<rect x="289.5" y="490.2" width="3.45" height="3.19" fill="#fa636b"/>
<rect x="292.95" y="490.2" width="3.45" height="3.19" fill="#ea3f48"/>
<rect x="296.4" y="490.2" width="3.45" height="3.19" fill="#fa6c73"/>
<rect x="299.85" y="490.2" width="3.45" height="3.19" fill="#faebec"/>
<rect x="303.3" y="490.2" width="3.45" height="3.19" fill="#dee0f3"/>
<rect x="306.75" y="490.2" width="3.45" height="3.19" fill="#2d3cb4"/>
<rect x="310.2" y="490.2" width="3.45" height="3.19" fill="#dcdef2"/>
<rect x="313.65" y="490.2" width="3.45" height="3.19" fill="#8790d4"/>
<rect x="317.1" y="490.2" width="3.45" height="3.19" fill="#c1c5e8"/>
<rect x="289.5" y="493.39" width="3.45" height="3.19" fill="#fa5961"/>
<rect x="292.95" y="493.39" width="3.45" height="3.19" fill="#fa5e65"/>
<rect x="296.4" y="493.39" width="3.45" height="3.19" fill="#fa6e75"/>
<rect x="299.85" y="493.39" width="3.45" height="3.19" fill="#fefefe"/>
<rect x="303.3" y="493.39" width="3.45" height="3.19" fill="#fbfbfd"/>
<rect x="306.75" y="493.39" width="3.45" height="3.19" fill="#8c94d5"/>
<rect x="310.2" y="493.39" width="3.45" height="3.19" fill="#7a84cf"/>
<rect x="313.65" y="493.39" width="3.45" height="3.19" fill="#ced2ed"/>
<rect x="317.1" y="493.39" width="3.45" height="3.19" fill="#b9bee6"/>
<rect x="289.5" y="496.58" width="3.45" height="3.19" fill="#f44851"/>
<rect x="292.95" y="496.58" width="3.45" height="3.19" fill="#ec414a"/>
<rect x="296.4" y="496.58" width="3.45" height="3.19" fill="#e93d46"/>
<rect x="299.85" y="496.58" width="3.45" height="3.19" fill="#faf5f5"/>
<rect x="303.3" y="496.58" width="3.45" height="3.19" fill="#ecedf8"/>
<rect x="306.75" y="496.58" width="3.45" height="3.19" fill="#626dc7"/>
<rect x="310.2" y="496.58" width="3.45" height="3.19" fill="#868fd3"/>
<rect x="313.65" y="496.58" width="3.45" height="3.19" fill="#8d96d6"/>
<rect x="317.1" y="496.58" width="3.45" height="3.19" fill="#cccfec"/>
<rect x="289.5" y="499.77" width="3.45" height="3.19" fill="#fa8389"/>
<rect x="292.95" y="499.77" width="3.45" height="3.19" fill="#fa6c73"/>
<rect x="296.4" y="499.77" width="3.45" height="3.19" fill="#faa5a9"/>
<rect x="299.85" y="499.77" width="3.45" height="3.19" fill="#fad4d6"/>
<rect x="303.3" y="499.77" width="3.45" height="3.19" fill="#fae8e9"/>
<rect x="306.75" y="499.77" width="3.45" height="3.19" fill="#2d3cb4"/>
<rect x="310.2" y="499.77" width="3.45" height="3.19" fill="#525ec1"/>
<rect x="313.65" y="499.77" width="3.45" height="3.19" fill="#dfe1f3"/>
<rect x="317.1" y="499.77" width="3.45" height="3.19" fill="#b6bbe5"/>
<rect x="289.5" y="502.96" width="3.45" height="3.19" fill="#fa757c"/>
<rect x="292.95" y="502.96" width="3.45" height="3.19" fill="#dc303a"/>
<rect x="296.4" y="502.96" width="3.45" height="3.19" fill="#fa7f85"/>
<rect x="299.85" y="502.96" width="3.45" height="3.19" fill="#ebecf7"/>
<rect x="303.3" y="502.96" width="3.45" height="3.19" fill="#d4d7ef"/>
<rect x="306.75" y="502.96" width="3.45" height="3.19" fill="#4a57be"/>
<rect x="310.2" y="502.96" width="3.45" height="3.19" fill="#9ca3db"/>
<rect x="313.65" y="502.96" width="3.45" height="3.19" fill="#c1c5e8"/>
<rect x="317.1" y="502.96" width="3.45" height="3.19" fill="#bbc0e6"/>
<rect x="289.5" y="506.15" width="3.45" height="3.19" fill="#fa6269"/>
<rect x="292.95" y="506.15" width="3.45" height="3.19" fill="#dd323b"/>
<rect x="296.4" y="506.15" width="3.45" height="3.19" fill="#fa5d65"/>
<rect x="299.85" y="506.15" width="3.45" height="3.19" fill="#fae2e3"/>
<rect x="303.3" y="506.15" width="3.45" height="3.19" fill="#fababd"/>
<rect x="306.75" y="506.15" width="3.45" height="3.19" fill="#535fc1"/>
<rect x="310.2" y="506.15" width="3.45" height="3.19" fill="#8991d5"/>
<rect x="313.65" y="506.15" width="3.45" height="3.19" fill="#9ba2db"/>
<rect x="317.1" y="506.15" width="3.45" height="3.19" fill="#faebeb"/>
<rect x="289.5" y="509.34" width="3.45" height="3.19" fill="#e1353f"/>
<rect x="292.95" y="509.34" width="3.45" height="3.19" fill="#dc303a"/>
<rect x="296.4" y="509.34" width="3.45" height="3.19" fill="#fa898f"/>
<rect x="299.85" y="509.34" width="3.45" height="3.19" fill="#fbfbfd"/>
<rect x="303.3" y="509.34" width="3.45" height="3.19" fill="#fafafd"/>
<rect x="306.75" y="509.34" width="3.45" height="3.19" fill="#2d3cb4"/>
<rect x="310.2" y="509.34" width="3.45" height="3.19" fill="#9ca3db"/>
<rect x="313.65" y="509.34" width="3.45" height="3.19" fill="#aab0e0"/>
<rect x="317.1" y="509.34" width="3.45" height="3.19" fill="#acb2e1"/>
<rect x="289.5" y="512.53" width="3.45" height="3.19" fill="#fa4f57"/>
<rect x="292.95" y="512.53" width="3.45" height="3.19" fill="#dc303a"/>
<rect x="296.4" y="512.53" width="3.45" height="3.19" fill="#fa6168"/>
<rect x="299.85" y="512.53" width="3.45" height="3.19" fill="#faf7f7"/>
<rect x="303.3" y="512.53" width="3.45" height="3.19" fill="#dee0f3"/>
<rect x="306.75" y="512.53" width="3.45" height="3.19" fill="#4552bc"/>
<rect x="310.2" y="512.53" width="3.45" height="3.19" fill="#4b58be"/>
<rect x="313.65" y="512.53" width="3.45" height="3.19" fill="#aeb4e2"/>
<rect x="317.1" y="512.53" width="3.45" height="3.19" fill="#e6e8f6"/>
<rect x="289.5" y="515.72" width="3.45" height="3.19" fill="#fa6970"/>
<rect x="292.95" y="515.72" width="3.45" height="3.19" fill="#f1464f"/>
<rect x="296.4" y="515.72" width="3.45" height="3.19" fill="#fa6e75"/>
<rect x="299.85" y="515.72" width="3.45" height="3.19" fill="#fa9095"/>
<rect x="303.3" y="515.72" width="3.45" height="3.19" fill="#9ba2db"/>
<rect x="306.75" y="515.72" width="3.45" height="3.19" fill="#606cc6"/>
<rect x="310.2" y="515.72" width="3.45" height="3.19" fill="#8991d4"/>
<rect x="313.65" y="515.72" width="3.45" height="3.19" fill="#9199d7"/>
<rect x="317.1" y="515.72" width="3.45" height="3.19" fill="#fad9db"/>
<rect x="289.5" y="518.91" width="3.45" height="3.19" fill="#fa5961"/>
<rect x="292.95" y="518.91" width="3.45" height="3.19" fill="#ed414b"/>
<rect x="296.4" y="518.91" width="3.45" height="3.19" fill="#fa535b"/>
<rect x="299.85" y="518.91" width="3.45" height="3.19" fill="#fae4e6"/>
<rect x="303.3" y="518.91" width="3.45" height="3.19" fill="#faeaeb"/>
<rect x="306.75" y="518.91" width="3.45" height="3.19" fill="#6772c8"/>
<rect x="310.2" y="518.91" width="3.45" height="3.19" fill="#a4abde"/>
<rect x="313.65" y="518.91" width="3.45" height="3.19" fill="#bbc0e6"/>
<rect x="317.1" y="518.91" width="3.45" height="3.19" fill="#d1d5ee"/>
<rect x="289.5" y="522.1" width="3.45" height="3.19" fill="#fa8c91"/>
<rect x="292.95" y="522.1" width="3.45" height="3.19" fill="#e0343e"/>
<rect x="296.4" y="522.1" width="3.45" height="3.19" fill="#f64b54"/>
<rect x="299.85" y="522.1" width="3.45" height="3.19" fill="#faeff0"/>
<rect x="303.3" y="522.1" width="3.45" height="3.19" fill="#e5e7f5"/>
<rect x="306.75" y="522.1" width="3.45" height="3.19" fill="#3b49b9"/>
<rect x="310.2" y="522.1" width="3.45" height="3.19" fill="#767fce"/>
<rect x="313.65" y="522.1" width="3.45" height="3.19" fill="#faeeef"/>
<rect x="317.1" y="522.1" width="3.45" height="3.19" fill="#a6addf"/>
<rect x="289.5" y="525.29" width="3.45" height="3.19" fill="#fa666e"/>
<rect x="292.95" y="525.29" width="3.45" height="3.19" fill="#e23640"/>
<rect x="296.4" y="525.29" width="3.45" height="3.19" fill="#fa646c"/>
<rect x="299.85" y="525.29" width="3.45" height="3.19" fill="#fac1c4"/>
<rect x="303.3" y="525.29" width="3.45" height="3.19" fill="#d0d4ee"/>
<rect x="306.75" y="525.29" width="3.45" height="3.19" fill="#6d77ca"/>
<rect x="310.2" y="525.29" width="3.45" height="3.19" fill="#a7addf"/>
<rect x="313.65" y="525.29" width="3.45" height="3.19" fill="#a0a7dd"/>
<rect x="317.1" y="525.29" width="3.45" height="3.19" fill="#c8cceb"/>
<rect x="289.5" y="528.48" width="3.45" height="3.19" fill="#f54a53"/>
<rect x="292.95" y="528.48" width="3.45" height="3.19" fill="#fa6068"/>
<rect x="296.4" y="528.48" width="3.45" height="3.19" fill="#f84d56"/>
<rect x="299.85" y="528.48" width="3.45" height="3.19" fill="#fcfcfe"/>
<rect x="303.3" y="528.48" width="3.45" height="3.19" fill="#dfe1f3"/>
<rect x="306.75" y="528.48" width="3.45" height="3.19" fill="#4855bd"/>
<rect x="310.2" y="528.48" width="3.45" height="3.19" fill="#cbcfec"/>
<rect x="313.65" y="528.48" width="3.45" height="3.19" fill="#b8bde5"/>
<rect x="317.1" y="528.48" width="3.45" height="3.19" fill="#b3b8e4"/>
<rect x="289.5" y="531.67" width="3.45" height="3.19" fill="#fa6168"/>
<rect x="292.95" y="531.67" width="3.45" height="3.19" fill="#fa5860"/>
<rect x="296.4" y="531.67" width="3.45" height="3.19" fill="#fa8288"/>
<rect x="299.85" y="531.67" width="3.45" height="3.19" fill="#faf0f1"/>
<rect x="303.3" y="531.67" width="3.45" height="3.19" fill="#fafdfd"/>
<rect x="306.75" y="531.67" width="3.45" height="3.19" fill="#3846b8"/>
<rect x="310.2" y="531.67" width="3.45" height="3.19" fill="#717bcc"/>
<rect x="313.65" y="531.67" width="3.45" height="3.19" fill="#fcfcfd"/>
<rect x="317.1" y="531.67" width="3.45" height="3.19" fill="#aab0e0"/>
<rect x="289.5" y="534.86" width="3.45" height="3.19" fill="#fa6e75"/>
<rect x="292.95" y="534.86" width="3.45" height="3.19" fill="#fa636a"/>
<rect x="296.4" y="534.86" width="3.45" height="3.19" fill="#fa535b"/>
<rect x="299.85" y="534.86" width="3.45" height="3.19" fill="#fad0d2"/>
<rect x="303.3" y="534.86" width="3.45" height="3.19" fill="#d3d6ef"/>
<rect x="306.75" y="534.86" width="3.45" height="3.19" fill="#4b58bf"/>
<rect x="310.2" y="534.86" width="3.45" height="3.19" fill="#8c94d6"/>
<rect x="313.65" y="534.86" width="3.45" height="3.19" fill="#a4abde"/>
<rect x="317.1" y="534.86" width="3.45" height="3.19" fill="#d6d9f0"/>
<rect x="289.5" y="538.05" width="3.45" height="3.19" fill="#f1464f"/>
<rect x="292.95" y="538.05" width="3.45" height="3.19" fill="#fa5860"/>
<rect x="296.4" y="538.05" width="3.45" height="3.19" fill="#fa9196"/>
<rect x="299.85" y="538.05" width="3.45" height="3.19" fill="#fab2b6"/>
<rect x="303.3" y="538.05" width="3.45" height="3.19" fill="#e5e6f5"/>
<rect x="306.75" y="538.05" width="3.45" height="3.19" fill="#828bd2"/>
<rect x="310.2" y="538.05" width="3.45" height="3.19" fill="#99a1da"/>
<rect x="313.65" y="538.05" width="3.45" height="3.19" fill="#8089d1"/>
<rect x="317.1" y="538.05" width="3.45" height="3.19" fill="#faeeef"/>
<rect x="289.5" y="541.24" width="3.45" height="3.19" fill="#fa5159"/>
<rect x="292.95" y="541.24" width="3.45" height="3.19" fill="#f34750"/>
<rect x="296.4" y="541.24" width="3.45" height="3.19" fill="#fa8288"/>
<rect x="299.85" y="541.24" width="3.45" height="3.19" fill="#faf9f9"/>
<rect x="303.3" y="541.24" width="3.45" height="3.19" fill="#b5bae4"/>
<rect x="306.75" y="541.24" width="3.45" height="3.19" fill="#2f3eb5"/>
<rect x="310.2" y="541.24" width="3.45" height="3.19" fill="#a7addf"/>
<rect x="313.65" y="541.24" width="3.45" height="3.19" fill="#d7daf0"/>
<rect x="317.1" y="541.24" width="3.45" height="3.19" fill="#d0d4ee"/>
<rect x="289.5" y="544.43" width="3.45" height="3.19" fill="#ea3f48"/>
<rect x="292.95" y="544.43" width="3.45" height="3.19" fill="#fa6b72"/>
<rect x="296.4" y="544.43" width="3.45" height="3.19" fill="#fa9399"/>
<rect x="299.85" y="544.43" width="3.45" height="3.19" fill="#facacd"/>
<rect x="303.3" y="544.43" width="3.45" height="3.19" fill="#f4f5fb"/>
<rect x="306.75" y="544.43" width="3.45" height="3.19" fill="#848dd3"/>
<rect x="310.2" y="544.43" width="3.45" height="3.19" fill="#ebedf8"/>
<rect x="313.65" y="544.43" width="3.45" height="3.19" fill="#b1b7e3"/>
<rect x="317.1" y="544.43" width="3.45" height="3.19" fill="#fbfbfd"/>
<rect x="289.5" y="547.62" width="3.45" height="3.19" fill="#fa5058"/>
<rect x="292.95" y="547.62" width="3.45" height="3.19" fill="#f94e57"/>
<rect x="296.4" y="547.62" width="3.45" height="3.19" fill="#ee424b"/>
<rect x="299.85" y="547.62" width="3.45" height="3.19" fill="#d2d6ef"/>
<rect x="303.3" y="547.62" width="3.45" height="3.19" fill="#9da4dc"/>
<rect x="306.75" y="547.62" width="3.45" height="3.19" fill="#3c4ab9"/>
<rect x="310.2" y="547.62" width="3.45" height="3.19" fill="#818ad2"/>
<rect x="313.65" y="547.62" width="3.45" height="3.19" fill="#8890d4"/>
<rect x="317.1" y="547.62" width="3.45" height="3.19" fill="#eeeff8"/>
<rect x="289.5" y="550.81" width="3.45" height="3.19" fill="#f54a53"/>
<rect x="292.95" y="550.81" width="3.45" height="3.19" fill="#fa666d"/>
<rect x="296.4" y="550.81" width="3.45" height="3.19" fill="#fa6970"/>
<rect x="299.85" y="550.81" width="3.45" height="3.19" fill="#fa7278"/>
<rect x="303.3" y="550.81" width="3.45" height="3.19" fill="#fabbbe"/>
<rect x="306.75" y="550.81" width="3.45" height="3.19" fill="#949bd8"/>
<rect x="310.2" y="550.81" width="3.45" height="3.19" fill="#828bd2"/>
<rect x="313.65" y="550.81" width="3.45" height="3.19" fill="#7b85d0"/>
<rect x="317.1" y="550.81" width="3.45" height="3.19" fill="#cbcfec"/>
<rect x="289.5" y="554" width="3.45" height="3.19" fill="#dc303a"/>
<rect x="292.95" y="554" width="3.45" height="3.19" fill="#fa797f"/>
<rect x="296.4" y="554" width="3.45" height="3.19" fill="#fa858b"/>
<rect x="299.85" y="554" width="3.45" height="3.19" fill="#fae5e6"/>
<rect x="303.3" y="554" width="3.45" height="3.19" fill="#eeeff9"/>
<rect x="306.75" y="554" width="3.45" height="3.19" fill="#3c4ab9"/>
<rect x="310.2" y="554" width="3.45" height="3.19" fill="#facdd0"/>
<rect x="313.65" y="554" width="3.45" height="3.19" fill="#5e6ac5"/>
<rect x="317.1" y="554" width="3.45" height="3.19" fill="#fababd"/>
<rect x="289.5" y="557.19" width="3.45" height="3.19" fill="#fa9ca0"/>
<rect x="292.95" y="557.19" width="3.45" height="3.19" fill="#fa6970"/>
<rect x="296.4" y="557.19" width="3.45" height="3.19" fill="#faa3a8"/>
<rect x="299.85" y="557.19" width="3.45" height="3.19" fill="#fa737a"/>
<rect x="303.3" y="557.19" width="3.45" height="3.19" fill="#8891d4"/>
<rect x="306.75" y="557.19" width="3.45" height="3.19" fill="#7c86d0"/>
<rect x="310.2" y="557.19" width="3.45" height="3.19" fill="#fac0c3"/>
<rect x="313.65" y="557.19" width="3.45" height="3.19" fill="#5864c3"/>
<rect x="317.1" y="557.19" width="3.45" height="3.19" fill="#f9fafd"/>
<rect x="289.5" y="560.38" width="3.45" height="3.19" fill="#f44951"/>
<rect x="292.95" y="560.38" width="3.45" height="3.19" fill="#fa6a71"/>
<rect x="296.4" y="560.38" width="3.45" height="3.19" fill="#fababe"/>
<rect x="299.85" y="560.38" width="3.45" height="3.19" fill="#fa565e"/>
<rect x="303.3" y="560.38" width="3.45" height="3.19" fill="#faced0"/>
<rect x="306.75" y="560.38" width="3.45" height="3.19" fill="#636ec7"/>
<rect x="310.2" y="560.38" width="3.45" height="3.19" fill="#858ed3"/>
<rect x="313.65" y="560.38" width="3.45" height="3.19" fill="#5c67c4"/>
<rect x="317.1" y="560.38" width="3.45" height="3.19" fill="#fab7bb"/>
<rect x="289.5" y="563.57" width="3.45" height="3.19" fill="#fa6970"/>
<rect x="292.95" y="563.57" width="3.45" height="3.19" fill="#fa575f"/>
<rect x="296.4" y="563.57" width="3.45" height="3.19" fill="#faa7ab"/>
<rect x="299.85" y="563.57" width="3.45" height="3.19" fill="#6772c8"/>
<rect x="303.3" y="563.57" width="3.45" height="3.19" fill="#8b93d5"/>
<rect x="306.75" y="563.57" width="3.45" height="3.19" fill="#b1b6e3"/>
<rect x="310.2" y="563.57" width="3.45" height="3.19" fill="#cdd1ed"/>
<rect x="313.65" y="563.57" width="3.45" height="3.19" fill="#4a57be"/>
<rect x="317.1" y="563.57" width="3.45" height="3.19" fill="#faa7ab"/>
<rect x="289.5" y="566.76" width="3.45" height="3.19" fill="#fa4f58"/>
<rect x="292.95" y="566.76" width="3.45" height="3.19" fill="#fa7077"/>
<rect x="296.4" y="566.76" width="3.45" height="3.19" fill="#fa737a"/>
<rect x="299.85" y="566.76" width="3.45" height="3.19" fill="#faf6f6"/>
<rect x="303.3" y="566.76" width="3.45" height="3.19" fill="#fabcbf"/>
<rect x="306.75" y="566.76" width="3.45" height="3.19" fill="#7b84d0"/>
<rect x="310.2" y="566.76" width="3.45" height="3.19" fill="#2d3cb4"/>
<rect x="313.65" y="566.76" width="3.45" height="3.19" fill="#8c94d6"/>
<rect x="317.1" y="566.76" width="3.45" height="3.19" fill="#a4abde"/>
<rect x="289.5" y="569.95" width="3.45" height="3.19" fill="#fabdc0"/>
<rect x="292.95" y="569.95" width="3.45" height="3.19" fill="#fac8cb"/>
<rect x="296.4" y="569.95" width="3.45" height="3.19" fill="#fa5b63"/>
<rect x="299.85" y="569.95" width="3.45" height="3.19" fill="#fa7e84"/>
<rect x="303.3" y="569.95" width="3.45" height="3.19" fill="#c2c6e9"/>
<rect x="306.75" y="569.95" width="3.45" height="3.19" fill="#5d69c5"/>
<rect x="310.2" y="569.95" width="3.45" height="3.19" fill="#949bd8"/>
<rect x="313.65" y="569.95" width="3.45" height="3.19" fill="#f4f4fb"/>
<rect x="317.1" y="569.95" width="3.45" height="3.19" fill="#b5bae4"/>
<rect x="289.5" y="573.14" width="3.45" height="3.19" fill="#fa7f85"/>
<rect x="292.95" y="573.14" width="3.45" height="3.19" fill="#fa5a62"/>
<rect x="296.4" y="573.14" width="3.45" height="3.19" fill="#fa6971"/>
<rect x="299.85" y="573.14" width="3.45" height="3.19" fill="#faa1a6"/>
<rect x="303.3" y="573.14" width="3.45" height="3.19" fill="#faa1a5"/>
<rect x="306.75" y="573.14" width="3.45" height="3.19" fill="#4e5bc0"/>
<rect x="310.2" y="573.14" width="3.45" height="3.19" fill="#faf3f3"/>
<rect x="313.65" y="573.14" width="3.45" height="3.19" fill="#5b67c4"/>
<rect x="317.1" y="573.14" width="3.45" height="3.19" fill="#cccfec"/>
<rect x="289.5" y="576.33" width="3.45" height="3.19" fill="#de323c"/>
<rect x="292.95" y="576.33" width="3.45" height="3.19" fill="#fa787e"/>
<rect x="296.4" y="576.33" width="3.45" height="3.19" fill="#fa5b63"/>
<rect x="299.85" y="576.33" width="3.45" height="3.19" fill="#c4c8e9"/>
<rect x="303.3" y="576.33" width="3.45" height="3.19" fill="#bfc3e8"/>
<rect x="306.75" y="576.33" width="3.45" height="3.19" fill="#3442b6"/>
<rect x="310.2" y="576.33" width="3.45" height="3.19" fill="#c7cbeb"/>
<rect x="313.65" y="576.33" width="3.45" height="3.19" fill="#b6bbe5"/>
<rect x="317.1" y="576.33" width="3.45" height="3.19" fill="#fac1c4"/>
<rect x="289.5" y="579.52" width="3.45" height="3.19" fill="#e43942"/>
<rect x="292.95" y="579.52" width="3.45" height="3.19" fill="#fa555d"/>
<rect x="296.4" y="579.52" width="3.45" height="3.19" fill="#faaaae"/>
<rect x="299.85" y="579.52" width="3.45" height="3.19" fill="#f2f3fa"/>
<rect x="303.3" y="579.52" width="3.45" height="3.19" fill="#fad5d7"/>
<rect x="306.75" y="579.52" width="3.45" height="3.19" fill="#2d3cb4"/>
<rect x="310.2" y="579.52" width="3.45" height="3.19" fill="#9ca3db"/>
<rect x="313.65" y="579.52" width="3.45" height="3.19" fill="#6974c9"/>
<rect x="317.1" y="579.52" width="3.45" height="3.19" fill="#eff0f9"/>
<rect x="289.5" y="582.71" width="3.45" height="3.19" fill="#fa5b63"/>
<rect x="292.95" y="582.71" width="3.45" height="3.19" fill="#faa3a8"/>
<rect x="296.4" y="582.71" width="3.45" height="3.19" fill="#fac2c5"/>
<rect x="299.85" y="582.71" width="3.45" height="3.19" fill="#8d95d6"/>
<rect x="303.3" y="582.71" width="3.45" height="3.19" fill="#fadedf"/>
<rect x="306.75" y="582.71" width="3.45" height="3.19" fill="#2d3cb4"/>
<rect x="310.2" y="582.71" width="3.45" height="3.19" fill="#7e87d1"/>
<rect x="313.65" y="582.71" width="3.45" height="3.19" fill="#5e6ac5"/>
<rect x="317.1" y="582.71" width="3.45" height="3.19" fill="#fae1e2"/>
<rect x="289.5" y="585.9" width="3.45" height="3.19" fill="#fa848a"/>
<rect x="292.95" y="585.9" width="3.45" height="3.19" fill="#fabec1"/>
<rect x="296.4" y="585.9" width="3.45" height="3.19" fill="#f74c55"/>
<rect x="299.85" y="585.9" width="3.45" height="3.19" fill="#abb1e1"/>
<rect x="303.3" y="585.9" width="3.45" height="3.19" fill="#fdfefe"/>
<rect x="306.75" y="585.9" width="3.45" height="3.19" fill="#4754bd"/>
<rect x="310.2" y="585.9" width="3.45" height="3.19" fill="#dcdef2"/>
<rect x="313.65" y="585.9" width="3.45" height="3.19" fill="#2d3cb4"/>
<rect x="317.1" y="585.9" width="3.45" height="3.19" fill="#8b94d5"/>
<rect x="289.5" y="589.09" width="3.45" height="3.19" fill="#fa5860"/>
<rect x="292.95" y="589.09" width="3.45" height="3.19" fill="#fa4f57"/>
<rect x="296.4" y="589.09" width="3.45" height="3.19" fill="#fa646c"/>
<rect x="299.85" y="589.09" width="3.45" height="3.19" fill="#c5c9ea"/>
<rect x="303.3" y="589.09" width="3.45" height="3.19" fill="#e1e3f4"/>
<rect x="306.75" y="589.09" width="3.45" height="3.19" fill="#4754bd"/>
<rect x="310.2" y="589.09" width="3.45" height="3.19" fill="#fad5d7"/>
<rect x="313.65" y="589.09" width="3.45" height="3.19" fill="#2d3cb4"/>
<rect x="317.1" y="589.09" width="3.45" height="3.19" fill="#fae3e4"/>
<rect x="289.5" y="592.28" width="3.45" height="3.19" fill="#f54a53"/>
<rect x="292.95" y="592.28" width="3.45" height="3.19" fill="#fa9ba0"/>
<rect x="296.4" y="592.28" width="3.45" height="3.19" fill="#f84d55"/>
<rect x="299.85" y="592.28" width="3.45" height="3.19" fill="#d9dcf1"/>
<rect x="303.3" y="592.28" width="3.45" height="3.19" fill="#babfe6"/>
<rect x="306.75" y="592.28" width="3.45" height="3.19" fill="#727ccc"/>
<rect x="310.2" y="592.28" width="3.45" height="3.19" fill="#b7bce5"/>
<rect x="313.65" y="592.28" width="3.45" height="3.19" fill="#fae2e3"/>
<rect x="317.1" y="592.28" width="3.45" height="3.19" fill="#f3f3fa"/>
<rect x="289.5" y="595.47" width="3.45" height="3.19" fill="#fa959a"/>
<rect x="292.95" y="595.47" width="3.45" height="3.19" fill="#faaaae"/>
<rect x="296.4" y="595.47" width="3.45" height="3.19" fill="#fa7077"/>
<rect x="299.85" y="595.47" width="3.45" height="3.19" fill="#fad3d5"/>
<rect x="303.3" y="595.47" width="3.45" height="3.19" fill="#fac6c8"/>
<rect x="306.75" y="595.47" width="3.45" height="3.19" fill="#7c86d0"/>
<rect x="310.2" y="595.47" width="3.45" height="3.19" fill="#a2a8dd"/>
<rect x="313.65" y="595.47" width="3.45" height="3.19" fill="#d2d5ef"/>
<rect x="317.1" y="595.47" width="3.45" height="3.19" fill="#fad8da"/>
<rect x="289.5" y="598.66" width="3.45" height="3.19" fill="#f1464e"/>
<rect x="292.95" y="598.66" width="3.45" height="3.19" fill="#e83c46"/>
<rect x="296.4" y="598.66" width="3.45" height="3.19" fill="#fa9ba0"/>
<rect x="299.85" y="598.66" width="3.45" height="3.19" fill="#fa9b9f"/>
<rect x="303.3" y="598.66" width="3.45" height="3.19" fill="#faadb1"/>
<rect x="306.75" y="598.66" width="3.45" height="3.19" fill="#9aa1db"/>
<rect x="310.2" y="598.66" width="3.45" height="3.19" fill="#4c59bf"/>
<rect x="313.65" y="598.66" width="3.45" height="3.19" fill="#faf9f9"/>
<rect x="317.1" y="598.66" width="3.45" height="3.19" fill="#eceef8"/>
<rect x="289.5" y="601.85" width="3.45" height="3.19" fill="#fa5159"/>
<rect x="292.95" y="601.85" width="3.45" height="3.19" fill="#eb3f48"/>
<rect x="296.4" y="601.85" width="3.45" height="3.19" fill="#fa8187"/>
<rect x="299.85" y="601.85" width="3.45" height="3.19" fill="#fadcde"/>
<rect x="303.3" y="601.85" width="3.45" height="3.19" fill="#4956be"/>
<rect x="306.75" y="601.85" width="3.45" height="3.19" fill="#a8aee0"/>
<rect x="310.2" y="601.85" width="3.45" height="3.19" fill="#959dd9"/>
<rect x="313.65" y="601.85" width="3.45" height="3.19" fill="#a9afe0"/>
<rect x="317.1" y="601.85" width="3.45" height="3.19" fill="#858ed3"/>
<rect x="289.5" y="605.05" width="3.45" height="3.19" fill="#f24750"/>
<rect x="292.95" y="605.05" width="3.45" height="3.19" fill="#e63b44"/>
<rect x="296.4" y="605.05" width="3.45" height="3.19" fill="#fa5a62"/>
<rect x="299.85" y="605.05" width="3.45" height="3.19" fill="#fad4d6"/>
<rect x="303.3" y="605.05" width="3.45" height="3.19" fill="#b5bae4"/>
<rect x="306.75" y="605.05" width="3.45" height="3.19" fill="#4855bd"/>
<rect x="310.2" y="605.05" width="3.45" height="3.19" fill="#d3d6ef"/>
<rect x="313.65" y="605.05" width="3.45" height="3.19" fill="#fafafd"/>
<rect x="317.1" y="605.05" width="3.45" height="3.19" fill="#fad9db"/>
<rect x="289.5" y="608.24" width="3.45" height="3.19" fill="#dc303a"/>
<rect x="292.95" y="608.24" width="3.45" height="3.19" fill="#fa9398"/>
<rect x="296.4" y="608.24" width="3.45" height="3.19" fill="#faa7ab"/>
<rect x="299.85" y="608.24" width="3.45" height="3.19" fill="#fa9fa4"/>
<rect x="303.3" y="608.24" width="3.45" height="3.19" fill="#fbfbfd"/>
<rect x="306.75" y="608.24" width="3.45" height="3.19" fill="#8b93d5"/>
<rect x="310.2" y="608.24" width="3.45" height="3.19" fill="#8991d5"/>
<rect x="313.65" y="608.24" width="3.45" height="3.19" fill="#a6acdf"/>
<rect x="317.1" y="608.24" width="3.45" height="3.19" fill="#fadfe1"/>
<rect x="289.5" y="611.43" width="3.45" height="3.19" fill="#fa787f"/>
<rect x="292.95" y="611.43" width="3.45" height="3.19" fill="#dc303a"/>
<rect x="296.4" y="611.43" width="3.45" height="3.19" fill="#fa969b"/>
<rect x="299.85" y="611.43" width="3.45" height="3.19" fill="#e1353f"/>
<rect x="303.3" y="611.43" width="3.45" height="3.19" fill="#5d69c5"/>
<rect x="306.75" y="611.43" width="3.45" height="3.19" fill="#a3a9de"/>
<rect x="310.2" y="611.43" width="3.45" height="3.19" fill="#3644b7"/>
<rect x="313.65" y="611.43" width="3.45" height="3.19" fill="#c4c8ea"/>
<rect x="317.1" y="611.43" width="3.45" height="3.19" fill="#fa7980"/>
<rect x="289.5" y="614.62" width="3.45" height="3.19" fill="#dc303a"/>
<rect x="292.95" y="614.62" width="3.45" height="3.19" fill="#dc303a"/>
<rect x="296.4" y="614.62" width="3.45" height="3.19" fill="#fa525b"/>
<rect x="299.85" y="614.62" width="3.45" height="3.19" fill="#faced1"/>
<rect x="303.3" y="614.62" width="3.45" height="3.19" fill="#d9dcf1"/>
<rect x="306.75" y="614.62" width="3.45" height="3.19" fill="#7881ce"/>
<rect x="310.2" y="614.62" width="3.45" height="3.19" fill="#facbcd"/>
<rect x="313.65" y="614.62" width="3.45" height="3.19" fill="#7f88d1"/>
<rect x="317.1" y="614.62" width="3.45" height="3.19" fill="#bbbfe6"/>
<rect x="289.5" y="617.81" width="3.45" height="3.19" fill="#dc303a"/>
<rect x="292.95" y="617.81" width="3.45" height="3.19" fill="#dc303a"/>
<rect x="296.4" y="617.81" width="3.45" height="3.19" fill="#faa5a9"/>
<rect x="299.85" y="617.81" width="3.45" height="3.19" fill="#fad4d6"/>
<rect x="303.3" y="617.81" width="3.45" height="3.19" fill="#929ad8"/>
<rect x="306.75" y="617.81" width="3.45" height="3.19" fill="#a8aee0"/>
<rect x="310.2" y="617.81" width="3.45" height="3.19" fill="#fae4e5"/>
<rect x="313.65" y="617.81" width="3.45" height="3.19" fill="#8d95d6"/>
<rect x="317.1" y="617.81" width="3.45" height="3.19" fill="#e6e8f6"/>
<rect x="289.5" y="621" width="3.45" height="3.19" fill="#fa656d"/>
<rect x="292.95" y="621" width="3.45" height="3.19" fill="#fab2b5"/>
<rect x="296.4" y="621" width="3.45" height="3.19" fill="#fab4b8"/>
<rect x="299.85" y="621" width="3.45" height="3.19" fill="#939bd8"/>
<rect x="303.3" y="621" width="3.45" height="3.19" fill="#8d95d6"/>
<rect x="306.75" y="621" width="3.45" height="3.19" fill="#2d3cb4"/>
<rect x="310.2" y="621" width="3.45" height="3.19" fill="#fadbdd"/>
<rect x="313.65" y="621" width="3.45" height="3.19" fill="#ced1ed"/>
<rect x="317.1" y="621" width="3.45" height="3.19" fill="#fac4c7"/>
<rect x="289.5" y="624.19" width="3.45" height="3.19" fill="#fa5961"/>
<rect x="292.95" y="624.19" width="3.45" height="3.19" fill="#fa8288"/>
<rect x="296.4" y="624.19" width="3.45" height="3.19" fill="#faa4a8"/>
<rect x="299.85" y="624.19" width="3.45" height="3.19" fill="#a8aedf"/>
<rect x="303.3" y="624.19" width="3.45" height="3.19" fill="#eff0f9"/>
<rect x="306.75" y="624.19" width="3.45" height="3.19" fill="#3846b8"/>
<rect x="310.2" y="624.19" width="3.45" height="3.19" fill="#fafdfd"/>
<rect x="313.65" y="624.19" width="3.45" height="3.19" fill="#c4c9ea"/>
<rect x="317.1" y="624.19" width="3.45" height="3.19" fill="#d1d4ee"/>
<rect x="289.5" y="627.38" width="3.45" height="3.19" fill="#fa5b63"/>
<rect x="292.95" y="627.38" width="3.45" height="3.19" fill="#e53943"/>
<rect x="296.4" y="627.38" width="3.45" height="3.19" fill="#fac7ca"/>
<rect x="299.85" y="627.38" width="3.45" height="3.19" fill="#fa525b"/>
<rect x="303.3" y="627.38" width="3.45" height="3.19" fill="#fababd"/>
<rect x="306.75" y="627.38" width="3.45" height="3.19" fill="#3846b8"/>
<rect x="310.2" y="627.38" width="3.45" height="3.19" fill="#4653bc"/>
<rect x="313.65" y="627.38" width="3.45" height="3.19" fill="#939bd8"/>
<rect x="317.1" y="627.38" width="3.45" height="3.19" fill="#959dd9"/>
<rect x="289.5" y="630.57" width="3.45" height="3.19" fill="#fa575f"/>
<rect x="292.95" y="630.57" width="3.45" height="3.19" fill="#dc303a"/>
<rect x="296.4" y="630.57" width="3.45" height="3.19" fill="#fab5b9"/>
<rect x="299.85" y="630.57" width="3.45" height="3.19" fill="#faf3f3"/>
<rect x="303.3" y="630.57" width="3.45" height="3.19" fill="#6a75ca"/>
<rect x="306.75" y="630.57" width="3.45" height="3.19" fill="#969dd9"/>
<rect x="310.2" y="630.57" width="3.45" height="3.19" fill="#9aa2db"/>
<rect x="313.65" y="630.57" width="3.45" height="3.19" fill="#fab4b8"/>
<rect x="317.1" y="630.57" width="3.45" height="3.19" fill="#eeeff9"/>
<rect x="289.5" y="633.76" width="3.45" height="3.19" fill="#fa5d65"/>
<rect x="292.95" y="633.76" width="3.45" height="3.19" fill="#fa636b"/>
<rect x="296.4" y="633.76" width="3.45" height="3.19" fill="#fabec1"/>
<rect x="299.85" y="633.76" width="3.45" height="3.19" fill="#fefefe"/>
<rect x="303.3" y="633.76" width="3.45" height="3.19" fill="#9ca3db"/>
<rect x="306.75" y="633.76" width="3.45" height="3.19" fill="#4a57be"/>
<rect x="310.2" y="633.76" width="3.45" height="3.19" fill="#adb3e1"/>
<rect x="313.65" y="633.76" width="3.45" height="3.19" fill="#5e69c5"/>
<rect x="317.1" y="633.76" width="3.45" height="3.19" fill="#e4e6f5"/>
<rect x="289.5" y="636.95" width="3.45" height="3.19" fill="#fa5860"/>
<rect x="292.95" y="636.95" width="3.45" height="3.19" fill="#dc303a"/>
<rect x="296.4" y="636.95" width="3.45" height="3.19" fill="#fa5860"/>
<rect x="299.85" y="636.95" width="3.45" height="3.19" fill="#e0e2f4"/>
<rect x="303.3" y="636.95" width="3.45" height="3.19" fill="#a6addf"/>
<rect x="306.75" y="636.95" width="3.45" height="3.19" fill="#737dcd"/>
<rect x="310.2" y="636.95" width="3.45" height="3.19" fill="#aeb4e2"/>
<rect x="313.65" y="636.95" width="3.45" height="3.19" fill="#fefefe"/>
<rect x="317.1" y="636.95" width="3.45" height="3.19" fill="#adb3e1"/>
<rect x="289.5" y="640.14" width="3.45" height="3.19" fill="#fa575f"/>
<rect x="292.95" y="640.14" width="3.45" height="3.19" fill="#fa767d"/>
<rect x="296.4" y="640.14" width="3.45" height="3.19" fill="#faa3a7"/>
<rect x="299.85" y="640.14" width="3.45" height="3.19" fill="#fab6ba"/>
<rect x="303.3" y="640.14" width="3.45" height="3.19" fill="#fafafd"/>
<rect x="306.75" y="640.14" width="3.45" height="3.19" fill="#5b67c4"/>
<rect x="310.2" y="640.14" width="3.45" height="3.19" fill="#b0b6e2"/>
<rect x="313.65" y="640.14" width="3.45" height="3.19" fill="#9ca3db"/>
<rect x="317.1" y="640.14" width="3.45" height="3.19" fill="#abb1e1"/>
<rect x="289.5" y="643.33" width="3.45" height="3.19" fill="#fa8187"/>
<rect x="292.95" y="643.33" width="3.45" height="3.19" fill="#fa545c"/>
<rect x="296.4" y="643.33" width="3.45" height="3.19" fill="#fa979c"/>
<rect x="299.85" y="643.33" width="3.45" height="3.19" fill="#fa959a"/>
<rect x="303.3" y="643.33" width="3.45" height="3.19" fill="#eeeff9"/>
<rect x="306.75" y="643.33" width="3.45" height="3.19" fill="#979fda"/>
<rect x="310.2" y="643.33" width="3.45" height="3.19" fill="#b3b9e4"/>
<rect x="313.65" y="643.33" width="3.45" height="3.19" fill="#e0e2f4"/>
<rect x="317.1" y="643.33" width="3.45" height="3.19" fill="#fae5e7"/>
<rect x="289.5" y="646.52" width="3.45" height="3.19" fill="#de323c"/>
<rect x="292.95" y="646.52" width="3.45" height="3.19" fill="#fa656d"/>
<rect x="296.4" y="646.52" width="3.45" height="3.19" fill="#f64b53"/>
<rect x="299.85" y="646.52" width="3.45" height="3.19" fill="#f8f9fc"/>
<rect x="303.3" y="646.52" width="3.45" height="3.19" fill="#4a56be"/>
<rect x="306.75" y="646.52" width="3.45" height="3.19" fill="#525fc1"/>
<rect x="310.2" y="646.52" width="3.45" height="3.19" fill="#8e96d6"/>
<rect x="313.65" y="646.52" width="3.45" height="3.19" fill="#e6e8f6"/>
<rect x="317.1" y="646.52" width="3.45" height="3.19" fill="#f7f8fc"/>
<rect x="289.5" y="649.71" width="3.45" height="3.19" fill="#f74c55"/>
<rect x="292.95" y="649.71" width="3.45" height="3.19" fill="#fa6870"/>
<rect x="296.4" y="649.71" width="3.45" height="3.19" fill="#fa989d"/>
<rect x="299.85" y="649.71" width="3.45" height="3.19" fill="#faf4f5"/>
<rect x="303.3" y="649.71" width="3.45" height="3.19" fill="#fabbbe"/>
<rect x="306.75" y="649.71" width="3.45" height="3.19" fill="#6d77cb"/>
<rect x="310.2" y="649.71" width="3.45" height="3.19" fill="#8b93d5"/>
<rect x="313.65" y="649.71" width="3.45" height="3.19" fill="#9ca3db"/>
<rect x="317.1" y="649.71" width="3.45" height="3.19" fill="#faedee"/>
<rect x="289.5" y="652.9" width="3.45" height="3.19" fill="#fa6c73"/>
<rect x="292.95" y="652.9" width="3.45" height="3.19" fill="#fa767d"/>
<rect x="296.4" y="652.9" width="3.45" height="3.19" fill="#f64b54"/>
<rect x="299.85" y="652.9" width="3.45" height="3.19" fill="#bbc0e6"/>
<rect x="303.3" y="652.9" width="3.45" height="3.19" fill="#fa8187"/>
<rect x="306.75" y="652.9" width="3.45" height="3.19" fill="#757ecd"/>
<rect x="310.2" y="652.9" width="3.45" height="3.19" fill="#faeaeb"/>
<rect x="313.65" y="652.9" width="3.45" height="3.19" fill="#d4d7ef"/>
<rect x="317.1" y="652.9" width="3.45" height="3.19" fill="#eeeff9"/>
<rect x="289.5" y="656.09" width="3.45" height="3.19" fill="#fa7d83"/>
<rect x="292.95" y="656.09" width="3.45" height="3.19" fill="#fa868c"/>
<rect x="296.4" y="656.09" width="3.45" height="3.19" fill="#f84d56"/>
<rect x="299.85" y="656.09" width="3.45" height="3.19" fill="#fa8d93"/>
<rect x="303.3" y="656.09" width="3.45" height="3.19" fill="#faf0f1"/>
<rect x="306.75" y="656.09" width="3.45" height="3.19" fill="#707acc"/>
<rect x="310.2" y="656.09" width="3.45" height="3.19" fill="#969ed9"/>
<rect x="313.65" y="656.09" width="3.45" height="3.19" fill="#fae1e3"/>
<rect x="317.1" y="656.09" width="3.45" height="3.19" fill="#969dd9"/>
<rect x="289.5" y="659.28" width="3.45" height="3.19" fill="#e33741"/>
<rect x="292.95" y="659.28" width="3.45" height="3.19" fill="#faa4a9"/>
<rect x="296.4" y="659.28" width="3.45" height="3.19" fill="#e73c45"/>
<rect x="299.85" y="659.28" width="3.45" height="3.19" fill="#fbfbfd"/>
<rect x="303.3" y="659.28" width="3.45" height="3.19" fill="#fababd"/>
<rect x="306.75" y="659.28" width="3.45" height="3.19" fill="#4250bb"/>
<rect x="310.2" y="659.28" width="3.45" height="3.19" fill="#b9bee6"/>
<rect x="313.65" y="659.28" width="3.45" height="3.19" fill="#fa9499"/>
<rect x="317.1" y="659.28" width="3.45" height="3.19" fill="#fae3e5"/>
<rect x="289.5" y="662.47" width="3.45" height="3.19" fill="#fa7b82"/>
<rect x="292.95" y="662.47" width="3.45" height="3.19" fill="#faa5a9"/>
<rect x="296.4" y="662.47" width="3.45" height="3.19" fill="#fa959a"/>
<rect x="299.85" y="662.47" width="3.45" height="3.19" fill="#faf7f7"/>
<rect x="303.3" y="662.47" width="3.45" height="3.19" fill="#bdc2e7"/>
<rect x="306.75" y="662.47" width="3.45" height="3.19" fill="#abb1e1"/>
<rect x="310.2" y="662.47" width="3.45" height="3.19" fill="#3a48b8"/>
<rect x="313.65" y="662.47" width="3.45" height="3.19" fill="#fac8cb"/>
<rect x="317.1" y="662.47" width="3.45" height="3.19" fill="#fafefe"/>
<rect x="289.5" y="665.66" width="3.45" height="3.19" fill="#fa6169"/>
<rect x="292.95" y="665.66" width="3.45" height="3.19" fill="#fa9ea3"/>
<rect x="296.4" y="665.66" width="3.45" height="3.19" fill="#fa535b"/>
<rect x="299.85" y="665.66" width="3.45" height="3.19" fill="#fadfe1"/>
<rect x="303.3" y="665.66" width="3.45" height="3.19" fill="#fafafb"/>
<rect x="306.75" y="665.66" width="3.45" height="3.19" fill="#acb2e1"/>
<rect x="310.2" y="665.66" width="3.45" height="3.19" fill="#fad1d3"/>
<rect x="313.65" y="665.66" width="3.45" height="3.19" fill="#5e69c5"/>
<rect x="317.1" y="665.66" width="3.45" height="3.19" fill="#c6caea"/>
<rect x="289.5" y="668.85" width="3.45" height="3.19" fill="#f74c55"/>
<rect x="292.95" y="668.85" width="3.45" height="3.19" fill="#fa787f"/>
<rect x="296.4" y="668.85" width="3.45" height="3.19" fill="#fa9ea3"/>
<rect x="299.85" y="668.85" width="3.45" height="3.19" fill="#fae1e3"/>
<rect x="303.3" y="668.85" width="3.45" height="3.19" fill="#fbfbfd"/>
<rect x="306.75" y="668.85" width="3.45" height="3.19" fill="#c4c8ea"/>
<rect x="310.2" y="668.85" width="3.45" height="3.19" fill="#bcc1e7"/>
<rect x="313.65" y="668.85" width="3.45" height="3.19" fill="#737dcd"/>
<rect x="317.1" y="668.85" width="3.45" height="3.19" fill="#fa9a9f"/>
<rect x="289.5" y="672.04" width="3.45" height="3.19" fill="#fababe"/>
<rect x="292.95" y="672.04" width="3.45" height="3.19" fill="#fab1b5"/>
<rect x="296.4" y="672.04" width="3.45" height="3.19" fill="#faaeb1"/>
<rect x="299.85" y="672.04" width="3.45" height="3.19" fill="#b5bbe4"/>
<rect x="303.3" y="672.04" width="3.45" height="3.19" fill="#faeff0"/>
<rect x="306.75" y="672.04" width="3.45" height="3.19" fill="#7b84d0"/>
<rect x="310.2" y="672.04" width="3.45" height="3.19" fill="#8b93d5"/>
<rect x="313.65" y="672.04" width="3.45" height="3.19" fill="#4c59bf"/>
<rect x="317.1" y="672.04" width="3.45" height="3.19" fill="#b3b8e3"/>
<rect x="289.5" y="675.23" width="3.45" height="3.19" fill="#fa636b"/>
<rect x="292.95" y="675.23" width="3.45" height="3.19" fill="#fa7a80"/>
<rect x="296.4" y="675.23" width="3.45" height="3.19" fill="#fa5860"/>
<rect x="299.85" y="675.23" width="3.45" height="3.19" fill="#c6caea"/>
<rect x="303.3" y="675.23" width="3.45" height="3.19" fill="#3b49b9"/>
<rect x="306.75" y="675.23" width="3.45" height="3.19" fill="#7780ce"/>
<rect x="310.2" y="675.23" width="3.45" height="3.19" fill="#fae6e7"/>
<rect x="313.65" y="675.23" width="3.45" height="3.19" fill="#e9ebf7"/>
<rect x="317.1" y="675.23" width="3.45" height="3.19" fill="#faeded"/>
<rect x="289.5" y="678.42" width="3.45" height="3.19" fill="#fa575f"/>
<rect x="292.95" y="678.42" width="3.45" height="3.19" fill="#fabbbe"/>
<rect x="296.4" y="678.42" width="3.45" height="3.19" fill="#fabdc0"/>
<rect x="299.85" y="678.42" width="3.45" height="3.19" fill="#babfe6"/>
<rect x="303.3" y="678.42" width="3.45" height="3.19" fill="#dc303a"/>
<rect x="306.75" y="678.42" width="3.45" height="3.19" fill="#5763c3"/>
<rect x="310.2" y="678.42" width="3.45" height="3.19" fill="#d9dcf1"/>
<rect x="313.65" y="678.42" width="3.45" height="3.19" fill="#faafb3"/>
<rect x="317.1" y="678.42" width="3.45" height="3.19" fill="#fafbfb"/>
<rect x="289.5" y="681.61" width="3.45" height="3.19" fill="#fa6269"/>
<rect x="292.95" y="681.61" width="3.45" height="3.19" fill="#fa666d"/>
<rect x="296.4" y="681.61" width="3.45" height="3.19" fill="#fa858b"/>
<rect x="299.85" y="681.61" width="3.45" height="3.19" fill="#fab0b3"/>
<rect x="303.3" y="681.61" width="3.45" height="3.19" fill="#5f6ac6"/>
<rect x="306.75" y="681.61" width="3.45" height="3.19" fill="#adb3e1"/>
<rect x="310.2" y="681.61" width="3.45" height="3.19" fill="#2d3cb4"/>
<rect x="313.65" y="681.61" width="3.45" height="3.19" fill="#faced1"/>
<rect x="317.1" y="681.61" width="3.45" height="3.19" fill="#faf2f3"/>
<rect x="289.5" y="684.8" width="3.45" height="3.19" fill="#fa555d"/>
<rect x="292.95" y="684.8" width="3.45" height="3.19" fill="#ec404a"/>
<rect x="296.4" y="684.8" width="3.45" height="3.19" fill="#fa676e"/>
<rect x="299.85" y="684.8" width="3.45" height="3.19" fill="#fa9398"/>
<rect x="303.3" y="684.8" width="3.45" height="3.19" fill="#6570c8"/>
<rect x="306.75" y="684.8" width="3.45" height="3.19" fill="#fae2e4"/>
<rect x="310.2" y="684.8" width="3.45" height="3.19" fill="#979ed9"/>
<rect x="313.65" y="684.8" width="3.45" height="3.19" fill="#b7bce5"/>
<rect x="317.1" y="684.8" width="3.45" height="3.19" fill="#f0f1f9"/>
<rect x="289.5" y="687.99" width="3.45" height="3.19" fill="#fa7d84"/>
<rect x="292.95" y="687.99" width="3.45" height="3.19" fill="#fa9ba0"/>
<rect x="296.4" y="687.99" width="3.45" height="3.19" fill="#fab1b5"/>
<rect x="299.85" y="687.99" width="3.45" height="3.19" fill="#faebec"/>
<rect x="303.3" y="687.99" width="3.45" height="3.19" fill="#d0d3ee"/>
<rect x="306.75" y="687.99" width="3.45" height="3.19" fill="#c8cceb"/>
<rect x="310.2" y="687.99" width="3.45" height="3.19" fill="#6f79cb"/>
<rect x="313.65" y="687.99" width="3.45" height="3.19" fill="#fa7379"/>
<rect x="317.1" y="687.99" width="3.45" height="3.19" fill="#d6d9f0"/>
<rect x="289.5" y="691.18" width="3.45" height="3.19" fill="#fa5860"/>
<rect x="292.95" y="691.18" width="3.45" height="3.19" fill="#fa5a62"/>
<rect x="296.4" y="691.18" width="3.45" height="3.19" fill="#fa6b72"/>
<rect x="299.85" y="691.18" width="3.45" height="3.19" fill="#e8e9f6"/>
<rect x="303.3" y="691.18" width="3.45" height="3.19" fill="#c9cdeb"/>
<rect x="306.75" y="691.18" width="3.45" height="3.19" fill="#fad8da"/>
<rect x="310.2" y="691.18" width="3.45" height="3.19" fill="#8d95d6"/>
<rect x="313.65" y="691.18" width="3.45" height="3.19" fill="#a8aee0"/>
<rect x="317.1" y="691.18" width="3.45" height="3.19" fill="#f3f4fa"/>
<rect x="289.5" y="694.37" width="3.45" height="3.19" fill="#e43842"/>
<rect x="292.95" y="694.37" width="3.45" height="3.19" fill="#fa878c"/>
<rect x="296.4" y="694.37" width="3.45" height="3.19" fill="#fab0b4"/>
<rect x="299.85" y="694.37" width="3.45" height="3.19" fill="#babee6"/>
<rect x="303.3" y="694.37" width="3.45" height="3.19" fill="#7b84cf"/>
<rect x="306.75" y="694.37" width="3.45" height="3.19" fill="#b1b7e3"/>
<rect x="310.2" y="694.37" width="3.45" height="3.19" fill="#6b75ca"/>
<rect x="313.65" y="694.37" width="3.45" height="3.19" fill="#e2e4f4"/>
<rect x="317.1" y="694.37" width="3.45" height="3.19" fill="#faeced"/>
<rect x="289.5" y="697.56" width="3.45" height="3.19" fill="#dc303a"/>
<rect x="292.95" y="697.56" width="3.45" height="3.19" fill="#fa848a"/>
<rect x="296.4" y="697.56" width="3.45" height="3.19" fill="#f34851"/>
<rect x="299.85" y="697.56" width="3.45" height="3.19" fill="#6973c9"/>
<rect x="303.3" y="697.56" width="3.45" height="3.19" fill="#facacd"/>
<rect x="306.75" y="697.56" width="3.45" height="3.19" fill="#4350bc"/>
<rect x="310.2" y="697.56" width="3.45" height="3.19" fill="#8e96d6"/>
<rect x="313.65" y="697.56" width="3.45" height="3.19" fill="#c5c9ea"/>
<rect x="317.1" y="697.56" width="3.45" height="3.19" fill="#fad2d4"/>
<rect x="289.5" y="700.75" width="3.45" height="3.19" fill="#fa888e"/>
<rect x="292.95" y="700.75" width="3.45" height="3.19" fill="#fa686f"/>
<rect x="296.4" y="700.75" width="3.45" height="3.19" fill="#facccf"/>
<rect x="299.85" y="700.75" width="3.45" height="3.19" fill="#fa8086"/>
<rect x="303.3" y="700.75" width="3.45" height="3.19" fill="#505cc0"/>
<rect x="306.75" y="700.75" width="3.45" height="3.19" fill="#faf8f8"/>
<rect x="310.2" y="700.75" width="3.45" height="3.19" fill="#facfd1"/>
<rect x="313.65" y="700.75" width="3.45" height="3.19" fill="#2d3cb4"/>
<rect x="317.1" y="700.75" width="3.45" height="3.19" fill="#eff0f9"/>
<rect x="289.5" y="703.94" width="3.45" height="3.19" fill="#dc303a"/>
<rect x="292.95" y="703.94" width="3.45" height="3.19" fill="#fa8c92"/>
<rect x="296.4" y="703.94" width="3.45" height="3.19" fill="#fa6d74"/>
<rect x="299.85" y="703.94" width="3.45" height="3.19" fill="#fab2b6"/>
<rect x="303.3" y="703.94" width="3.45" height="3.19" fill="#acb2e1"/>
<rect x="306.75" y="703.94" width="3.45" height="3.19" fill="#faf0f1"/>
<rect x="310.2" y="703.94" width="3.45" height="3.19" fill="#8b93d5"/>
<rect x="313.65" y="703.94" width="3.45" height="3.19" fill="#b6bbe5"/>
<rect x="317.1" y="703.94" width="3.45" height="3.19" fill="#c4c8ea"/>
<rect x="289.5" y="707.13" width="3.45" height="3.19" fill="#fa9398"/>
<rect x="292.95" y="707.13" width="3.45" height="3.19" fill="#fa797f"/>
<rect x="296.4" y="707.13" width="3.45" height="3.19" fill="#fa5a62"/>
<rect x="299.85" y="707.13" width="3.45" height="3.19" fill="#929ad8"/>
<rect x="303.3" y="707.13" width="3.45" height="3.19" fill="#7a83cf"/>
<rect x="306.75" y="707.13" width="3.45" height="3.19" fill="#c4c8e9"/>
<rect x="310.2" y="707.13" width="3.45" height="3.19" fill="#2d3cb4"/>
<rect x="313.65" y="707.13" width="3.45" height="3.19" fill="#fcfcfe"/>
<rect x="317.1" y="707.13" width="3.45" height="3.19" fill="#8790d4"/>
<rect x="289.5" y="710.32" width="3.45" height="3.19" fill="#e33741"/>
<rect x="292.95" y="710.32" width="3.45" height="3.19" fill="#fae8e9"/>
<rect x="296.4" y="710.32" width="3.45" height="3.19" fill="#fa888d"/>
<rect x="299.85" y="710.32" width="3.45" height="3.19" fill="#c8cceb"/>
<rect x="303.3" y="710.32" width="3.45" height="3.19" fill="#fac1c4"/>
<rect x="306.75" y="710.32" width="3.45" height="3.19" fill="#6a75ca"/>
<rect x="310.2" y="710.32" width="3.45" height="3.19" fill="#2d3cb4"/>
<rect x="313.65" y="710.32" width="3.45" height="3.19" fill="#fabcc0"/>
<rect x="317.1" y="710.32" width="3.45" height="3.19" fill="#6b76ca"/>
<rect x="289.5" y="713.51" width="3.45" height="3.19" fill="#fa989d"/>
<rect x="292.95" y="713.51" width="3.45" height="3.19" fill="#fab9bc"/>
<rect x="296.4" y="713.51" width="3.45" height="3.19" fill="#fae1e2"/>
<rect x="299.85" y="713.51" width="3.45" height="3.19" fill="#faedee"/>
<rect x="303.3" y="713.51" width="3.45" height="3.19" fill="#a9afe0"/>
<rect x="306.75" y="713.51" width="3.45" height="3.19" fill="#8f97d7"/>
<rect x="310.2" y="713.51" width="3.45" height="3.19" fill="#7b85d0"/>
<rect x="313.65" y="713.51" width="3.45" height="3.19" fill="#8f97d7"/>
<rect x="317.1" y="713.51" width="3.45" height="3.19" fill="#eef0f9"/>
<rect x="289.5" y="716.7" width="3.45" height="3.19" fill="#f1464f"/>
<rect x="292.95" y="716.7" width="3.45" height="3.19" fill="#fa7e84"/>
<rect x="296.4" y="716.7" width="3.45" height="3.19" fill="#fab8bb"/>
<rect x="299.85" y="716.7" width="3.45" height="3.19" fill="#fad3d5"/>
<rect x="303.3" y="716.7" width="3.45" height="3.19" fill="#faeeef"/>
<rect x="306.75" y="716.7" width="3.45" height="3.19" fill="#dbdef2"/>
<rect x="310.2" y="716.7" width="3.45" height="3.19" fill="#a2a9de"/>
<rect x="313.65" y="716.7" width="3.45" height="3.19" fill="#fad8da"/>
<rect x="317.1" y="716.7" width="3.45" height="3.19" fill="#fafafa"/>
<rect x="289.5" y="719.89" width="3.45" height="3.19" fill="#fa575f"/>
<rect x="292.95" y="719.89" width="3.45" height="3.19" fill="#f64b54"/>
<rect x="296.4" y="719.89" width="3.45" height="3.19" fill="#faafb3"/>
<rect x="299.85" y="719.89" width="3.45" height="3.19" fill="#dbdef2"/>
<rect x="303.3" y="719.89" width="3.45" height="3.19" fill="#faf7f7"/>
<rect x="306.75" y="719.89" width="3.45" height="3.19" fill="#eff0f9"/>
<rect x="310.2" y="719.89" width="3.45" height="3.19" fill="#3c4ab9"/>
<rect x="313.65" y="719.89" width="3.45" height="3.19" fill="#faccce"/>
<rect x="317.1" y="719.89" width="3.45" height="3.19" fill="#8089d1"/>
<rect x="289.5" y="723.08" width="3.45" height="3.19" fill="#fa5860"/>
<rect x="292.95" y="723.08" width="3.45" height="3.19" fill="#fa979c"/>
<rect x="296.4" y="723.08" width="3.45" height="3.19" fill="#facdcf"/>
<rect x="299.85" y="723.08" width="3.45" height="3.19" fill="#b4b9e4"/>
<rect x="303.3" y="723.08" width="3.45" height="3.19" fill="#404ebb"/>
<rect x="306.75" y="723.08" width="3.45" height="3.19" fill="#7e87d0"/>
<rect x="310.2" y="723.08" width="3.45" height="3.19" fill="#a4aade"/>
<rect x="313.65" y="723.08" width="3.45" height="3.19" fill="#b2b8e3"/>
<rect x="317.1" y="723.08" width="3.45" height="3.19" fill="#e0e3f4"/>
<rect x="289.5" y="726.27" width="3.45" height="3.19" fill="#fa7b81"/>
<rect x="292.95" y="726.27" width="3.45" height="3.19" fill="#dc303a"/>
<rect x="296.4" y="726.27" width="3.45" height="3.19" fill="#fab6ba"/>
<rect x="299.85" y="726.27" width="3.45" height="3.19" fill="#b7bce5"/>
<rect x="303.3" y="726.27" width="3.45" height="3.19" fill="#727ccc"/>
<rect x="306.75" y="726.27" width="3.45" height="3.19" fill="#fa898f"/>
<rect x="310.2" y="726.27" width="3.45" height="3.19" fill="#acb2e1"/>
<rect x="313.65" y="726.27" width="3.45" height="3.19" fill="#b2b7e3"/>
<rect x="317.1" y="726.27" width="3.45" height="3.19" fill="#b2b8e3"/>
<rect x="289.5" y="729.46" width="3.45" height="3.19" fill="#fa4f57"/>
<rect x="292.95" y="729.46" width="3.45" height="3.19" fill="#fabcbf"/>
<rect x="296.4" y="729.46" width="3.45" height="3.19" fill="#dc303a"/>
<rect x="299.85" y="729.46" width="3.45" height="3.19" fill="#edeef8"/>
<rect x="303.3" y="729.46" width="3.45" height="3.19" fill="#99a0da"/>
<rect x="306.75" y="729.46" width="3.45" height="3.19" fill="#6974c9"/>
<rect x="310.2" y="729.46" width="3.45" height="3.19" fill="#747ecd"/>
<rect x="313.65" y="729.46" width="3.45" height="3.19" fill="#faebec"/>
<rect x="317.1" y="729.46" width="3.45" height="3.19" fill="#faf1f1"/>
<rect x="289.5" y="732.65" width="3.45" height="3.19" fill="#fa686f"/>
<rect x="292.95" y="732.65" width="3.45" height="3.19" fill="#fab9bc"/>
<rect x="296.4" y="732.65" width="3.45" height="3.19" fill="#fab4b7"/>
<rect x="299.85" y="732.65" width="3.45" height="3.19" fill="#d9dbf1"/>
<rect x="303.3" y="732.65" width="3.45" height="3.19" fill="#edeef8"/>
<rect x="306.75" y="732.65" width="3.45" height="3.19" fill="#ebedf8"/>
<rect x="310.2" y="732.65" width="3.45" height="3.19" fill="#b0b5e2"/>
<rect x="313.65" y="732.65" width="3.45" height="3.19" fill="#6671c8"/>
<rect x="317.1" y="732.65" width="3.45" height="3.19" fill="#fae9ea"/>
<rect x="289.5" y="735.84" width="3.45" height="3.19" fill="#fa858b"/>
<rect x="292.95" y="735.84" width="3.45" height="3.19" fill="#fab0b4"/>
<rect x="296.4" y="735.84" width="3.45" height="3.19" fill="#fae7e8"/>
<rect x="299.85" y="735.84" width="3.45" height="3.19" fill="#a7aedf"/>
<rect x="303.3" y="735.84" width="3.45" height="3.19" fill="#fafefe"/>
<rect x="306.75" y="735.84" width="3.45" height="3.19" fill="#bdc1e7"/>
<rect x="310.2" y="735.84" width="3.45" height="3.19" fill="#848dd3"/>
<rect x="313.65" y="735.84" width="3.45" height="3.19" fill="#e4e6f5"/>
<rect x="317.1" y="735.84" width="3.45" height="3.19" fill="#f64b53"/>
<rect x="289.5" y="739.03" width="3.45" height="3.19" fill="#f1454e"/>
<rect x="292.95" y="739.03" width="3.45" height="3.19" fill="#fa6b72"/>
<rect x="296.4" y="739.03" width="3.45" height="3.19" fill="#fa7c82"/>
<rect x="299.85" y="739.03" width="3.45" height="3.19" fill="#fafdfd"/>
<rect x="303.3" y="739.03" width="3.45" height="3.19" fill="#fa9ca0"/>
<rect x="306.75" y="739.03" width="3.45" height="3.19" fill="#838cd3"/>
<rect x="310.2" y="739.03" width="3.45" height="3.19" fill="#a3aade"/>
<rect x="313.65" y="739.03" width="3.45" height="3.19" fill="#dc303a"/>
<rect x="317.1" y="739.03" width="3.45" height="3.19" fill="#8a92d5"/>
<rect x="289.5" y="742.22" width="3.45" height="3.19" fill="#fa646b"/>
<rect x="292.95" y="742.22" width="3.45" height="3.19" fill="#faaaae"/>
<rect x="296.4" y="742.22" width="3.45" height="3.19" fill="#fabcbf"/>
<rect x="299.85" y="742.22" width="3.45" height="3.19" fill="#fae8e9"/>
<rect x="303.3" y="742.22" width="3.45" height="3.19" fill="#959dd9"/>
<rect x="306.75" y="742.22" width="3.45" height="3.19" fill="#969ed9"/>
<rect x="310.2" y="742.22" width="3.45" height="3.19" fill="#3443b6"/>
<rect x="313.65" y="742.22" width="3.45" height="3.19" fill="#7780ce"/>
<rect x="317.1" y="742.22" width="3.45" height="3.19" fill="#fa7077"/>
<rect x="289.5" y="745.41" width="3.45" height="3.19" fill="#fa6c73"/>
<rect x="292.95" y="745.41" width="3.45" height="3.19" fill="#fa9fa3"/>
<rect x="296.4" y="745.41" width="3.45" height="3.19" fill="#fafdfd"/>
<rect x="299.85" y="745.41" width="3.45" height="3.19" fill="#fdfdfe"/>
<rect x="303.3" y="745.41" width="3.45" height="3.19" fill="#979eda"/>
<rect x="306.75" y="745.41" width="3.45" height="3.19" fill="#6e78cb"/>
<rect x="310.2" y="745.41" width="3.45" height="3.19" fill="#2d3cb4"/>
<rect x="313.65" y="745.41" width="3.45" height="3.19" fill="#b4b9e4"/>
<rect x="317.1" y="745.41" width="3.45" height="3.19" fill="#faaeb2"/>
</g>
<g font-size="3.6" fill="#6a6a6a">
<text x="323.6" y="461.15">Foxe1_chr4_46293660_46294436</text>
<text x="323.6" y="464.34">Foxe1_chr4_46294066_46294692</text>
<text x="323.6" y="467.53">Foxe1_chr4_46301893_46303291</text>
<text x="323.6" y="470.72">Foxe1_chr4_46303332_46303725</text>
<text x="323.6" y="473.91">Foxe1_chr4_46308006_46309743</text>
<text x="323.6" y="477.1">Foxe1_chr4_46311904_46313606</text>
<text x="323.6" y="480.29">Foxe1_chr4_46315687_46317329</text>
<text x="323.6" y="483.48">Foxe1_chr4_46323006_46324501</text>
<text x="323.6" y="486.67">Foxe1_chr4_46324346_46325434</text>
<text x="323.6" y="489.86">Foxe1_chr4_46329017_46330629</text>
<text x="323.6" y="493.05">Nkx2-1_chr12_57644494_57646102</text>
<text x="323.6" y="496.24">Nkx2-1_chr12_57652799_57653138</text>
<text x="323.6" y="499.43">Pax8_chr2_24297400_24297962</text>
<text x="323.6" y="502.62">Pax8_chr2_24300995_24302755</text>
<text x="323.6" y="505.81">Pax8_chr2_24304903_24305217</text>
<text x="323.6" y="509">Pax8_chr2_24308713_24310117</text>
<text x="323.6" y="512.19">Pax8_chr2_24316664_24318457</text>
<text x="323.6" y="515.38">Pax8_chr2_24324314_24324901</text>
<text x="323.6" y="518.57">Pax8_chr2_24326142_24326926</text>
<text x="323.6" y="521.76">Pax8_chr2_24333896_24334780</text>
<text x="323.6" y="524.95">Pax8_chr2_24339334_24339751</text>
<text x="323.6" y="528.14">Pax8_chr2_24340747_24342429</text>
<text x="323.6" y="531.33">Pax8_chr2_24345319_24346037</text>
<text x="323.6" y="534.52">Pax8_chr2_24345771_24347009</text>
<text x="323.6" y="537.71">Pax8_chr2_24353250_24354662</text>
<text x="323.6" y="540.9">Pax8_chr2_24355750_24356591</text>
<text x="323.6" y="544.09">Pax8_chr2_24356882_24357371</text>
<text x="323.6" y="547.28">Pax8_chr2_24364189_24365637</text>
<text x="323.6" y="550.47">Pax8_chr2_24365142_24366174</text>
<text x="323.6" y="553.66">Dio1_chr4_106932284_106932916</text>
<text x="323.6" y="556.85">Dio1_chr4_106936955_106937581</text>
<text x="323.6" y="560.04">Dio1_chr4_106940983_106941739</text>
<text x="323.6" y="563.23">Dio1_chr4_106941735_106942271</text>
<text x="323.6" y="566.42">Dio1_chr4_106949184_106950725</text>
<text x="323.6" y="569.61">Dio1_chr4_106952712_106953757</text>
<text x="323.6" y="572.8">Dio1_chr4_106959703_106960671</text>
<text x="323.6" y="575.99">Dio1_chr4_106960009_106960931</text>
<text x="323.6" y="579.18">Dio1_chr4_106963089_106964738</text>
<text x="323.6" y="582.37">Dio1_chr4_106967400_106968673</text>
<text x="323.6" y="585.56">Dio2_chr12_91701033_91702676</text>
<text x="323.6" y="588.75">Dio2_chr12_91703321_91704555</text>
<text x="323.6" y="591.94">Dio2_chr12_91711891_91713064</text>
<text x="323.6" y="595.13">Dio2_chr12_91716110_91716972</text>
<text x="323.6" y="598.32">Dio2_chr12_91718913_91720659</text>
<text x="323.6" y="601.51">Duox1_chr2_122149570_122150846</text>
<text x="323.6" y="604.7">Duox1_chr2_122153483_122154782</text>
<text x="323.6" y="607.89">Duox1_chr2_122154224_122155330</text>
<text x="323.6" y="611.08">Duox1_chr2_122161973_122162942</text>
<text x="323.6" y="614.27">Duox1_chr2_122165946_122167577</text>
<text x="323.6" y="617.46">Duox2_chr2_122122353_122124024</text>
<text x="323.6" y="620.65">Duox2_chr2_122127749_122128270</text>
<text x="323.6" y="623.84">Duox2_chr2_122132027_122132535</text>
<text x="323.6" y="627.03">Duoxa2_chr2_122136194_122136519</text>
<text x="323.6" y="630.22">Duoxa2_chr2_122145042_122146674</text>
<text x="323.6" y="633.41">Duoxa2_chr2_122152727_122153526</text>
<text x="323.6" y="636.6">Slc5a5_chr8_73419358_73420355</text>
<text x="323.6" y="639.79">Slc5a5_chr8_73427458_73429080</text>
<text x="323.6" y="642.98">Tg_chr15_66500903_66501907</text>
<text x="323.6" y="646.17">Tg_chr15_66504236_66504928</text>
<text x="323.6" y="649.36">Tg_chr15_66508263_66509302</text>
<text x="323.6" y="652.55">Tg_chr15_66508763_66510238</text>
<text x="323.6" y="655.74">Tg_chr15_66517119_66517570</text>
<text x="323.6" y="658.93">Tg_chr15_66521116_66522486</text>
<text x="323.6" y="662.12">Tg_chr15_66523041_66523766</text>
<text x="323.6" y="665.31">Thra_chr11_98606420_98608167</text>
<text x="323.6" y="668.5">Thra_chr11_98609961_98611131</text>
<text x="323.6" y="671.69">Thra_chr11_98617456_98618010</text>
<text x="323.6" y="674.88">Thra_chr11_98623036_98624572</text>
<text x="323.6" y="678.07">Thra_chr11_98626206_98627469</text>
<text x="323.6" y="681.26">Thra_chr11_98633196_98634178</text>
<text x="323.6" y="684.45">Tpo_chr12_30643627_30644589</text>
<text x="323.6" y="687.64">Tpo_chr12_30652421_30653461</text>
<text x="323.6" y="690.83">Tpo_chr12_30656641_30658394</text>
<text x="323.6" y="694.02">Tpo_chr12_30659463_30660783</text>
<text x="323.6" y="697.21">Tpo_chr12_30661999_30662441</text>
<text x="323.6" y="700.4">Tpo_chr12_30670321_30670925</text>
<text x="323.6" y="703.59">Tpo_chr12_30677351_30677740</text>
<text x="323.6" y="706.78">Tpo_chr12_30678257_30678815</text>
<text x="323.6" y="709.97">Tpo_chr12_30681086_30681539</text>
<text x="323.6" y="713.16">Tpo_chr12_30687612_30688560</text>
<text x="323.6" y="716.35">Tpo_chr12_30689524_30691121</text>
<text x="323.6" y="719.54">Tpo_chr12_30696880_30697478</text>
<text x="323.6" y="722.73">Tpo_chr12_30700984_30702228</text>
<text x="323.6" y="725.92">Tpo_chr12_30706945_30708448</text>
<text x="323.6" y="729.11">Tpo_chr12_30712092_30713824</text>
<text x="323.6" y="732.3">Tshr_chr12_92515685_92516571</text>
<text x="323.6" y="735.49">Tshr_chr12_92517576_92519161</text>
<text x="323.6" y="738.68">Tshr_chr12_92520753_92521464</text>
<text x="323.6" y="741.87">Tshr_chr12_92526602_92527137</text>
<text x="323.6" y="745.06">Tshr_chr12_92532894_92533378</text>
<text x="323.6" y="748.25">Tshr_chr12_92537024_92538289</text>
</g>
<text x="298.2" y="454.2" font-size="8.4" text-anchor="start" fill="#231f20" transform="rotate(-90 298.2 454.2)">WT</text>
<text x="305.9" y="454.2" font-size="8.4" text-anchor="start" fill="#e9212b" font-style="italic" transform="rotate(-90 305.9 454.2)">TA1a</text>
<text x="312.4" y="454.2" font-size="8.4" text-anchor="start" fill="#3fa55a" font-style="italic" transform="rotate(-90 312.4 454.2)">TA2</text>
<text x="319" y="454.2" font-size="8.4" text-anchor="start" fill="#9b4f9e" font-style="italic" transform="rotate(-90 319 454.2)">TSb1</text>
<line x1="290" y1="456.3" x2="299.4" y2="456.3" stroke="#111" stroke-width="1.5"/>
<line x1="300.6" y1="456.3" x2="306.1" y2="456.3" stroke="#e9212b" stroke-width="1.2"/>
<line x1="307.3" y1="456.3" x2="312.8" y2="456.3" stroke="#3fa55a" stroke-width="1.2"/>
<line x1="314" y1="456.3" x2="319.8" y2="456.3" stroke="#9b4f9e" stroke-width="1.2"/>
<path d="M288.2 458.8 h-1.2 V473.65 l-1.3 0.6 l1.3 0.6 V489.7 h1.2" fill="none" stroke="#222" stroke-width="0.6"/>
<text x="283.3" y="477.2" font-size="9.2" text-anchor="end" fill="#231f20" font-style="italic">Foxe1</text>
<path d="M288.2 490.7 h-1.2 V492.79 l-1.3 0.6 l1.3 0.6 V496.08 h1.2" fill="none" stroke="#222" stroke-width="0.6"/>
<text x="283.3" y="496.2" font-size="9.2" text-anchor="end" fill="#231f20" font-style="italic">Nkx2-1</text>
<path d="M288.2 497.08 h-1.2 V523.1 l-1.3 0.6 l1.3 0.6 V550.31 h1.2" fill="none" stroke="#222" stroke-width="0.6"/>
<text x="283.3" y="528.4" font-size="9.2" text-anchor="end" fill="#231f20" font-style="italic">Pax8</text>
<path d="M288.2 551.31 h-1.2 V566.16 l-1.3 0.6 l1.3 0.6 V582.21 h1.2" fill="none" stroke="#222" stroke-width="0.6"/>
<text x="283.3" y="570.7" font-size="9.2" text-anchor="end" fill="#231f20" font-style="italic">Dio1</text>
<path d="M288.2 583.21 h-1.2 V590.09 l-1.3 0.6 l1.3 0.6 V598.16 h1.2" fill="none" stroke="#222" stroke-width="0.6"/>
<text x="283.3" y="594.7" font-size="9.2" text-anchor="end" fill="#231f20" font-style="italic">Dio2</text>
<path d="M288.2 599.16 h-1.2 V606.04 l-1.3 0.6 l1.3 0.6 V614.12 h1.2" fill="none" stroke="#222" stroke-width="0.6"/>
<text x="283.3" y="611" font-size="9.2" text-anchor="end" fill="#231f20" font-style="italic">Duox1</text>
<path d="M288.2 615.12 h-1.2 V618.8 l-1.3 0.6 l1.3 0.6 V623.69 h1.2" fill="none" stroke="#222" stroke-width="0.6"/>
<text x="283.3" y="620.9" font-size="9.2" text-anchor="end" fill="#231f20" font-style="italic">Duox2</text>
<path d="M288.2 624.69 h-1.2 V628.37 l-1.3 0.6 l1.3 0.6 V633.26 h1.2" fill="none" stroke="#222" stroke-width="0.6"/>
<text x="283.3" y="630.8" font-size="9.2" text-anchor="end" fill="#231f20" font-style="italic">Duoxa1/a2</text>
<polyline points="288.5,637 260.4,637 246,643.4" fill="none" stroke="#111" stroke-width="1.3"/>
<text x="232" y="654.4" font-size="9.5" text-anchor="middle" fill="#231f20" font-style="italic">Slc5a5</text>
<path d="M288.2 640.64 h-1.2 V650.7 l-1.3 0.6 l1.3 0.6 V661.97 h1.2" fill="none" stroke="#222" stroke-width="0.6"/>
<text x="283.3" y="653.2" font-size="9.2" text-anchor="end" fill="#231f20" font-style="italic">Tg</text>
<path d="M288.2 662.97 h-1.2 V671.44 l-1.3 0.6 l1.3 0.6 V681.11 h1.2" fill="none" stroke="#222" stroke-width="0.6"/>
<text x="283.3" y="677.8" font-size="9.2" text-anchor="end" fill="#231f20" font-style="italic">Thra</text>
<path d="M288.2 682.11 h-1.2 V704.93 l-1.3 0.6 l1.3 0.6 V728.96 h1.2" fill="none" stroke="#222" stroke-width="0.6"/>
<text x="283.3" y="711.7" font-size="9.2" text-anchor="end" fill="#231f20" font-style="italic">Tpo</text>
<path d="M288.2 729.96 h-1.2 V738.43 l-1.3 0.6 l1.3 0.6 V748.1 h1.2" fill="none" stroke="#222" stroke-width="0.6"/>
<text x="283.3" y="740" font-size="9.2" text-anchor="end" fill="#231f20" font-style="italic">Tshr</text>
<defs><linearGradient id="cbF" x1="0" y1="0" x2="1" y2="0"><stop offset="0" stop-color="#2a3aa8"/><stop offset="0.25" stop-color="#7f89d2"/><stop offset="0.5" stop-color="#ffffff"/><stop offset="0.75" stop-color="#f08a8c"/><stop offset="1" stop-color="#e0262c"/></linearGradient></defs>
<rect x="290" y="752.3" width="87.8" height="5.3" fill="url(#cbF)"/>
<text x="293.5" y="768" font-size="9.6" text-anchor="middle" fill="#231f20">−2.3</text>
<text x="333.5" y="768" font-size="9.6" text-anchor="middle" fill="#231f20">0</text>
<text x="374" y="768" font-size="9.6" text-anchor="middle" fill="#231f20">2.3</text>
<text x="380" y="430.8" font-size="11" text-anchor="start" fill="#111" font-weight="bold">G</text>
<text x="407.5" y="450.2" font-size="3.9" text-anchor="middle" fill="#111">24,320 kb</text>
<text x="428.5" y="450.2" font-size="3.9" text-anchor="middle" fill="#111">24,330 kb</text>
<text x="449.5" y="450.2" font-size="3.9" text-anchor="middle" fill="#111">24,340 kb</text>
<text x="470" y="450.2" font-size="3.9" text-anchor="middle" fill="#111">24,410 kb</text>
<text x="490" y="450.2" font-size="3.9" text-anchor="middle" fill="#111">24,414 kb</text>
<text x="510" y="450.2" font-size="3.9" text-anchor="middle" fill="#111">24,418 kb</text>
<line x1="404" y1="452.8" x2="404" y2="455.4" stroke="#222" stroke-width="0.5"/>
<line x1="414.3" y1="452.8" x2="414.3" y2="455.4" stroke="#222" stroke-width="0.5"/>
<line x1="424.6" y1="452.8" x2="424.6" y2="455.4" stroke="#222" stroke-width="0.5"/>
<line x1="434.9" y1="452.8" x2="434.9" y2="455.4" stroke="#222" stroke-width="0.5"/>
<line x1="445.2" y1="452.8" x2="445.2" y2="455.4" stroke="#222" stroke-width="0.5"/>
<line x1="465.5" y1="452.8" x2="465.5" y2="455.4" stroke="#222" stroke-width="0.5"/>
<line x1="475.6" y1="452.8" x2="475.6" y2="455.4" stroke="#222" stroke-width="0.5"/>
<line x1="485.7" y1="452.8" x2="485.7" y2="455.4" stroke="#222" stroke-width="0.5"/>
<line x1="495.8" y1="452.8" x2="495.8" y2="455.4" stroke="#222" stroke-width="0.5"/>
<line x1="505.9" y1="452.8" x2="505.9" y2="455.4" stroke="#222" stroke-width="0.5"/>
<line x1="516" y1="452.8" x2="516" y2="455.4" stroke="#222" stroke-width="0.5"/>
<rect x="395.5" y="456.4" width="124.5" height="3.4" fill="#dedede"/>
<line x1="395.5" y1="456.5" x2="520" y2="456.5" stroke="#222" stroke-width="0.9"/>
<line x1="395.5" y1="459.8" x2="520" y2="459.8" stroke="#222" stroke-width="1"/>
<rect x="455" y="452.5" width="6" height="10" fill="#fff"/>
<line x1="455.3" y1="462.5" x2="458.3" y2="452.8" stroke="#111" stroke-width="1"/>
<line x1="458" y1="462.5" x2="461" y2="452.8" stroke="#111" stroke-width="1"/>
<line x1="395.5" y1="464.2" x2="428.8" y2="464.2" stroke="#6f7bc8" stroke-width="0.9"/>
<path d="M400 463.2 l-1 1 l1 1" fill="none" stroke="#6f7bc8" stroke-width="0.4"/>
<path d="M405 463.2 l-1 1 l1 1" fill="none" stroke="#6f7bc8" stroke-width="0.4"/>
<path d="M410 463.2 l-1 1 l1 1" fill="none" stroke="#6f7bc8" stroke-width="0.4"/>
<path d="M415 463.2 l-1 1 l1 1" fill="none" stroke="#6f7bc8" stroke-width="0.4"/>
<path d="M420 463.2 l-1 1 l1 1" fill="none" stroke="#6f7bc8" stroke-width="0.4"/>
<path d="M425 463.2 l-1 1 l1 1" fill="none" stroke="#6f7bc8" stroke-width="0.4"/>
<line x1="416" y1="469.6" x2="427.6" y2="469.6" stroke="#111" stroke-width="1.3"/>
<path d="M413.4 469.6 l4.2 -2.6 v5.2z" fill="#111"/>
<text x="431" y="473.3" font-size="8.9" text-anchor="start" fill="#111" font-style="italic">Pax8</text>
<line x1="395.5" y1="473.9" x2="520" y2="473.9" stroke="#e3e3e3" stroke-width="0.5"/>
<polygon points="395.5,487 395.5,486.99 396,486.96 396.5,486.82 397,485.67 397.5,478.63 398,481.29 398.5,485.4 399,485.02 399.5,485.59 400,485.28 400.5,486.47 401,486.32 401.5,486.41 402,486.48 402.5,486.99 403,487 403.5,487 404,486.82 404.5,486.97 405,487 405.5,487 406,486.59 406.5,486.76 407,486.51 407.5,487 408,486.61 408.5,487 409,486.91 409.5,486.62 410,487 410.5,486.74 411,486.63 411.5,487 412,487 412.5,486.69 413,486.54 413.5,486.84 414,486.93 414.5,487 415,486.51 415.5,487 416,487 416.5,487 417,486.54 417.5,487 418,486.63 418.5,487 419,486.78 419.5,487 420,486.99 420.5,486.98 421,486.96 421.5,486.94 422,486.69 422.5,486.35 423,486.62 423.5,486.49 424,486.42 424.5,485.52 425,485.67 425.5,485.47 426,485.5 426.5,485.24 427,482.87 427.5,480.33 428,475.99 428.5,481.76 429,484.46 429.5,485.87 430,486.27 430.5,486.58 431,486.66 431.5,486.83 432,486.87 432.5,486.92 433,486.97 433.5,486.99 434,486.99 434.5,486.99 435,486.45 435.5,485.96 436,484.62 436.5,484.41 437,486.1 437.5,486.92 438,487 438.5,486.76 439,486.93 439.5,486.9 440,487 440.5,487 441,486.55 441.5,487 442,487 442.5,487 443,486.69 443.5,487 444,487 444.5,487 445,487 445.5,486.93 446,487 446.5,487 447,486.55 447.5,486.71 448,486.66 448.5,486.71 449,486.39 449.5,486.74 450,486.39 450.5,486.33 451,485.95 451.5,485.86 452,485.32 452.5,484.9 453,480.91 453.5,480.86 454,485.77 454.5,486.48 455,486.88 455.5,486.94 456,486.98 456.5,486.99 457,487 457.5,487 458,486.73 458.5,486.63 459,486.87 459.5,487 460,487 460.5,487 461,487 461.5,487 462,486.99 462.5,486.36 463,484.96 463.5,482.44 464,479.52 464.5,484.17 465,484.03 465.5,482.99 466,482.03 466.5,481.57 467,483.4 467.5,484.28 468,484.62 468.5,484.69 469,485.82 469.5,485.72 470,486.01 470.5,486.7 471,486.51 471.5,486.75 472,486.69 472.5,486.98 473,486.98 473.5,486.95 474,486.89 474.5,486.44 475,486.68 475.5,486.38 476,486.13 476.5,486.12 477,486.07 477.5,485.86 478,486.22 478.5,486.49 479,486.23 479.5,486.53 480,486.9 480.5,486.55 481,486.98 481.5,486.51 482,486.92 482.5,486.93 483,486.54 483.5,486.61 484,486.35 484.5,486.47 485,486.01 485.5,485.94 486,485.82 486.5,485.86 487,486.13 487.5,486 488,486.57 488.5,486.82 489,486.85 489.5,486.95 490,486.9 490.5,486.55 491,486.86 491.5,486.88 492,486.54 492.5,487 493,486.99 493.5,486.94 494,486.63 494.5,484.92 495,479.33 495.5,479.1 496,477.54 496.5,480.41 497,482.25 497.5,480.95 498,481.63 498.5,482.74 499,483.35 499.5,484.6 500,485.78 500.5,485.23 501,485.84 501.5,485.71 502,485.8 502.5,486.46 503,486.57 503.5,486.67 504,486.46 504.5,486.87 505,486.88 505.5,486.95 506,486.97 506.5,486.72 507,486.99 507.5,487 508,487 508.5,486.99 509,486.91 509.5,486.56 510,486.77 510.5,486.74 511,486.52 511.5,485.99 512,486.07 512.5,485.61 513,485.78 513.5,485.56 514,485.03 514.5,483.64 515,481.38 515.5,481.6 516,484.17 516.5,486.39 517,486.57 517.5,486.6 518,486.97 518.5,486.57 519,487 519.5,487 520,486.99 520,487" fill="#111111"/>
<line x1="395.5" y1="486.9" x2="520" y2="486.9" stroke="#111111" stroke-width="0.5" stroke-dasharray="1.2 2.2" opacity="0.5"/>
<text x="395" y="479.4" font-size="5.6" text-anchor="start" fill="#111">[0-20]</text>
<line x1="395.5" y1="487.4" x2="520" y2="487.4" stroke="#e3e3e3" stroke-width="0.5"/>
<polygon points="395.5,500.5 395.5,500.5 396,500.33 396.5,500.46 397,499.98 397.5,498.06 398,498.85 398.5,499.96 399,499.88 399.5,500.01 400,499.89 400.5,500.02 401,500.43 401.5,500.47 402,500.41 402.5,500.5 403,500.5 403.5,500.43 404,500.5 404.5,500.5 405,500.25 405.5,500.45 406,500.5 406.5,500.26 407,500.5 407.5,500.5 408,500.5 408.5,500.5 409,500.4 409.5,500.39 410,500.5 410.5,500.5 411,500.5 411.5,500.5 412,500.5 412.5,500.5 413,500.5 413.5,500.47 414,500.5 414.5,500.5 415,500.5 415.5,500.5 416,500.5 416.5,500.5 417,500.5 417.5,500.5 418,500.34 418.5,500.21 419,500.5 419.5,500.3 420,500.5 420.5,500.46 421,500.49 421.5,500.21 422,500.39 422.5,500.44 423,500.43 423.5,500.32 424,500.29 424.5,500.17 425,500.17 425.5,500.07 426,499.88 426.5,499.73 427,499.65 427.5,498.05 428,497.29 428.5,498.12 429,499.83 429.5,500.09 430,500.32 430.5,500.35 431,500.42 431.5,500.43 432,500.43 432.5,500.3 433,500.49 433.5,500.49 434,500.5 434.5,500.5 435,500.45 435.5,500.25 436,499.74 436.5,499.76 437,500.33 437.5,500.44 438,500.29 438.5,500.5 439,500.27 439.5,500.46 440,500.28 440.5,500.41 441,500.5 441.5,500.5 442,500.25 442.5,500.37 443,500.5 443.5,500.47 444,500.5 444.5,500.22 445,500.26 445.5,500.5 446,500.42 446.5,500.34 447,500.21 447.5,500.5 448,500.21 448.5,500.48 449,500.23 449.5,500.42 450,500.32 450.5,500.24 451,500.14 451.5,500.04 452,499.67 452.5,499.59 453,499.08 453.5,499.07 454,499.83 454.5,500.41 455,500.46 455.5,500.35 456,500.23 456.5,500.49 457,500.5 457.5,500.43 458,500.5 458.5,500.37 459,500.5 459.5,500.5 460,500.5 460.5,500.5 461,500.31 461.5,500.36 462,500.5 462.5,500.44 463,499.99 463.5,498.32 464,498.01 464.5,499.58 465,499.79 465.5,499.62 466,499.24 466.5,499.37 467,499.5 467.5,499.9 468,499.87 468.5,499.86 469,499.85 469.5,500.26 470,500.28 470.5,500.39 471,500.45 471.5,500.36 472,500.49 472.5,500.5 473,500.39 473.5,500.49 474,500.24 474.5,500.17 475,500.18 475.5,500.08 476,500.26 476.5,500.23 477,500.13 477.5,500.03 478,500.25 478.5,500.36 479,500.41 479.5,500.43 480,500.47 480.5,500.28 481,500.36 481.5,500.5 482,500.3 482.5,500.25 483,500.47 483.5,500.42 484,500.34 484.5,500.26 485,500.13 485.5,500.07 486,500.13 486.5,500.08 487,500.2 487.5,500.29 488,500.25 488.5,500.42 489,500.46 489.5,500.48 490,500.46 490.5,500.23 491,500.5 491.5,500.5 492,500.5 492.5,500.31 493,500.5 493.5,500.49 494,500.37 494.5,499.58 495,498.66 495.5,496.91 496,496.79 496.5,498.8 497,498.62 497.5,498.78 498,499.08 498.5,499.3 499,499.43 499.5,499.66 500,500.12 500.5,500.18 501,500.12 501.5,500.22 502,500.17 502.5,500.33 503,500.13 503.5,500.13 504,500.41 504.5,500.45 505,500.48 505.5,500.49 506,500.49 506.5,500.5 507,500.5 507.5,500.29 508,500.2 508.5,500.47 509,500.49 509.5,500.27 510,500.47 510.5,500.41 511,500.1 511.5,500.29 512,500.16 512.5,500.04 513,499.88 513.5,500.17 514,499.98 514.5,499.73 515,498.86 515.5,499.57 516,499.91 516.5,500.3 517,500.46 517.5,500.5 518,500.5 518.5,500.5 519,500.5 519.5,500.5 520,500.5 520,500.5" fill="#e8392b"/>
<line x1="395.5" y1="500.4" x2="520" y2="500.4" stroke="#e8392b" stroke-width="0.5" stroke-dasharray="1.2 2.2" opacity="0.5"/>
<text x="395" y="492.9" font-size="5.6" text-anchor="start" fill="#111">[0-20]</text>
<line x1="395.5" y1="500.7" x2="520" y2="500.7" stroke="#e3e3e3" stroke-width="0.5"/>
<polygon points="395.5,513.8 395.5,513.8 396,513.74 396.5,513.78 397,513.65 397.5,512.88 398,513.42 398.5,513.6 399,513.6 399.5,513.42 400,513.69 400.5,513.72 401,513.69 401.5,513.77 402,513.8 402.5,513.8 403,513.8 403.5,513.8 404,513.8 404.5,513.8 405,513.8 405.5,513.8 406,513.53 406.5,513.78 407,513.69 407.5,513.8 408,513.58 408.5,513.51 409,513.8 409.5,513.8 410,513.8 410.5,513.8 411,513.8 411.5,513.8 412,513.8 412.5,513.8 413,513.8 413.5,513.8 414,513.8 414.5,513.72 415,513.8 415.5,513.8 416,513.77 416.5,513.76 417,513.76 417.5,513.8 418,513.8 418.5,513.52 419,513.8 419.5,513.8 420,513.8 420.5,513.8 421,513.8 421.5,513.67 422,513.79 422.5,513.54 423,513.78 423.5,513.76 424,513.51 424.5,513.46 425,513.46 425.5,513.69 426,513.68 426.5,513.55 427,513.53 427.5,513.06 428,512.85 428.5,513.25 429,513.52 429.5,513.7 430,513.64 430.5,513.64 431,513.77 431.5,513.52 432,513.79 432.5,513.79 433,513.71 433.5,513.8 434,513.65 434.5,513.8 435,513.79 435.5,513.69 436,513.43 436.5,513.42 437,513.72 437.5,513.79 438,513.77 438.5,513.8 439,513.61 439.5,513.8 440,513.8 440.5,513.59 441,513.8 441.5,513.8 442,513.66 442.5,513.8 443,513.8 443.5,513.8 444,513.8 444.5,513.8 445,513.58 445.5,513.8 446,513.68 446.5,513.8 447,513.8 447.5,513.8 448,513.79 448.5,513.79 449,513.79 449.5,513.77 450,513.74 450.5,513.55 451,513.71 451.5,513.71 452,513.67 452.5,513.3 453,512.98 453.5,513.37 454,513.55 454.5,513.48 455,513.78 455.5,513.79 456,513.72 456.5,513.58 457,513.71 457.5,513.8 458,513.8 458.5,513.8 459,513.8 459.5,513.72 460,513.78 460.5,513.51 461,513.8 461.5,513.8 462,513.7 462.5,513.78 463,513.53 463.5,513.36 464,513.14 464.5,513.33 465,513.35 465.5,513.47 466,513.39 466.5,513.3 467,513.5 467.5,513.57 468,513.52 468.5,513.4 469,513.67 469.5,513.7 470,513.74 470.5,513.76 471,513.64 471.5,513.79 472,513.8 472.5,513.77 473,513.65 473.5,513.71 474,513.79 474.5,513.67 475,513.76 475.5,513.67 476,513.7 476.5,513.71 477,513.49 477.5,513.69 478,513.71 478.5,513.72 479,513.77 479.5,513.57 480,513.79 480.5,513.79 481,513.8 481.5,513.8 482,513.8 482.5,513.57 483,513.79 483.5,513.78 484,513.75 484.5,513.72 485,513.71 485.5,513.7 486,513.42 486.5,513.68 487,513.69 487.5,513.75 488,513.75 488.5,513.77 489,513.66 489.5,513.79 490,513.57 490.5,513.8 491,513.8 491.5,513.8 492,513.8 492.5,513.8 493,513.8 493.5,513.79 494,513.49 494.5,513.35 495,513.23 495.5,512.69 496,512.73 496.5,513.13 497,513.13 497.5,513.07 498,513.37 498.5,513.25 499,513.31 499.5,513.64 500,513.61 500.5,513.35 501,513.71 501.5,513.62 502,513.69 502.5,513.72 503,513.62 503.5,513.76 504,513.78 504.5,513.76 505,513.79 505.5,513.51 506,513.56 506.5,513.8 507,513.5 507.5,513.8 508,513.8 508.5,513.75 509,513.68 509.5,513.8 510,513.69 510.5,513.52 511,513.73 511.5,513.71 512,513.71 512.5,513.71 513,513.63 513.5,513.7 514,513.58 514.5,513.51 515,513.18 515.5,513.27 516,513.58 516.5,513.75 517,513.79 517.5,513.5 518,513.8 518.5,513.8 519,513.72 519.5,513.8 520,513.7 520,513.8" fill="#3aaa4a"/>
<line x1="395.5" y1="513.7" x2="520" y2="513.7" stroke="#3aaa4a" stroke-width="0.5" stroke-dasharray="1.2 2.2" opacity="0.5"/>
<text x="395" y="506.2" font-size="5.6" text-anchor="start" fill="#111">[0-20]</text>
<line x1="395.5" y1="513.9" x2="520" y2="513.9" stroke="#e3e3e3" stroke-width="0.5"/>
<polygon points="395.5,527 395.5,526.93 396,526.91 396.5,526.95 397,526.36 397.5,523.9 398,525.6 398.5,526.28 399,526.4 399.5,526.41 400,526.41 400.5,526.59 401,526.91 401.5,526.7 402,526.85 402.5,527 403,526.91 403.5,527 404,527 404.5,527 405,527 405.5,527 406,527 406.5,526.87 407,526.79 407.5,526.99 408,527 408.5,527 409,527 409.5,526.7 410,527 410.5,526.73 411,527 411.5,527 412,527 412.5,526.92 413,527 413.5,527 414,527 414.5,526.97 415,527 415.5,527 416,527 416.5,527 417,526.77 417.5,526.71 418,527 418.5,527 419,526.96 419.5,526.96 420,527 420.5,526.95 421,526.79 421.5,526.98 422,526.96 422.5,526.93 423,526.91 423.5,526.85 424,526.64 424.5,526.68 425,526.58 425.5,526.48 426,526.27 426.5,526.31 427,525.87 427.5,524.22 428,522.83 428.5,524.22 429,526.04 429.5,526.71 430,526.72 430.5,526.87 431,526.89 431.5,526.94 432,526.96 432.5,526.94 433,526.73 433.5,526.71 434,527 434.5,526.89 435,526.67 435.5,526.59 436,526.26 436.5,526.06 437,526.79 437.5,526.96 438,526.81 438.5,526.89 439,527 439.5,527 440,526.83 440.5,527 441,527 441.5,527 442,526.74 442.5,526.73 443,527 443.5,526.97 444,527 444.5,526.89 445,527 445.5,527 446,526.94 446.5,526.86 447,526.82 447.5,526.83 448,526.99 448.5,526.98 449,526.93 449.5,526.91 450,526.84 450.5,526.67 451,526.71 451.5,526.55 452,526.6 452.5,526.01 453,525.27 453.5,525.71 454,526.59 454.5,526.9 455,526.94 455.5,526.98 456,526.99 456.5,527 457,527 457.5,527 458,527 458.5,526.87 459,527 459.5,527 460,527 460.5,527 461,527 461.5,527 462,527 462.5,526.92 463,526.41 463.5,524.97 464,524.07 464.5,525.61 465,526.31 465.5,525.6 466,525.45 466.5,525.2 467,525.64 467.5,526.2 468,526.28 468.5,526.5 469,526.28 469.5,526.66 470,526.7 470.5,526.87 471,526.83 471.5,526.97 472,526.99 472.5,526.84 473,526.97 473.5,526.98 474,526.95 474.5,526.93 475,526.7 475.5,526.66 476,526.66 476.5,526.5 477,526.48 477.5,526.67 478,526.49 478.5,526.78 479,526.61 479.5,526.94 480,526.97 480.5,526.93 481,526.95 481.5,526.94 482,526.99 482.5,526.98 483,526.96 483.5,526.91 484,526.71 484.5,526.72 485,526.61 485.5,526.38 486,526.49 486.5,526.58 487,526.67 487.5,526.73 488,526.82 488.5,526.86 489,526.95 489.5,526.75 490,526.99 490.5,527 491,527 491.5,527 492,527 492.5,527 493,526.73 493.5,526.79 494,526.85 494.5,526.18 495,524.55 495.5,523.88 496,523.56 496.5,524.29 497,525.17 497.5,524.55 498,525.13 498.5,525.31 499,526.15 499.5,526.05 500,526.48 500.5,526.56 501,526.53 501.5,526.72 502,526.62 502.5,526.8 503,526.71 503.5,526.82 504,526.88 504.5,526.67 505,526.96 505.5,526.99 506,526.99 506.5,527 507,527 507.5,526.95 508,527 508.5,526.9 509,526.99 509.5,526.98 510,526.96 510.5,526.91 511,526.71 511.5,526.81 512,526.54 512.5,526.5 513,526.47 513.5,526.62 514,526.26 514.5,525.6 515,525.03 515.5,524.85 516,526.1 516.5,526.69 517,526.97 517.5,526.99 518,527 518.5,526.93 519,527 519.5,527 520,527 520,527" fill="#b0208f"/>
<line x1="395.5" y1="526.9" x2="520" y2="526.9" stroke="#b0208f" stroke-width="0.5" stroke-dasharray="1.2 2.2" opacity="0.5"/>
<text x="395" y="519.4" font-size="5.6" text-anchor="start" fill="#111">[0-20]</text>
<rect x="455.5" y="474" width="5" height="54" fill="#fff"/>
<text x="427.5" y="543" font-size="5.2" text-anchor="middle" fill="#111">46,356 kb</text>
<text x="463.8" y="543" font-size="5.2" text-anchor="middle" fill="#111">46,357 kb</text>
<text x="499.5" y="543" font-size="5.2" text-anchor="middle" fill="#111">46,358 kb</text>
<line x1="407" y1="545" x2="407" y2="548.6" stroke="#222" stroke-width="0.6"/>
<line x1="425" y1="545" x2="425" y2="548.6" stroke="#222" stroke-width="0.6"/>
<line x1="443.2" y1="545" x2="443.2" y2="548.6" stroke="#222" stroke-width="0.6"/>
<line x1="461.3" y1="545" x2="461.3" y2="548.6" stroke="#222" stroke-width="0.6"/>
<line x1="479.3" y1="545" x2="479.3" y2="548.6" stroke="#222" stroke-width="0.6"/>
<line x1="497.5" y1="545" x2="497.5" y2="548.6" stroke="#222" stroke-width="0.6"/>
<line x1="515.7" y1="545" x2="515.7" y2="548.6" stroke="#222" stroke-width="0.6"/>
<line x1="395.5" y1="548.8" x2="520" y2="548.8" stroke="#111" stroke-width="0.9"/>
<line x1="395.5" y1="552" x2="520" y2="552" stroke="#111" stroke-width="1.6"/>
<rect x="463.3" y="554.7" width="40.5" height="4.6" fill="#2536a0"/>
<path d="M467 556 l1 1 l-1 1" fill="none" stroke="#9aa5e6" stroke-width="0.4"/>
<path d="M471 556 l1 1 l-1 1" fill="none" stroke="#9aa5e6" stroke-width="0.4"/>
<path d="M475 556 l1 1 l-1 1" fill="none" stroke="#9aa5e6" stroke-width="0.4"/>
<path d="M479 556 l1 1 l-1 1" fill="none" stroke="#9aa5e6" stroke-width="0.4"/>
<path d="M483 556 l1 1 l-1 1" fill="none" stroke="#9aa5e6" stroke-width="0.4"/>
<path d="M487 556 l1 1 l-1 1" fill="none" stroke="#9aa5e6" stroke-width="0.4"/>
<path d="M491 556 l1 1 l-1 1" fill="none" stroke="#9aa5e6" stroke-width="0.4"/>
<path d="M495 556 l1 1 l-1 1" fill="none" stroke="#9aa5e6" stroke-width="0.4"/>
<path d="M499 556 l1 1 l-1 1" fill="none" stroke="#9aa5e6" stroke-width="0.4"/>
<line x1="464.5" y1="562.6" x2="475" y2="562.6" stroke="#111" stroke-width="1.3"/>
<path d="M478.2 562.6 l-4.2 -2.6 v5.2z" fill="#111"/>
<text x="427.4" y="564.4" font-size="8.8" text-anchor="start" fill="#111" font-style="italic">Foxe1</text>
<polygon points="395.5,578.8 395.5,578.8 396,578.43 396.5,578.54 397,578.8 397.5,578.8 398,578.8 398.5,578.79 399,578.75 399.5,578.69 400,578.62 400.5,578.04 401,578.15 401.5,577.39 402,577.34 402.5,576.36 403,577.09 403.5,576.5 404,577.06 404.5,577.67 405,577.58 405.5,577.61 406,577.31 406.5,576.82 407,576.52 407.5,574.84 408,575.2 408.5,576.27 409,576.3 409.5,577.42 410,577.12 410.5,577.81 411,577.81 411.5,577.17 412,576.33 412.5,575.68 413,575.09 413.5,575.43 414,574.61 414.5,575.05 415,576.6 415.5,576.45 416,577.1 416.5,577.79 417,577.52 417.5,576.4 418,576.57 418.5,575.63 419,574.24 419.5,573.46 420,572.89 420.5,574.77 421,574.84 421.5,575.01 422,575.04 422.5,576.51 423,576.3 423.5,576.57 424,576.4 424.5,575.63 425,575.23 425.5,575.2 426,574.29 426.5,574.6 427,574.32 427.5,575.12 428,576.71 428.5,576.5 429,577.54 429.5,577.18 430,576.19 430.5,575.79 431,574.88 431.5,573.35 432,574.17 432.5,575.41 433,574.99 433.5,575.33 434,576.09 434.5,576.37 435,576.49 435.5,576 436,574.17 436.5,571.85 437,572.22 437.5,573.83 438,573.1 438.5,575.54 439,576.82 439.5,577.84 440,578.2 440.5,578.48 441,578.16 441.5,577.23 442,575.51 442.5,573.95 443,569.77 443.5,569.57 444,570.09 444.5,569.55 445,571.01 445.5,574.28 446,575.65 446.5,573.17 447,574.27 447.5,572.77 448,570.71 448.5,573.29 449,574.02 449.5,574.64 450,576.03 450.5,576.48 451,576.25 451.5,574.27 452,574.89 452.5,572.89 453,574.35 453.5,572.08 454,575.01 454.5,575.11 455,576.21 455.5,576.21 456,576.06 456.5,576.01 457,575.04 457.5,574.19 458,574.41 458.5,574.86 459,574.43 459.5,576.21 460,576.98 460.5,577.02 461,576.11 461.5,576.55 462,574.31 462.5,574.08 463,575.28 463.5,574.93 464,575.58 464.5,575.79 465,576.53 465.5,576.92 466,576.96 466.5,576.64 467,575.94 467.5,575.49 468,575.06 468.5,575.06 469,575.61 469.5,575.65 470,576.28 470.5,577.17 471,577.36 471.5,576.07 472,575.49 472.5,574.83 473,576.07 473.5,575.2 474,575.54 474.5,576.52 475,576.85 475.5,577.47 476,578.1 476.5,578.41 477,578.27 477.5,578.24 478,578 478.5,577.74 479,577.79 479.5,577.85 480,578 480.5,578.19 481,577.98 481.5,578.17 482,578.09 482.5,578.32 483,578.54 483.5,578.25 484,578.68 484.5,578.33 485,578.75 485.5,578.71 486,578.49 486.5,578.79 487,578.8 487.5,578.78 488,578.72 488.5,578.79 489,578.79 489.5,578.78 490,578.77 490.5,578.73 491,578.41 491.5,578.65 492,578.31 492.5,578.47 493,578.5 493.5,578.41 494,578.43 494.5,578.27 495,578.36 495.5,578.13 496,578.33 496.5,578.17 497,578.33 497.5,578.46 498,578.6 498.5,578.64 499,578.72 499.5,578.73 500,578.37 500.5,578.77 501,578.79 501.5,578.79 502,578.79 502.5,578.56 503,578.76 503.5,578.73 504,578.72 504.5,578.37 505,578.54 505.5,578.48 506,578.48 506.5,578.21 507,578.2 507.5,578.28 508,578.12 508.5,578.18 509,577.9 509.5,578.15 510,578.36 510.5,578.54 511,578.58 511.5,578.63 512,578.39 512.5,578.5 513,578.77 513.5,578.78 514,578.79 514.5,578.58 515,578.71 515.5,578.79 516,578.8 516.5,578.8 517,578.45 517.5,578.8 518,578.8 518.5,578.55 519,578.8 519.5,578.51 520,578.8 520,578.8" fill="#111111"/>
<line x1="395.5" y1="578.7" x2="520" y2="578.7" stroke="#111111" stroke-width="0.5" stroke-dasharray="1.2 2.2" opacity="0.5"/>
<text x="395" y="571.4" font-size="5.6" text-anchor="start" fill="#111">[0-30]</text>
<polygon points="395.5,591.8 395.5,591.58 396,591.67 396.5,591.8 397,591.8 397.5,591.61 398,591.8 398.5,591.68 399,591.79 399.5,591.76 400,591.71 400.5,591.63 401,591.49 401.5,591.18 402,591.39 402.5,591.04 403,591.1 403.5,591.2 404,591.2 404.5,591.13 405,591.41 405.5,591.37 406,591.41 406.5,591.23 407,591.2 407.5,590.62 408,590.9 408.5,590.6 409,590.95 409.5,591.36 410,591.33 410.5,591.51 411,591.17 411.5,590.99 412,590.92 412.5,590.37 413,590.78 413.5,590.64 414,590.76 414.5,590.59 415,590.74 415.5,591.13 416,591.36 416.5,591.35 417,591.37 417.5,590.88 418,590.79 418.5,590.83 419,590.44 419.5,590.54 420,589.92 420.5,590.33 421,590.44 421.5,590.53 422,590.6 422.5,590.84 423,591.02 423.5,591 424,591.09 424.5,590.8 425,590.53 425.5,590.34 426,590.46 426.5,590.34 427,590.37 427.5,590.42 428,591.23 428.5,591.13 429,591.36 429.5,591.26 430,591.24 430.5,590.9 431,590.81 431.5,589.73 432,590.29 432.5,590.52 433,590.76 433.5,590.71 434,591.25 434.5,591.12 435,591.02 435.5,590.44 436,589.77 436.5,589.48 437,589.41 437.5,589.74 438,589.69 438.5,590.68 439,591.23 439.5,591.49 440,591.63 440.5,591.69 441,591.63 441.5,591.29 442,590.7 442.5,589.96 443,589.57 443.5,589.03 444,589.06 444.5,589.31 445,589.66 445.5,589.89 446,590.29 446.5,590.17 447,589.96 447.5,589.88 448,589.69 448.5,589.46 449,590.07 449.5,590.16 450,590.33 450.5,590.83 451,590.83 451.5,590.93 452,590.37 452.5,590.07 453,589.49 453.5,590.3 454,590.58 454.5,590.39 455,591.09 455.5,591 456,590.91 456.5,590.8 457,590.86 457.5,590.57 458,590.6 458.5,590.46 459,590.56 459.5,590.89 460,591.05 460.5,591.06 461,591.06 461.5,590.52 462,590.88 462.5,590.61 463,589.96 463.5,590.4 464,590.76 464.5,590.77 465,591.29 465.5,591.02 466,591.07 466.5,590.76 467,590.57 467.5,590.2 468,590.61 468.5,590.65 469,590.8 469.5,590.96 470,590.99 470.5,591.3 471,591.26 471.5,590.91 472,591.02 472.5,590.92 473,590.79 473.5,590.55 474,591.04 474.5,591.18 475,591.12 475.5,591.48 476,591.61 476.5,591.44 477,591.6 477.5,591.68 478,591.61 478.5,591.62 479,591.5 479.5,591.41 480,591.6 480.5,591.47 481,591.59 481.5,591.55 482,591.5 482.5,591.46 483,591.54 483.5,591.57 484,591.72 484.5,591.6 485,591.78 485.5,591.79 486,591.79 486.5,591.8 487,591.8 487.5,591.8 488,591.8 488.5,591.8 489,591.8 489.5,591.79 490,591.54 490.5,591.78 491,591.77 491.5,591.71 492,591.71 492.5,591.69 493,591.66 493.5,591.44 494,591.67 494.5,591.52 495,591.39 495.5,591.6 496,591.4 496.5,591.45 497,591.51 497.5,591.73 498,591.74 498.5,591.76 499,591.71 499.5,591.63 500,591.79 500.5,591.63 501,591.8 501.5,591.8 502,591.8 502.5,591.7 503,591.79 503.5,591.63 504,591.77 504.5,591.75 505,591.58 505.5,591.61 506,591.66 506.5,591.68 507,591.61 507.5,591.59 508,591.57 508.5,591.43 509,591.46 509.5,591.69 510,591.69 510.5,591.72 511,591.72 511.5,591.58 512,591.77 512.5,591.79 513,591.63 513.5,591.72 514,591.68 514.5,591.79 515,591.8 515.5,591.8 516,591.8 516.5,591.8 517,591.8 517.5,591.8 518,591.8 518.5,591.8 519,591.8 519.5,591.59 520,591.74 520,591.8" fill="#e8392b"/>
<line x1="395.5" y1="591.7" x2="520" y2="591.7" stroke="#e8392b" stroke-width="0.5" stroke-dasharray="1.2 2.2" opacity="0.5"/>
<text x="395" y="584.4" font-size="5.6" text-anchor="start" fill="#111">[0-30]</text>
<polygon points="395.5,605 395.5,605 396,605 396.5,605 397,605 397.5,604.79 398,605 398.5,605 399,605 399.5,604.99 400,604.99 400.5,604.98 401,604.78 401.5,604.95 402,604.81 402.5,604.89 403,604.87 403.5,604.69 404,604.9 404.5,604.7 405,604.93 405.5,604.92 406,604.92 406.5,604.9 407,604.84 407.5,604.78 408,604.7 408.5,604.85 409,604.89 409.5,604.78 410,604.93 410.5,604.95 411,604.81 411.5,604.71 412,604.88 412.5,604.78 413,604.77 413.5,604.77 414,604.78 414.5,604.8 415,604.85 415.5,604.67 416,604.93 416.5,604.87 417,604.82 417.5,604.9 418,604.7 418.5,604.86 419,604.58 419.5,604.76 420,604.67 420.5,604.69 421,604.79 421.5,604.84 422,604.83 422.5,604.86 423,604.66 423.5,604.91 424,604.87 424.5,604.85 425,604.71 425.5,604.62 426,604.79 426.5,604.83 427,604.83 427.5,604.74 428,604.86 428.5,604.79 429,604.93 429.5,604.87 430,604.89 430.5,604.84 431,604.81 431.5,604.71 432,604.68 432.5,604.72 433,604.77 433.5,604.77 434,604.71 434.5,604.9 435,604.91 435.5,604.79 436,604.78 436.5,604.75 437,604.62 437.5,604.66 438,604.73 438.5,604.81 439,604.84 439.5,604.72 440,604.75 440.5,604.9 441,604.97 441.5,604.93 442,604.87 442.5,604.67 443,604.5 443.5,604.54 444,604.59 444.5,604.52 445,604.4 445.5,604.76 446,604.78 446.5,604.74 447,604.65 447.5,604.39 448,604.49 448.5,604.75 449,604.55 449.5,604.75 450,604.84 450.5,604.87 451,604.89 451.5,604.84 452,604.68 452.5,604.76 453,604.78 453.5,604.61 454,604.73 454.5,604.67 455,604.81 455.5,604.69 456,604.79 456.5,604.82 457,604.8 457.5,604.72 458,604.72 458.5,604.5 459,604.77 459.5,604.82 460,604.7 460.5,604.92 461,604.87 461.5,604.68 462,604.81 462.5,604.76 463,604.73 463.5,604.59 464,604.74 464.5,604.88 465,604.91 465.5,604.72 466,604.7 466.5,604.87 467,604.79 467.5,604.58 468,604.76 468.5,604.7 469,604.86 469.5,604.85 470,604.73 470.5,604.89 471,604.84 471.5,604.89 472,604.63 472.5,604.83 473,604.82 473.5,604.78 474,604.85 474.5,604.77 475,604.88 475.5,604.95 476,604.96 476.5,604.95 477,604.97 477.5,604.98 478,604.98 478.5,604.96 479,604.76 479.5,604.73 480,604.96 480.5,604.96 481,604.8 481.5,604.89 482,604.97 482.5,604.97 483,604.97 483.5,604.99 484,604.99 484.5,604.99 485,604.79 485.5,604.88 486,605 486.5,604.88 487,605 487.5,605 488,605 488.5,605 489,605 489.5,605 490,605 490.5,604.81 491,605 491.5,604.99 492,604.91 492.5,604.99 493,604.89 493.5,604.98 494,604.72 494.5,604.97 495,604.97 495.5,604.97 496,604.97 496.5,604.98 497,604.94 497.5,604.98 498,604.76 498.5,604.99 499,605 499.5,604.92 500,604.96 500.5,604.89 501,605 501.5,605 502,605 502.5,605 503,604.86 503.5,605 504,605 504.5,604.95 505,604.99 505.5,604.99 506,604.91 506.5,604.92 507,604.97 507.5,604.97 508,604.98 508.5,604.96 509,604.97 509.5,604.76 510,604.98 510.5,604.83 511,604.95 511.5,604.99 512,604.95 512.5,604.85 513,605 513.5,604.91 514,604.97 514.5,604.99 515,604.8 515.5,604.81 516,605 516.5,605 517,605 517.5,605 518,605 518.5,605 519,605 519.5,605 520,604.85 520,605" fill="#3aaa4a"/>
<line x1="395.5" y1="604.9" x2="520" y2="604.9" stroke="#3aaa4a" stroke-width="0.5" stroke-dasharray="1.2 2.2" opacity="0.5"/>
<text x="395" y="597.6" font-size="5.6" text-anchor="start" fill="#111">[0-30]</text>
<polygon points="395.5,618.8 395.5,618.75 396,618.74 396.5,618.8 397,618.8 397.5,618.57 398,618.64 398.5,618.56 399,618.79 399.5,618.76 400,618.7 400.5,618.46 401,618.41 401.5,618.36 402,617.64 402.5,617.99 403,617.87 403.5,617.81 404,618.14 404.5,617.94 405,618.28 405.5,618.25 406,618.29 406.5,617.85 407,617.31 407.5,617.33 408,617.36 408.5,617.13 409,617.79 409.5,618.06 410,618.05 410.5,617.97 411,618.16 411.5,617.93 412,617.91 412.5,617.57 413,616.48 413.5,617.11 414,616.46 414.5,617 415,617.79 415.5,617.8 416,618.18 416.5,618.01 417,618.11 417.5,617.89 418,617.68 418.5,617.39 419,616.49 419.5,616.59 420,616.44 420.5,616 421,616.98 421.5,617.17 422,617.69 422.5,617.81 423,617.86 423.5,617.58 424,617.53 424.5,617.17 425,616.78 425.5,616.99 426,616.22 426.5,616.36 427,616.69 427.5,617.11 428,617.94 428.5,618 429,617.99 429.5,618.01 430,617.81 430.5,617.66 431,616.64 431.5,616.95 432,616.65 432.5,616.82 433,616.59 433.5,616.97 434,617.54 434.5,617.82 435,617.65 435.5,617.43 436,616.76 436.5,615.22 437,615.29 437.5,616.51 438,616.58 438.5,617.64 439,617.91 439.5,618.34 440,618.47 440.5,618.68 441,618.54 441.5,618.17 442,617.28 442.5,616.54 443,615.51 443.5,613.31 444,615.37 444.5,615.06 445,616.05 445.5,617.13 446,617.37 446.5,616.83 447,616.61 447.5,616.36 448,614.88 448.5,615.65 449,616.02 449.5,617.23 450,617.43 450.5,617.45 451,617.69 451.5,617.08 452,616.52 452.5,616.11 453,615.89 453.5,615.89 454,616.41 454.5,617.41 455,617.45 455.5,617.57 456,618.04 456.5,617.66 457,616.76 457.5,616.41 458,616.83 458.5,617.22 459,617.4 459.5,617.42 460,618.01 460.5,617.77 461,617.75 461.5,617.57 462,617.33 462.5,617.11 463,617.05 463.5,616.41 464,617.22 464.5,617.71 465,617.81 465.5,617.92 466,617.91 466.5,617.51 467,616.81 467.5,616.86 468,616.5 468.5,616.31 469,617.34 469.5,617.67 470,617.73 470.5,617.91 471,618.04 471.5,617.5 472,617.26 472.5,616.97 473,617.04 473.5,617.56 474,617.31 474.5,618.02 475,617.96 475.5,618.39 476,618.45 476.5,618.43 477,618.63 477.5,618.56 478,618.45 478.5,618.57 479,618.44 479.5,618.2 480,618.34 480.5,618.43 481,618.42 481.5,618.54 482,618.58 482.5,618.42 483,618.66 483.5,618.67 484,618.67 484.5,618.77 485,618.77 485.5,618.79 486,618.61 486.5,618.8 487,618.58 487.5,618.71 488,618.8 488.5,618.8 489,618.75 489.5,618.79 490,618.54 490.5,618.59 491,618.75 491.5,618.74 492,618.7 492.5,618.62 493,618.43 493.5,618.43 494,618.58 494.5,618.58 495,618.36 495.5,618.46 496,618.63 496.5,618.62 497,618.62 497.5,618.67 498,618.7 498.5,618.58 499,618.73 499.5,618.77 500,618.63 500.5,618.79 501,618.8 501.5,618.71 502,618.74 502.5,618.79 503,618.78 503.5,618.66 504,618.76 504.5,618.59 505,618.71 505.5,618.7 506,618.39 506.5,618.61 507,618.35 507.5,618.52 508,618.57 508.5,618.46 509,618.62 509.5,618.53 510,618.64 510.5,618.67 511,618.71 511.5,618.73 512,618.7 512.5,618.77 513,618.78 513.5,618.77 514,618.55 514.5,618.8 515,618.6 515.5,618.8 516,618.65 516.5,618.8 517,618.8 517.5,618.8 518,618.66 518.5,618.8 519,618.8 519.5,618.73 520,618.8 520,618.8" fill="#b0208f"/>
<line x1="395.5" y1="618.7" x2="520" y2="618.7" stroke="#b0208f" stroke-width="0.5" stroke-dasharray="1.2 2.2" opacity="0.5"/>
<text x="395" y="611.4" font-size="5.6" text-anchor="start" fill="#111">[0-30]</text>
<text x="405" y="633" font-size="5.2" text-anchor="middle" fill="#111">73,414 kb</text>
<text x="437.5" y="633" font-size="5.2" text-anchor="middle" fill="#111">73,416 kb</text>
<text x="477" y="633" font-size="5.2" text-anchor="middle" fill="#111">73,418 kb</text>
<text x="508" y="633" font-size="5.2" text-anchor="middle" fill="#111">73,420 kb</text>
<line x1="397.5" y1="635" x2="397.5" y2="639.4" stroke="#222" stroke-width="0.6"/>
<line x1="417.5" y1="635" x2="417.5" y2="639.4" stroke="#222" stroke-width="0.6"/>
<line x1="437" y1="635" x2="437" y2="639.4" stroke="#222" stroke-width="0.6"/>
<line x1="456.8" y1="635" x2="456.8" y2="639.4" stroke="#222" stroke-width="0.6"/>
<line x1="476.3" y1="635" x2="476.3" y2="639.4" stroke="#222" stroke-width="0.6"/>
<line x1="496.2" y1="635" x2="496.2" y2="639.4" stroke="#222" stroke-width="0.6"/>
<line x1="515.8" y1="635" x2="515.8" y2="639.4" stroke="#222" stroke-width="0.6"/>
<line x1="395.5" y1="639.6" x2="520" y2="639.6" stroke="#111" stroke-width="0.9"/>
<line x1="395.5" y1="642.6" x2="520" y2="642.6" stroke="#111" stroke-width="1.6"/>
<line x1="395.5" y1="647.3" x2="441.5" y2="647.3" stroke="#4a5cc0" stroke-width="0.7"/>
<rect x="399.6" y="645.2" width="3" height="4.2" fill="#2536a0"/>
<rect x="416.8" y="645.2" width="1.6" height="4.2" fill="#2536a0"/>
<rect x="419.8" y="645.2" width="1.4" height="4.2" fill="#2536a0"/>
<rect x="427.8" y="645.2" width="1.6" height="4.2" fill="#2536a0"/>
<path d="M441.3 645 h5.8 l1.8 2.3 l-1.8 2.3 h-5.8z" fill="#2536a0"/>
<line x1="441.5" y1="653.3" x2="451.3" y2="653.3" stroke="#111" stroke-width="1.3"/>
<path d="M438.6 653.3 l4.2 -2.6 v5.2z" fill="#111"/>
<text x="452.6" y="653.7" font-size="8.9" text-anchor="start" fill="#111" font-style="italic">Slc5a5</text>
<text x="506.3" y="651" font-size="7.5" text-anchor="middle" fill="#e8392b">★</text>
<line x1="498.8" y1="653.2" x2="513" y2="653.2" stroke="#e8392b" stroke-width="1.8"/>
<polygon points="395.5,669.3 395.5,669.3 396,669.3 396.5,669.3 397,668.96 397.5,669.3 398,669.14 398.5,669.3 399,669.29 399.5,668.92 400,669.18 400.5,668.99 401,668.94 401.5,668.85 402,668.53 402.5,668.51 403,668.64 403.5,668.65 404,668.75 404.5,668.67 405,669.02 405.5,669.15 406,669.04 406.5,669.27 407,669.28 407.5,669.28 408,669.24 408.5,668.91 409,668.74 409.5,668.39 410,668.28 410.5,667.55 411,666.7 411.5,667.43 412,666.92 412.5,666.79 413,667.15 413.5,667.49 414,668.31 414.5,668.09 415,668.22 415.5,667.19 416,666.82 416.5,666.45 417,665.35 417.5,666.12 418,666.06 418.5,667.6 419,667.5 419.5,666.37 420,666.06 420.5,663.81 421,661.57 421.5,659.1 422,659.1 422.5,659.1 423,659.1 423.5,659.1 424,659.1 424.5,659.1 425,659.1 425.5,659.1 426,659.1 426.5,659.1 427,659.1 427.5,659.1 428,659.1 428.5,659.1 429,659.1 429.5,662.53 430,662.68 430.5,664.84 431,665.51 431.5,664.95 432,664.74 432.5,664.36 433,666.09 433.5,666.17 434,667.69 434.5,666.89 435,667.8 435.5,667.62 436,667.18 436.5,666.72 437,667.66 437.5,668.23 438,668.28 438.5,668.36 439,668.63 439.5,668.41 440,667.48 440.5,667.95 441,667.34 441.5,667.17 442,668.27 442.5,668.27 443,668.38 443.5,668.63 444,669.12 444.5,668.86 445,669.03 445.5,669.11 446,668.95 446.5,668.22 447,667.42 447.5,666.65 448,664.15 448.5,663.01 449,663.44 449.5,665.37 450,666.6 450.5,666.1 451,667.21 451.5,666.63 452,666.46 452.5,666.82 453,667.24 453.5,667.8 454,667.84 454.5,668.29 455,668.49 455.5,668.29 456,668.11 456.5,667.52 457,667.55 457.5,667.19 458,667.38 458.5,668.01 459,667.66 459.5,667.57 460,667.95 460.5,668.66 461,668.55 461.5,668.67 462,668.83 462.5,668.93 463,668.77 463.5,668.25 464,668.2 464.5,667.79 465,668.04 465.5,668.06 466,667.97 466.5,668.19 467,668.75 467.5,668.91 468,668.7 468.5,668.61 469,667.5 469.5,665.04 470,664.12 470.5,664.02 471,666.92 471.5,667.98 472,668.73 472.5,668.95 473,668.99 473.5,668.8 474,668.65 474.5,668.66 475,668.59 475.5,668.43 476,668.11 476.5,668.68 477,668.2 477.5,668.65 478,668.73 478.5,668.83 479,669.04 479.5,669.1 480,669.16 480.5,669.04 481,669.26 481.5,669.26 482,669.28 482.5,669.05 483,669.29 483.5,669.29 484,669.29 484.5,669.28 485,669.26 485.5,669.23 486,669.18 486.5,669.17 487,668.92 487.5,669.07 488,668.99 488.5,668.87 489,668.81 489.5,668.35 490,668.65 490.5,668.66 491,668.83 491.5,668.5 492,669 492.5,668.95 493,669.01 493.5,669.15 494,668.92 494.5,669.23 495,669.27 495.5,669.27 496,669.2 496.5,669.05 497,668.91 497.5,668.3 498,667.21 498.5,666.72 499,667.1 499.5,667.31 500,667.47 500.5,668.54 501,668.58 501.5,668.15 502,668.26 502.5,667.52 503,666.28 503.5,666.48 504,666.23 504.5,666 505,666.88 505.5,667.87 506,667.4 506.5,667.46 507,667.09 507.5,667.62 508,667.1 508.5,667.12 509,667.85 509.5,668.34 510,668.12 510.5,668.84 511,669.05 511.5,668.96 512,668.88 512.5,668.6 513,668.47 513.5,668.64 514,668.32 514.5,668.57 515,668.53 515.5,668.66 516,668.55 516.5,669.09 517,669.17 517.5,669.25 518,669.29 518.5,669.29 519,669.3 519.5,669.21 520,669.29 520,669.3" fill="#111111"/>
<line x1="395.5" y1="669.2" x2="520" y2="669.2" stroke="#111111" stroke-width="0.5" stroke-dasharray="1.2 2.2" opacity="0.5"/>
<text x="395" y="661.9" font-size="5.6" text-anchor="start" fill="#111">[0-16]</text>
<polygon points="395.5,682.5 395.5,682.34 396,682.5 396.5,682.5 397,682.5 397.5,682.5 398,682.23 398.5,682.5 399,682.5 399.5,682.49 400,682.48 400.5,682.47 401,682.44 401.5,682.32 402,682.38 402.5,682.23 403,682.25 403.5,682.37 404,682.32 404.5,682.39 405,682.42 405.5,682.16 406,682.21 406.5,682.36 407,682.5 407.5,682.49 408,682.49 408.5,682.45 409,682.22 409.5,682.37 410,682.21 410.5,681.8 411,681.62 411.5,681.91 412,681.62 412.5,681.52 413,681.78 413.5,681.79 414,682.02 414.5,681.95 415,682.1 415.5,681.79 416,681.68 416.5,681.33 417,681.58 417.5,681.51 418,681.4 418.5,681.87 419,681.93 419.5,681.55 420,681.63 420.5,681.38 421,680.74 421.5,679.58 422,680.56 422.5,679.97 423,680.03 423.5,679.61 424,679.01 424.5,679.12 425,678.16 425.5,678.08 426,679.38 426.5,678.42 427,678.99 427.5,680.67 428,679.73 428.5,681.15 429,680.88 429.5,681.5 430,681.22 430.5,681.66 431,681.4 431.5,681.37 432,681.42 432.5,681.36 433,681.3 433.5,681.59 434,681.67 434.5,681.81 435,681.76 435.5,681.99 436,681.8 436.5,681.73 437,681.82 437.5,682.03 438,681.92 438.5,682.27 439,682.26 439.5,682.16 440,681.97 440.5,681.96 441,681.72 441.5,681.95 442,682.02 442.5,682.12 443,682.33 443.5,682.18 444,682.46 444.5,682.48 445,682.48 445.5,682.16 446,682.37 446.5,682.22 447,681.95 447.5,681.39 448,680.72 448.5,680.45 449,681.11 449.5,681.46 450,681.36 450.5,681.76 451,681.69 451.5,681.53 452,681.47 452.5,681.75 453,681.85 453.5,682.06 454,682.2 454.5,681.97 455,682.02 455.5,681.97 456,681.86 456.5,682.06 457,681.78 457.5,682.08 458,681.94 458.5,681.78 459,682.12 459.5,682.13 460,682.17 460.5,682.28 461,682.3 461.5,682.34 462,682.36 462.5,682.18 463,682.28 463.5,682.23 464,682.01 464.5,681.71 465,681.9 465.5,682.03 466,682.22 466.5,682.21 467,682.28 467.5,682.38 468,682.43 468.5,682.33 469,681.98 469.5,681.22 470,680.52 470.5,681.02 471,681.8 471.5,682.01 472,682.32 472.5,682.42 473,682.38 473.5,682.37 474,682.38 474.5,682.2 475,682.18 475.5,682.19 476,682.24 476.5,682.22 477,682.26 477.5,682.26 478,682.33 478.5,682.23 479,682.38 479.5,682.39 480,682.45 480.5,682.32 481,682.49 481.5,682.23 482,682.49 482.5,682.2 483,682.41 483.5,682.5 484,682.5 484.5,682.49 485,682.49 485.5,682.48 486,682.4 486.5,682.3 487,682.42 487.5,682.4 488,682.37 488.5,682.08 489,682.36 489.5,682.25 490,682.28 490.5,682.23 491,682.36 491.5,682.3 492,682.38 492.5,682.39 493,682.37 493.5,682.41 494,682.22 494.5,682.48 495,682.49 495.5,682.37 496,682.47 496.5,682.2 497,682.39 497.5,682.26 498,682.01 498.5,681.54 499,681.92 499.5,681.84 500,681.95 500.5,682.15 501,682.2 501.5,682.29 502,681.97 502.5,681.95 503,681.4 503.5,681.35 504,681.15 504.5,680.95 505,681.9 505.5,681.96 506,681.9 506.5,682.07 507,682.01 507.5,682.06 508,681.97 508.5,681.87 509,681.98 509.5,682.02 510,682.01 510.5,682.13 511,682.16 511.5,682.34 512,682.06 512.5,682.32 513,682.22 513.5,681.93 514,681.99 514.5,681.88 515,682.08 515.5,682.34 516,682.41 516.5,682.45 517,682.23 517.5,682.49 518,682.31 518.5,682.5 519,682.5 519.5,682.36 520,682.5 520,682.5" fill="#e8392b"/>
<line x1="395.5" y1="682.4" x2="520" y2="682.4" stroke="#e8392b" stroke-width="0.5" stroke-dasharray="1.2 2.2" opacity="0.5"/>
<text x="395" y="675.1" font-size="5.6" text-anchor="start" fill="#111">[0-16]</text>
<polygon points="395.5,695.6 395.5,695.34 396,695.39 396.5,695.59 397,695.6 397.5,695.6 398,695.6 398.5,695.54 399,695.48 399.5,695.6 400,695.59 400.5,695.59 401,695.57 401.5,695.57 402,695.56 402.5,695.5 403,695.49 403.5,695.54 404,695.57 404.5,695.56 405,695.58 405.5,695.47 406,695.59 406.5,695.32 407,695.6 407.5,695.45 408,695.6 408.5,695.59 409,695.58 409.5,695.54 410,695.52 410.5,695.47 411,695.43 411.5,695.32 412,695.3 412.5,695.11 413,695.32 413.5,695.42 414,695.45 414.5,695.49 415,695.47 415.5,695.45 416,695.32 416.5,694.99 417,695.23 417.5,695.37 418,695.38 418.5,695.26 419,695.42 419.5,695.31 420,695.3 420.5,695.22 421,694.68 421.5,694.86 422,694.91 422.5,694.68 423,694.56 423.5,694.78 424,694.81 424.5,694.32 425,694.57 425.5,694.73 426,694.48 426.5,694.78 427,694.55 427.5,694.67 428,694.91 428.5,695.05 429,695.01 429.5,695.35 430,695.31 430.5,695.34 431,695.05 431.5,695.32 432,695.27 432.5,694.95 433,695.24 433.5,695.08 434,695.38 434.5,695.42 435,695.41 435.5,695.09 436,695.37 436.5,695.42 437,695.19 437.5,695.51 438,695.53 438.5,695.41 439,695.24 439.5,695.47 440,695.45 440.5,695.46 441,695.22 441.5,695.44 442,695.48 442.5,695.49 443,695.53 443.5,695.56 444,695.35 444.5,695.57 445,695.31 445.5,695.59 446,695.57 446.5,695.34 447,695.45 447.5,695.38 448,695.31 448.5,695.05 449,695.05 449.5,695.1 450,695.06 450.5,695.42 451,695.34 451.5,695.15 452,695.36 452.5,695.34 453,695.32 453.5,695.43 454,695.52 454.5,695.5 455,695.51 455.5,695.53 456,695.53 456.5,695.35 457,695.45 457.5,695.45 458,695.38 458.5,695.48 459,695.43 459.5,695.3 460,695.49 460.5,695.37 461,695.54 461.5,695.54 462,695.56 462.5,695.37 463,695.5 463.5,695.52 464,695.48 464.5,695.38 465,695.27 465.5,695.33 466,695.3 466.5,695.48 467,695.49 467.5,695.3 468,695.07 468.5,694.44 469,694.28 469.5,693.01 470,693.44 470.5,693.57 471,692.79 471.5,693.96 472,694.76 472.5,694.97 473,695.13 473.5,695.45 474,695.51 474.5,695.52 475,695.51 475.5,695.25 476,695.5 476.5,695.37 477,695.53 477.5,695.42 478,695.55 478.5,695.56 479,695.31 479.5,695.58 480,695.44 480.5,695.59 481,695.51 481.5,695.34 482,695.55 482.5,695.57 483,695.6 483.5,695.6 484,695.6 484.5,695.6 485,695.49 485.5,695.3 486,695.59 486.5,695.59 487,695.58 487.5,695.58 488,695.57 488.5,695.52 489,695.54 489.5,695.48 490,695.27 490.5,695.38 491,695.3 491.5,695.51 492,695.57 492.5,695.46 493,695.49 493.5,695.36 494,695.59 494.5,695.59 495,695.55 495.5,695.57 496,695.59 496.5,695.59 497,695.56 497.5,695.51 498,695.28 498.5,695.47 499,695.45 499.5,695.44 500,695.18 500.5,695.5 501,695.24 501.5,695.5 502,695.48 502.5,695.06 503,695.3 503.5,695.34 504,695.22 504.5,695.37 505,695.35 505.5,695.42 506,695.46 506.5,695.45 507,695.47 507.5,695.42 508,695.13 508.5,695.42 509,695.45 509.5,695.48 510,695.55 510.5,695.55 511,695.58 511.5,695.58 512,695.57 512.5,695.55 513,695.44 513.5,695.53 514,695.24 514.5,695.43 515,695.55 515.5,695.55 516,695.31 516.5,695.41 517,695.42 517.5,695.6 518,695.6 518.5,695.6 519,695.6 519.5,695.6 520,695.41 520,695.6" fill="#3aaa4a"/>
<line x1="395.5" y1="695.5" x2="520" y2="695.5" stroke="#3aaa4a" stroke-width="0.5" stroke-dasharray="1.2 2.2" opacity="0.5"/>
<text x="395" y="688.2" font-size="5.6" text-anchor="start" fill="#111">[0-16]</text>
<polygon points="395.5,709.3 395.5,709.25 396,709.3 396.5,709.3 397,709.3 397.5,709.02 398,709.24 398.5,709.3 399,709.3 399.5,709.29 400,709.23 400.5,709.22 401,709.04 401.5,709.11 402,709.09 402.5,709.04 403,709.02 403.5,708.84 404,709.1 404.5,709.15 405,709.22 405.5,709.04 406,709.28 406.5,709.02 407,709.18 407.5,709.07 408,709.29 408.5,709.24 409,709.19 409.5,708.84 410,708.59 410.5,708.61 411,708.37 411.5,708.32 412,708.42 412.5,708.51 413,708.41 413.5,708.74 414,708.86 414.5,708.88 415,708.76 415.5,708.4 416,707.92 416.5,707.84 417,708.18 417.5,708.1 418,708.59 418.5,708.37 419,708.59 419.5,708.47 420,708.47 420.5,707.96 421,707.35 421.5,705.87 422,705.89 422.5,705.97 423,706.4 423.5,706.35 424,706.14 424.5,706.08 425,704.99 425.5,704.25 426,704.52 426.5,705.39 427,705.92 427.5,705.27 428,706.35 428.5,706.63 429,708.19 429.5,708.04 430,707.93 430.5,707.92 431,708.02 431.5,707.97 432,707.97 432.5,707.71 433,708.29 433.5,708.31 434,708.65 434.5,708.53 435,708.6 435.5,708.5 436,708.58 436.5,708.53 437,708.65 437.5,708.55 438,709.05 438.5,709.01 439,708.94 439.5,708.86 440,708.89 440.5,708.64 441,708.68 441.5,708.66 442,708.72 442.5,709.02 443,708.99 443.5,709.12 444,709.17 444.5,708.99 445,709.27 445.5,709.07 446,709.17 446.5,708.86 447,708.53 447.5,707.8 448,707.7 448.5,706.69 449,707.41 449.5,707.91 450,708.01 450.5,708.08 451,708.5 451.5,708.16 452,708.38 452.5,708.37 453,708.37 453.5,708.55 454,708.67 454.5,708.82 455,709.02 455.5,708.68 456,708.88 456.5,708.94 457,708.52 457.5,708.51 458,708.58 458.5,708.55 459,708.53 459.5,708.78 460,708.94 460.5,709.01 461,709.08 461.5,708.79 462,709.08 462.5,709.13 463,708.87 463.5,709.02 464,708.79 464.5,708.7 465,708.72 465.5,708.87 466,708.83 466.5,709.08 467,709.09 467.5,709.17 468,709.22 468.5,708.82 469,708.75 469.5,707.83 470,706.93 470.5,707.7 471,708.33 471.5,708.67 472,709.08 472.5,709.18 473,709.17 473.5,709.16 474,709.07 474.5,708.84 475,708.98 475.5,709 476,708.97 476.5,708.69 477,708.87 477.5,709.12 478,709.11 478.5,708.88 479,709.18 479.5,709.23 480,709.23 480.5,709.17 481,709.28 481.5,709.28 482,709.29 482.5,709.27 483,709.3 483.5,709.28 484,709.3 484.5,709.29 485,709.15 485.5,709.27 486,709.25 486.5,709.11 487,709.23 487.5,708.94 488,709.13 488.5,709.14 489,709.06 489.5,709.1 490,709.1 490.5,709.08 491,709.12 491.5,709.16 492,708.82 492.5,709.07 493,709.21 493.5,709.26 494,709.27 494.5,709.28 495,709.28 495.5,709.2 496,709.27 496.5,709.08 497,709.1 497.5,709.01 498,708.72 498.5,708.56 499,708.06 499.5,708.65 500,708.52 500.5,708.84 501,708.78 501.5,708.95 502,708.8 502.5,708.53 503,708.25 503.5,707.7 504,708.2 504.5,708.43 505,708.12 505.5,708.77 506,708.63 506.5,708.46 507,708.42 507.5,708.75 508,708.58 508.5,708.34 509,708.68 509.5,708.88 510,709.07 510.5,708.9 511,709.16 511.5,709.17 512,709.12 512.5,708.83 513,708.98 513.5,708.93 514,708.92 514.5,708.9 515,709.01 515.5,708.77 516,709.17 516.5,709.23 517,709.27 517.5,709.29 518,709.21 518.5,709.3 519,709.14 519.5,709.17 520,709.27 520,709.3" fill="#b0208f"/>
<line x1="395.5" y1="709.2" x2="520" y2="709.2" stroke="#b0208f" stroke-width="0.5" stroke-dasharray="1.2 2.2" opacity="0.5"/>
<text x="395" y="701.9" font-size="5.6" text-anchor="start" fill="#111">[0-16]</text>
<line x1="465.6" y1="721.7" x2="480.6" y2="721.7" stroke="#111111" stroke-width="2"/>
<text x="485" y="724.6" font-size="8.1" text-anchor="start" fill="#111">WT</text>
<line x1="465.6" y1="731.7" x2="480.6" y2="731.7" stroke="#e8392b" stroke-width="2"/>
<text x="485" y="734.6" font-size="8.1" text-anchor="start" fill="#111" font-style="italic">TA1a</text>
<line x1="465.6" y1="741.7" x2="480.6" y2="741.7" stroke="#3aaa4a" stroke-width="2"/>
<text x="485" y="744.6" font-size="8.1" text-anchor="start" fill="#111" font-style="italic">TA2</text>
<line x1="465.6" y1="751.6" x2="480.6" y2="751.6" stroke="#b0208f" stroke-width="2"/>
<text x="485" y="754.5" font-size="8.1" text-anchor="start" fill="#111" font-style="italic">TSb1</text>
</svg>
</body></html>
